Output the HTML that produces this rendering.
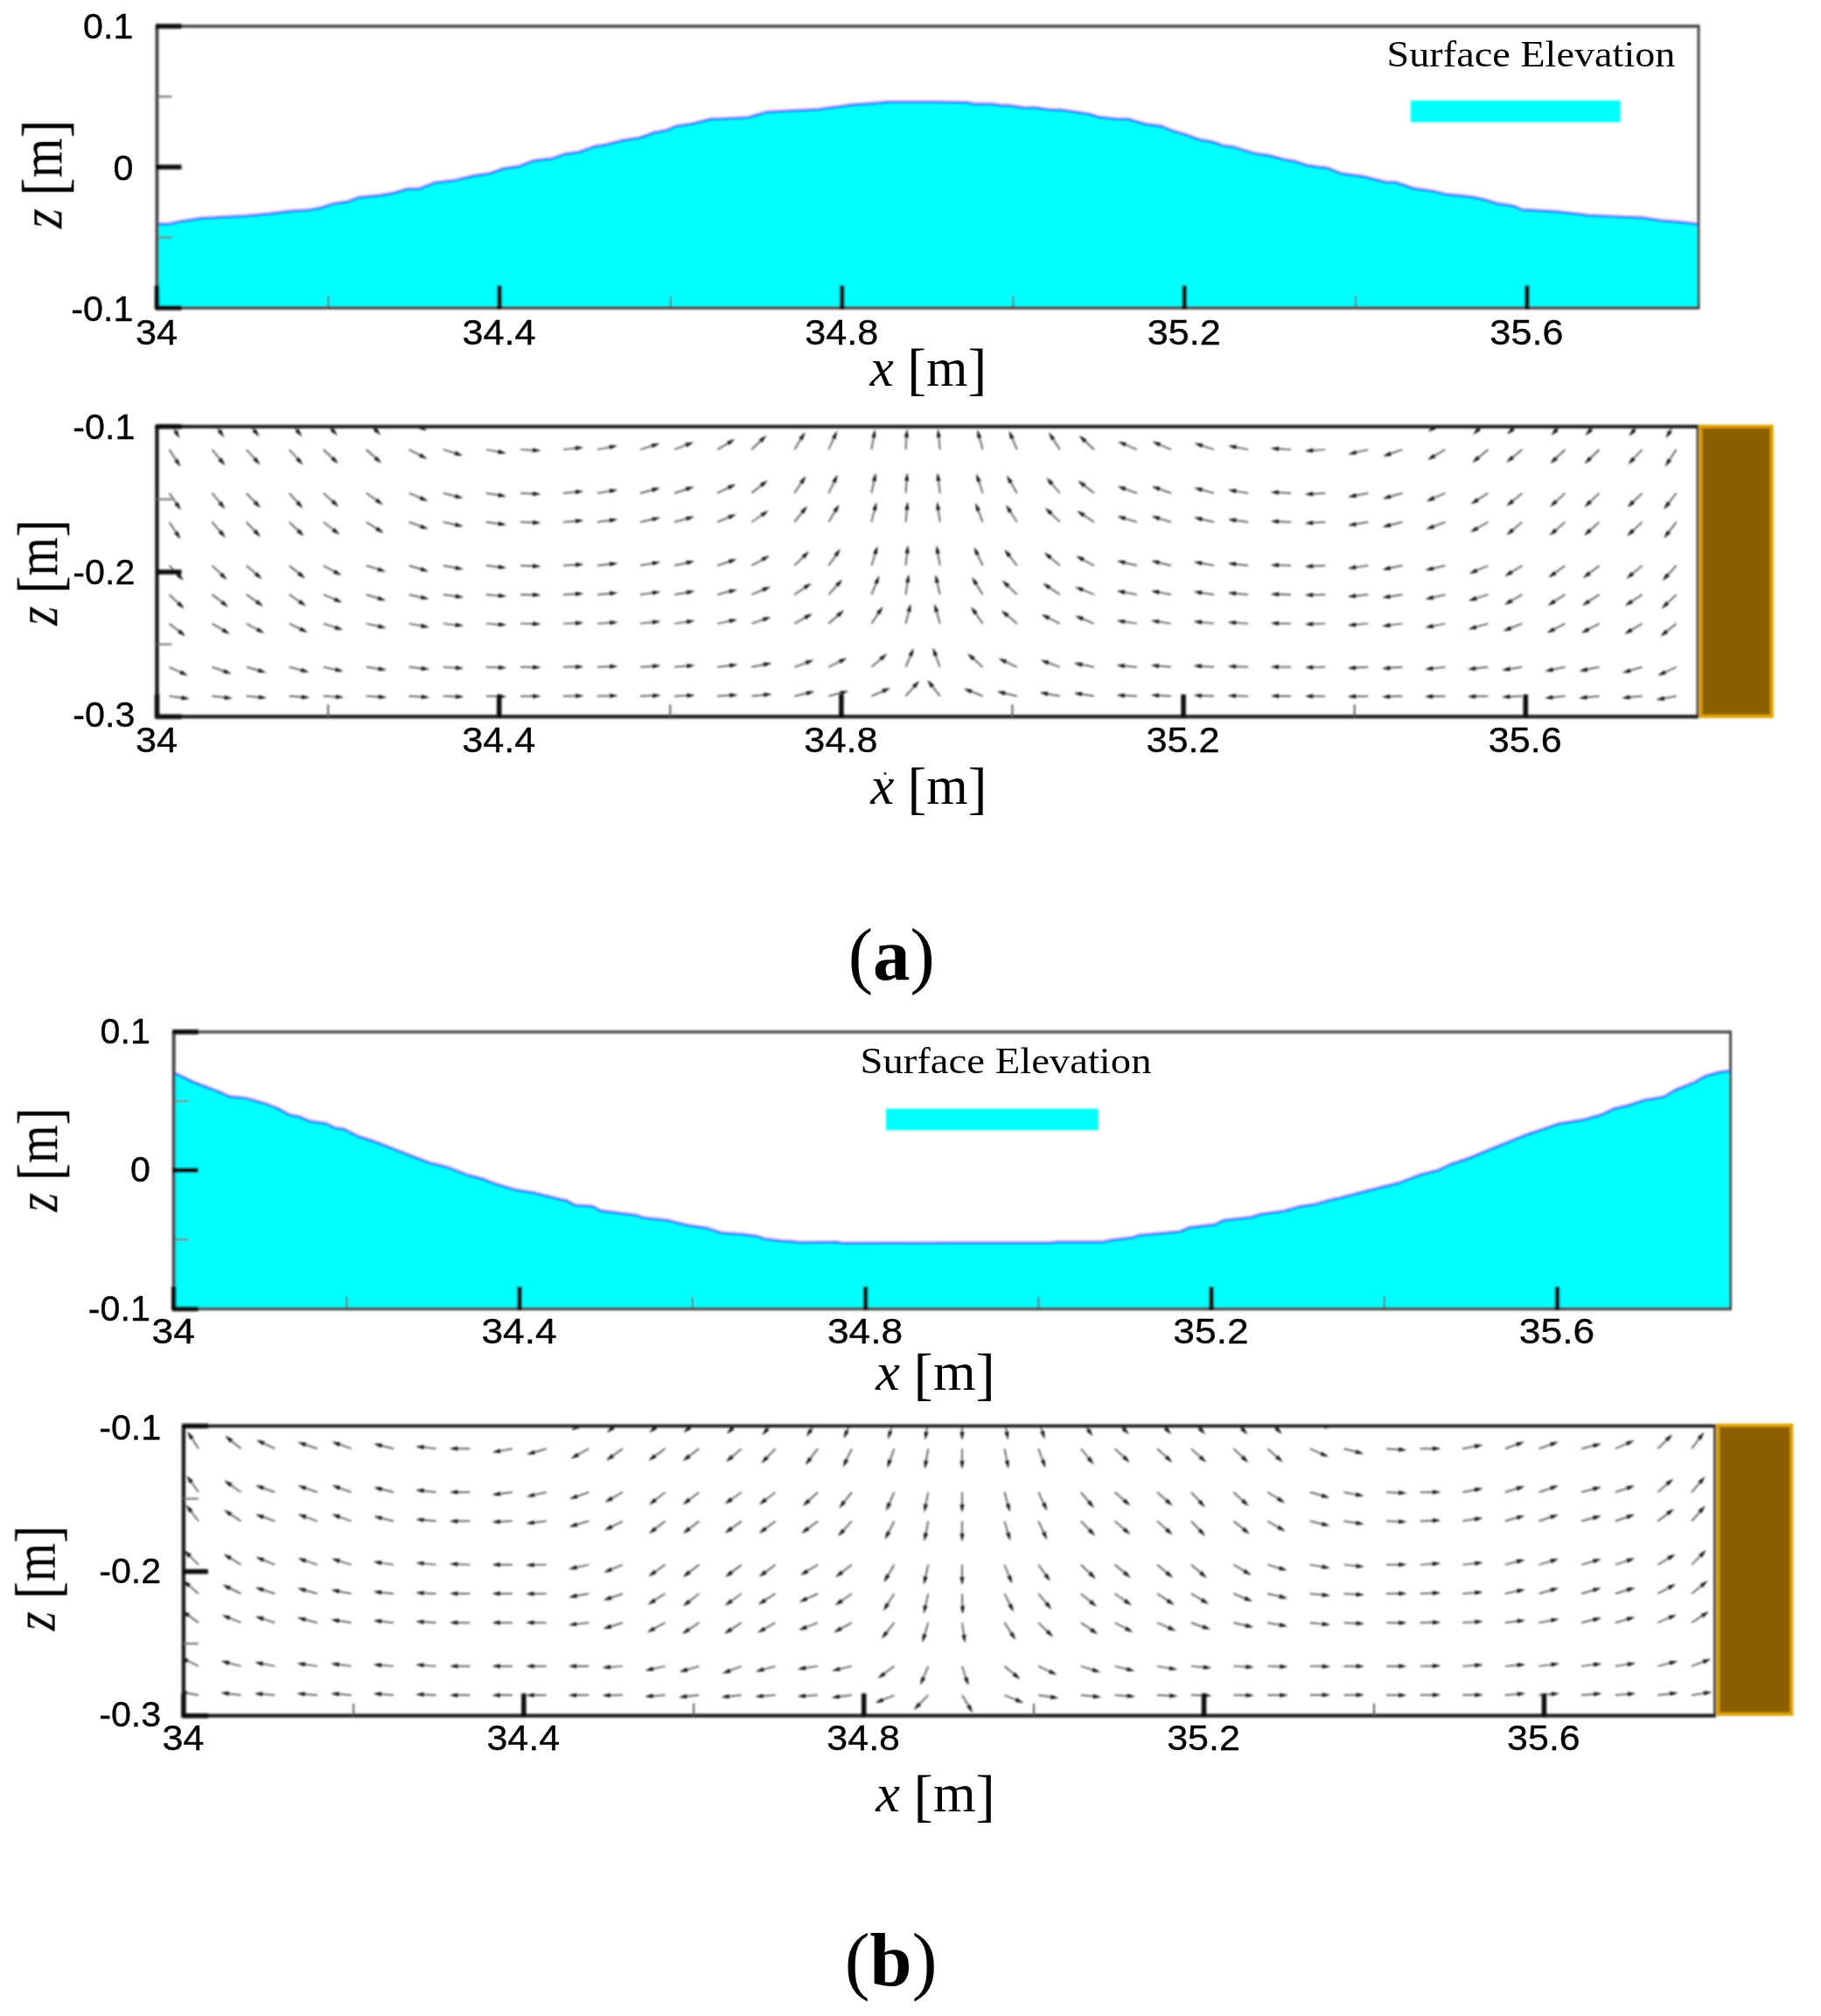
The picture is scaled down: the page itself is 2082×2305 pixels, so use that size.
<!DOCTYPE html>
<html lang="en"><head><meta charset="utf-8"><title>Figure</title>
<style>html,body{margin:0;padding:0;background:#fff}svg{display:block}</style></head>
<body>
<svg width="2082" height="2305" viewBox="0 0 2082 2305">
<defs>
<filter id="bl" x="-2%" y="-2%" width="104%" height="104%"><feGaussianBlur stdDeviation="0.8"/></filter>
<filter id="bt" x="-2%" y="-2%" width="104%" height="104%"><feGaussianBlur stdDeviation="0.5"/></filter>
<clipPath id="c2"><rect x="179.5" y="487.7" width="1761" height="331.7"/></clipPath>
<clipPath id="c4"><rect x="209.9" y="1630.4" width="1751" height="331.3"/></clipPath>
</defs>
<rect width="2082" height="2305" fill="#fff"/>
<g filter="url(#bl)">
<path d="M179.5,255.8 L192.3,255.8 L207.1,252.6 L229.4,249.3 L256.5,247.6 L281.3,246.4 L308.4,243.9 L333.2,240.9 L352.9,239.7 L367.7,237.0 L380.1,232.8 L397.4,230.3 L409.8,225.4 L434.5,222.9 L449.3,220.4 L466.6,215.5 L479.0,215.5 L496.2,208.8 L521.0,205.6 L540.7,200.7 L560.5,197.7 L575.3,192.5 L592.6,190.0 L609.9,183.4 L624.7,181.4 L629.9,181.4 L644.7,176.0 L662.0,173.5 L679.3,167.3 L694.1,164.6 L713.9,159.7 L731.2,157.2 L746.0,151.8 L760.9,148.8 L773.2,143.9 L793.0,140.7 L812.8,135.7 L830.0,135.2 L854.8,134.0 L877.0,127.6 L904.2,126.3 L936.3,124.6 L953.6,122.1 L975.8,119.2 L995.6,117.9 L1015.4,116.3 L1069.8,116.3 L1104.5,116.7 L1114.4,118.4 L1134.1,118.4 L1144.0,120.1 L1153.9,120.1 L1171.2,122.9 L1183.6,122.6 L1200.9,125.3 L1213.2,125.3 L1233.0,128.3 L1245.3,130.0 L1255.2,133.2 L1277.5,135.7 L1289.8,135.7 L1309.6,141.4 L1326.9,143.6 L1339.2,148.6 L1356.5,153.8 L1371.4,159.2 L1386.2,161.7 L1398.5,166.1 L1410.9,167.8 L1435.6,175.3 L1450.4,177.2 L1467.7,181.9 L1480.1,183.9 L1494.9,188.8 L1505.0,190.2 L1517.3,191.6 L1534.6,198.3 L1559.3,201.5 L1584.0,207.7 L1596.4,208.2 L1616.1,214.9 L1638.4,218.1 L1653.2,221.8 L1682.9,224.7 L1697.7,228.0 L1712.5,232.4 L1729.8,234.9 L1739.7,239.1 L1757.0,240.3 L1779.2,241.5 L1816.3,245.7 L1846.0,247.2 L1878.1,248.5 L1900.3,251.9 L1920.1,253.4 L1942.0,255.9 L1942,352 L179.5,352 Z" fill="#00ffff"/><path d="M179.5,255.8 L192.3,255.8 L207.1,252.6 L229.4,249.3 L256.5,247.6 L281.3,246.4 L308.4,243.9 L333.2,240.9 L352.9,239.7 L367.7,237.0 L380.1,232.8 L397.4,230.3 L409.8,225.4 L434.5,222.9 L449.3,220.4 L466.6,215.5 L479.0,215.5 L496.2,208.8 L521.0,205.6 L540.7,200.7 L560.5,197.7 L575.3,192.5 L592.6,190.0 L609.9,183.4 L624.7,181.4 L629.9,181.4 L644.7,176.0 L662.0,173.5 L679.3,167.3 L694.1,164.6 L713.9,159.7 L731.2,157.2 L746.0,151.8 L760.9,148.8 L773.2,143.9 L793.0,140.7 L812.8,135.7 L830.0,135.2 L854.8,134.0 L877.0,127.6 L904.2,126.3 L936.3,124.6 L953.6,122.1 L975.8,119.2 L995.6,117.9 L1015.4,116.3 L1069.8,116.3 L1104.5,116.7 L1114.4,118.4 L1134.1,118.4 L1144.0,120.1 L1153.9,120.1 L1171.2,122.9 L1183.6,122.6 L1200.9,125.3 L1213.2,125.3 L1233.0,128.3 L1245.3,130.0 L1255.2,133.2 L1277.5,135.7 L1289.8,135.7 L1309.6,141.4 L1326.9,143.6 L1339.2,148.6 L1356.5,153.8 L1371.4,159.2 L1386.2,161.7 L1398.5,166.1 L1410.9,167.8 L1435.6,175.3 L1450.4,177.2 L1467.7,181.9 L1480.1,183.9 L1494.9,188.8 L1505.0,190.2 L1517.3,191.6 L1534.6,198.3 L1559.3,201.5 L1584.0,207.7 L1596.4,208.2 L1616.1,214.9 L1638.4,218.1 L1653.2,221.8 L1682.9,224.7 L1697.7,228.0 L1712.5,232.4 L1729.8,234.9 L1739.7,239.1 L1757.0,240.3 L1779.2,241.5 L1816.3,245.7 L1846.0,247.2 L1878.1,248.5 L1900.3,251.9 L1920.1,253.4 L1942.0,255.9" fill="none" stroke-linejoin="round" stroke="#dcc0ff" stroke-width="1.7" transform="translate(0,-1.2)"/><path d="M179.5,255.8 L192.3,255.8 L207.1,252.6 L229.4,249.3 L256.5,247.6 L281.3,246.4 L308.4,243.9 L333.2,240.9 L352.9,239.7 L367.7,237.0 L380.1,232.8 L397.4,230.3 L409.8,225.4 L434.5,222.9 L449.3,220.4 L466.6,215.5 L479.0,215.5 L496.2,208.8 L521.0,205.6 L540.7,200.7 L560.5,197.7 L575.3,192.5 L592.6,190.0 L609.9,183.4 L624.7,181.4 L629.9,181.4 L644.7,176.0 L662.0,173.5 L679.3,167.3 L694.1,164.6 L713.9,159.7 L731.2,157.2 L746.0,151.8 L760.9,148.8 L773.2,143.9 L793.0,140.7 L812.8,135.7 L830.0,135.2 L854.8,134.0 L877.0,127.6 L904.2,126.3 L936.3,124.6 L953.6,122.1 L975.8,119.2 L995.6,117.9 L1015.4,116.3 L1069.8,116.3 L1104.5,116.7 L1114.4,118.4 L1134.1,118.4 L1144.0,120.1 L1153.9,120.1 L1171.2,122.9 L1183.6,122.6 L1200.9,125.3 L1213.2,125.3 L1233.0,128.3 L1245.3,130.0 L1255.2,133.2 L1277.5,135.7 L1289.8,135.7 L1309.6,141.4 L1326.9,143.6 L1339.2,148.6 L1356.5,153.8 L1371.4,159.2 L1386.2,161.7 L1398.5,166.1 L1410.9,167.8 L1435.6,175.3 L1450.4,177.2 L1467.7,181.9 L1480.1,183.9 L1494.9,188.8 L1505.0,190.2 L1517.3,191.6 L1534.6,198.3 L1559.3,201.5 L1584.0,207.7 L1596.4,208.2 L1616.1,214.9 L1638.4,218.1 L1653.2,221.8 L1682.9,224.7 L1697.7,228.0 L1712.5,232.4 L1729.8,234.9 L1739.7,239.1 L1757.0,240.3 L1779.2,241.5 L1816.3,245.7 L1846.0,247.2 L1878.1,248.5 L1900.3,251.9 L1920.1,253.4 L1942.0,255.9" fill="none" stroke-linejoin="round" stroke="#0a7cff" stroke-width="2.5" transform="translate(0,0.8)"/>
<line x1="177.55" y1="30" x2="1943.45" y2="30" stroke="#444" stroke-width="3.3"/>
<line x1="177.55" y1="352" x2="1943.45" y2="352" stroke="#444" stroke-width="3.5999999999999996"/>
<line x1="179.5" y1="30" x2="179.5" y2="352" stroke="#444" stroke-width="3.9"/>
<line x1="1942" y1="30" x2="1942" y2="352" stroke="#444" stroke-width="2.9"/>
<line x1="178.0" y1="30" x2="207.5" y2="30" stroke="#0a0a0a" stroke-width="5.5"/>
<line x1="178.0" y1="191" x2="207.5" y2="191" stroke="#0a0a0a" stroke-width="5.5"/>
<line x1="178.0" y1="352" x2="207.5" y2="352" stroke="#0a0a0a" stroke-width="5.5"/>
<line x1="179.5" y1="110.5" x2="196.5" y2="110.5" stroke="#6a6a6a" stroke-width="2"/>
<line x1="179.5" y1="271.5" x2="196.5" y2="271.5" stroke="#6a6a6a" stroke-width="2"/>
<line x1="179.5" y1="326.5" x2="179.5" y2="353.5" stroke="#0a0a0a" stroke-width="5.5"/>

<line x1="571.1" y1="326.5" x2="571.1" y2="353.5" stroke="#0a0a0a" stroke-width="5.5"/>

<line x1="962.7" y1="326.5" x2="962.7" y2="353.5" stroke="#0a0a0a" stroke-width="5.5"/>

<line x1="1354.3" y1="326.5" x2="1354.3" y2="353.5" stroke="#0a0a0a" stroke-width="5.5"/>

<line x1="1745.9" y1="326.5" x2="1745.9" y2="353.5" stroke="#0a0a0a" stroke-width="5.5"/>

<line x1="375.3" y1="338" x2="375.3" y2="352" stroke="#5a5a5a" stroke-width="2"/>
<line x1="766.9" y1="338" x2="766.9" y2="352" stroke="#5a5a5a" stroke-width="2"/>
<line x1="1158.5" y1="338" x2="1158.5" y2="352" stroke="#5a5a5a" stroke-width="2"/>
<line x1="1550.1" y1="338" x2="1550.1" y2="352" stroke="#5a5a5a" stroke-width="2"/>



<rect x="1612.8" y="115" width="239.7" height="24.7" fill="#00ffff"/>
<g clip-path="url(#c2)">
<line x1="193.6" y1="795.9" x2="213.9" y2="798.6" stroke="#555" stroke-width="1.75"/>
<polygon points="216.9,799.0 207.1,800.2 207.8,795.3" fill="#111"/>
<line x1="193.6" y1="762.7" x2="212.2" y2="771.3" stroke="#555" stroke-width="1.75"/>
<polygon points="214.9,772.6 205.3,770.8 207.4,766.3" fill="#111"/>
<line x1="193.6" y1="713.0" x2="209.8" y2="725.6" stroke="#555" stroke-width="1.75"/>
<polygon points="212.1,727.5 203.1,723.6 206.2,719.6" fill="#111"/>
<line x1="193.6" y1="679.8" x2="208.4" y2="693.9" stroke="#555" stroke-width="1.75"/>
<polygon points="210.6,696.0 202.0,691.3 205.5,687.6" fill="#111"/>
<line x1="193.6" y1="646.7" x2="207.7" y2="661.5" stroke="#555" stroke-width="1.75"/>
<polygon points="209.8,663.7 201.4,658.6 205.1,655.1" fill="#111"/>
<line x1="193.6" y1="596.9" x2="204.8" y2="614.1" stroke="#555" stroke-width="1.75"/>
<polygon points="206.4,616.6 199.2,610.0 203.3,607.3" fill="#111"/>
<line x1="193.6" y1="563.8" x2="205.2" y2="580.7" stroke="#555" stroke-width="1.75"/>
<polygon points="206.8,583.2 199.4,576.8 203.6,574.0" fill="#111"/>
<line x1="193.6" y1="514.0" x2="204.8" y2="531.2" stroke="#555" stroke-width="1.75"/>
<polygon points="206.4,533.7 199.2,527.1 203.3,524.4" fill="#111"/>
<line x1="193.6" y1="480.9" x2="203.9" y2="498.6" stroke="#555" stroke-width="1.75"/>
<polygon points="205.4,501.2 198.5,494.3 202.8,491.7" fill="#111"/>
<line x1="242.5" y1="795.9" x2="262.9" y2="798.1" stroke="#555" stroke-width="1.75"/>
<polygon points="265.9,798.4 256.2,799.9 256.7,794.9" fill="#111"/>
<line x1="242.5" y1="762.7" x2="261.9" y2="769.4" stroke="#555" stroke-width="1.75"/>
<polygon points="264.8,770.4 255.0,769.6 256.6,764.9" fill="#111"/>
<line x1="242.5" y1="713.0" x2="260.2" y2="723.3" stroke="#555" stroke-width="1.75"/>
<polygon points="262.8,724.9 253.4,722.2 255.9,717.9" fill="#111"/>
<line x1="242.5" y1="679.8" x2="258.8" y2="692.3" stroke="#555" stroke-width="1.75"/>
<polygon points="261.1,694.2 252.1,690.3 255.2,686.4" fill="#111"/>
<line x1="242.5" y1="646.7" x2="257.4" y2="660.8" stroke="#555" stroke-width="1.75"/>
<polygon points="259.6,662.9 251.0,658.2 254.4,654.5" fill="#111"/>
<line x1="242.5" y1="596.9" x2="255.8" y2="612.5" stroke="#555" stroke-width="1.75"/>
<polygon points="257.8,614.8 249.7,609.2 253.5,605.9" fill="#111"/>
<line x1="242.5" y1="563.8" x2="255.5" y2="579.7" stroke="#555" stroke-width="1.75"/>
<polygon points="257.3,582.1 249.4,576.3 253.3,573.1" fill="#111"/>
<line x1="242.5" y1="514.0" x2="255.5" y2="529.9" stroke="#555" stroke-width="1.75"/>
<polygon points="257.3,532.3 249.4,526.5 253.3,523.3" fill="#111"/>
<line x1="242.5" y1="480.9" x2="254.6" y2="497.5" stroke="#555" stroke-width="1.75"/>
<polygon points="256.3,499.9 248.7,493.7 252.8,490.8" fill="#111"/>
<line x1="281.7" y1="795.9" x2="302.1" y2="797.7" stroke="#555" stroke-width="1.75"/>
<polygon points="305.1,798.0 295.4,799.6 295.9,794.7" fill="#111"/>
<line x1="281.7" y1="762.7" x2="301.5" y2="768.1" stroke="#555" stroke-width="1.75"/>
<polygon points="304.4,768.9 294.6,768.8 295.9,764.0" fill="#111"/>
<line x1="281.7" y1="713.0" x2="299.8" y2="722.7" stroke="#555" stroke-width="1.75"/>
<polygon points="302.4,724.1 292.9,721.8 295.2,717.4" fill="#111"/>
<line x1="281.7" y1="679.8" x2="298.5" y2="691.5" stroke="#555" stroke-width="1.75"/>
<polygon points="301.0,693.2 291.8,689.8 294.6,685.7" fill="#111"/>
<line x1="281.7" y1="646.7" x2="297.3" y2="660.0" stroke="#555" stroke-width="1.75"/>
<polygon points="299.6,662.0 290.7,657.7 294.0,653.9" fill="#111"/>
<line x1="281.7" y1="596.9" x2="295.8" y2="611.8" stroke="#555" stroke-width="1.75"/>
<polygon points="297.9,613.9 289.5,608.8 293.2,605.3" fill="#111"/>
<line x1="281.7" y1="563.8" x2="295.8" y2="578.7" stroke="#555" stroke-width="1.75"/>
<polygon points="297.9,580.8 289.5,575.7 293.2,572.2" fill="#111"/>
<line x1="281.7" y1="514.0" x2="295.5" y2="529.2" stroke="#555" stroke-width="1.75"/>
<polygon points="297.5,531.4 289.2,526.1 293.0,522.7" fill="#111"/>
<line x1="281.7" y1="480.9" x2="294.6" y2="496.9" stroke="#555" stroke-width="1.75"/>
<polygon points="296.5,499.2 288.6,493.4 292.4,490.2" fill="#111"/>
<line x1="330.7" y1="795.9" x2="351.1" y2="797.4" stroke="#555" stroke-width="1.75"/>
<polygon points="354.1,797.6 344.4,799.4 344.8,794.4" fill="#111"/>
<line x1="330.7" y1="762.7" x2="350.5" y2="767.8" stroke="#555" stroke-width="1.75"/>
<polygon points="353.4,768.6 343.6,768.6 344.8,763.8" fill="#111"/>
<line x1="330.7" y1="713.0" x2="349.1" y2="721.9" stroke="#555" stroke-width="1.75"/>
<polygon points="351.9,723.2 342.2,721.3 344.4,716.8" fill="#111"/>
<line x1="330.7" y1="679.8" x2="347.6" y2="691.4" stroke="#555" stroke-width="1.75"/>
<polygon points="350.1,693.0 340.8,689.8 343.6,685.6" fill="#111"/>
<line x1="330.7" y1="646.7" x2="346.7" y2="659.5" stroke="#555" stroke-width="1.75"/>
<polygon points="349.0,661.4 340.0,657.4 343.1,653.5" fill="#111"/>
<line x1="330.7" y1="596.9" x2="345.5" y2="611.0" stroke="#555" stroke-width="1.75"/>
<polygon points="347.7,613.1 339.1,608.4 342.5,604.7" fill="#111"/>
<line x1="330.7" y1="563.8" x2="344.4" y2="579.0" stroke="#555" stroke-width="1.75"/>
<polygon points="346.4,581.3 338.2,575.9 341.9,572.5" fill="#111"/>
<line x1="330.7" y1="514.0" x2="344.4" y2="529.2" stroke="#555" stroke-width="1.75"/>
<polygon points="346.4,531.4 338.2,526.1 341.9,522.7" fill="#111"/>
<line x1="330.7" y1="480.9" x2="343.5" y2="496.9" stroke="#555" stroke-width="1.75"/>
<polygon points="345.4,499.2 337.5,493.4 341.4,490.2" fill="#111"/>
<line x1="369.8" y1="795.9" x2="390.3" y2="797.0" stroke="#555" stroke-width="1.75"/>
<polygon points="393.3,797.2 383.7,799.2 383.9,794.2" fill="#111"/>
<line x1="369.8" y1="762.7" x2="389.9" y2="767.0" stroke="#555" stroke-width="1.75"/>
<polygon points="392.8,767.6 383.0,768.1 384.0,763.2" fill="#111"/>
<line x1="369.8" y1="713.0" x2="389.3" y2="719.3" stroke="#555" stroke-width="1.75"/>
<polygon points="392.2,720.2 382.4,719.7 383.9,714.9" fill="#111"/>
<line x1="369.8" y1="679.8" x2="388.7" y2="687.8" stroke="#555" stroke-width="1.75"/>
<polygon points="391.5,688.9 381.7,687.6 383.7,682.9" fill="#111"/>
<line x1="369.8" y1="646.7" x2="387.9" y2="656.5" stroke="#555" stroke-width="1.75"/>
<polygon points="390.5,657.9 380.9,655.6 383.3,651.2" fill="#111"/>
<line x1="369.8" y1="596.9" x2="386.0" y2="609.4" stroke="#555" stroke-width="1.75"/>
<polygon points="388.4,611.3 379.4,607.4 382.4,603.5" fill="#111"/>
<line x1="369.8" y1="563.8" x2="385.1" y2="577.5" stroke="#555" stroke-width="1.75"/>
<polygon points="387.3,579.5 378.6,575.0 381.9,571.3" fill="#111"/>
<line x1="369.8" y1="514.0" x2="384.7" y2="528.1" stroke="#555" stroke-width="1.75"/>
<polygon points="386.9,530.2 378.3,525.5 381.7,521.8" fill="#111"/>
<line x1="369.8" y1="480.9" x2="383.9" y2="495.8" stroke="#555" stroke-width="1.75"/>
<polygon points="385.9,498.0 377.6,492.8 381.2,489.4" fill="#111"/>
<line x1="418.8" y1="795.9" x2="439.2" y2="797.1" stroke="#555" stroke-width="1.75"/>
<polygon points="442.2,797.3 432.6,799.2 432.9,794.2" fill="#111"/>
<line x1="418.8" y1="762.7" x2="439.1" y2="765.6" stroke="#555" stroke-width="1.75"/>
<polygon points="442.0,766.0 432.3,767.1 433.0,762.2" fill="#111"/>
<line x1="418.8" y1="713.0" x2="438.8" y2="717.3" stroke="#555" stroke-width="1.75"/>
<polygon points="441.7,717.9 431.9,718.4 433.0,713.5" fill="#111"/>
<line x1="418.8" y1="679.8" x2="438.4" y2="685.8" stroke="#555" stroke-width="1.75"/>
<polygon points="441.2,686.7 431.4,686.3 432.9,681.5" fill="#111"/>
<line x1="418.8" y1="646.7" x2="438.4" y2="652.7" stroke="#555" stroke-width="1.75"/>
<polygon points="441.2,653.6 431.4,653.2 432.9,648.4" fill="#111"/>
<line x1="418.8" y1="596.9" x2="436.2" y2="607.8" stroke="#555" stroke-width="1.75"/>
<polygon points="438.7,609.4 429.3,606.4 432.0,602.2" fill="#111"/>
<line x1="418.8" y1="563.8" x2="435.6" y2="575.5" stroke="#555" stroke-width="1.75"/>
<polygon points="438.1,577.2 428.8,573.8 431.7,569.7" fill="#111"/>
<line x1="418.8" y1="514.0" x2="434.0" y2="527.7" stroke="#555" stroke-width="1.75"/>
<polygon points="436.2,529.7 427.5,525.2 430.8,521.5" fill="#111"/>
<line x1="418.8" y1="480.9" x2="433.2" y2="495.5" stroke="#555" stroke-width="1.75"/>
<polygon points="435.3,497.6 426.9,492.6 430.4,489.1" fill="#111"/>
<line x1="467.7" y1="795.9" x2="488.2" y2="797.1" stroke="#555" stroke-width="1.75"/>
<polygon points="491.2,797.2 481.6,799.2 481.8,794.2" fill="#111"/>
<line x1="467.7" y1="762.7" x2="488.1" y2="764.9" stroke="#555" stroke-width="1.75"/>
<polygon points="491.1,765.2 481.4,766.7 481.9,761.7" fill="#111"/>
<line x1="467.7" y1="713.0" x2="487.9" y2="716.7" stroke="#555" stroke-width="1.75"/>
<polygon points="490.8,717.3 481.0,718.0 481.9,713.1" fill="#111"/>
<line x1="467.7" y1="679.8" x2="487.7" y2="684.3" stroke="#555" stroke-width="1.75"/>
<polygon points="490.6,685.0 480.8,685.3 481.9,680.5" fill="#111"/>
<line x1="467.7" y1="646.7" x2="487.4" y2="652.6" stroke="#555" stroke-width="1.75"/>
<polygon points="490.2,653.4 480.4,653.1 481.8,648.3" fill="#111"/>
<line x1="467.7" y1="596.9" x2="487.0" y2="604.0" stroke="#555" stroke-width="1.75"/>
<polygon points="489.8,605.0 480.0,604.1 481.7,599.4" fill="#111"/>
<line x1="467.7" y1="563.8" x2="486.6" y2="571.9" stroke="#555" stroke-width="1.75"/>
<polygon points="489.3,573.1 479.6,571.6 481.6,567.0" fill="#111"/>
<line x1="467.7" y1="514.0" x2="485.9" y2="523.4" stroke="#555" stroke-width="1.75"/>
<polygon points="488.6,524.8 479.0,522.6 481.3,518.2" fill="#111"/>
<line x1="467.7" y1="480.9" x2="485.5" y2="491.2" stroke="#555" stroke-width="1.75"/>
<polygon points="488.1,492.7 478.6,490.1 481.1,485.7" fill="#111"/>
<line x1="506.9" y1="795.9" x2="527.4" y2="796.6" stroke="#555" stroke-width="1.75"/>
<polygon points="530.4,796.7 520.8,798.9 521.0,793.9" fill="#111"/>
<line x1="506.9" y1="762.7" x2="527.3" y2="764.0" stroke="#555" stroke-width="1.75"/>
<polygon points="530.3,764.2 520.7,766.1 521.0,761.1" fill="#111"/>
<line x1="506.9" y1="713.0" x2="527.3" y2="715.3" stroke="#555" stroke-width="1.75"/>
<polygon points="530.2,715.6 520.5,717.0 521.1,712.1" fill="#111"/>
<line x1="506.9" y1="679.8" x2="527.2" y2="682.6" stroke="#555" stroke-width="1.75"/>
<polygon points="530.2,683.0 520.4,684.2 521.1,679.2" fill="#111"/>
<line x1="506.9" y1="646.7" x2="527.1" y2="650.3" stroke="#555" stroke-width="1.75"/>
<polygon points="530.0,650.9 520.2,651.6 521.1,646.7" fill="#111"/>
<line x1="506.9" y1="596.9" x2="526.9" y2="601.3" stroke="#555" stroke-width="1.75"/>
<polygon points="529.8,601.9 520.0,602.3 521.1,597.5" fill="#111"/>
<line x1="506.9" y1="563.8" x2="526.7" y2="568.9" stroke="#555" stroke-width="1.75"/>
<polygon points="529.6,569.6 519.8,569.7 521.1,564.9" fill="#111"/>
<line x1="506.9" y1="514.0" x2="526.5" y2="520.1" stroke="#555" stroke-width="1.75"/>
<polygon points="529.3,520.9 519.5,520.5 521.0,515.8" fill="#111"/>
<line x1="506.9" y1="480.9" x2="526.2" y2="487.6" stroke="#555" stroke-width="1.75"/>
<polygon points="529.1,488.6 519.3,487.8 520.9,483.1" fill="#111"/>
<line x1="555.8" y1="795.9" x2="576.3" y2="796.3" stroke="#555" stroke-width="1.75"/>
<polygon points="579.3,796.4 569.8,798.7 569.9,793.7" fill="#111"/>
<line x1="555.8" y1="762.7" x2="576.3" y2="763.5" stroke="#555" stroke-width="1.75"/>
<polygon points="579.3,763.6 569.7,765.7 569.9,760.7" fill="#111"/>
<line x1="555.8" y1="713.0" x2="576.3" y2="714.4" stroke="#555" stroke-width="1.75"/>
<polygon points="579.3,714.6 569.6,716.4 570.0,711.4" fill="#111"/>
<line x1="555.8" y1="679.8" x2="576.3" y2="681.5" stroke="#555" stroke-width="1.75"/>
<polygon points="579.3,681.7 569.6,683.4 570.0,678.4" fill="#111"/>
<line x1="555.8" y1="646.7" x2="576.2" y2="648.9" stroke="#555" stroke-width="1.75"/>
<polygon points="579.2,649.2 569.5,650.7 570.0,645.7" fill="#111"/>
<line x1="555.8" y1="596.9" x2="576.2" y2="599.6" stroke="#555" stroke-width="1.75"/>
<polygon points="579.1,600.0 569.4,601.2 570.0,596.2" fill="#111"/>
<line x1="555.8" y1="563.8" x2="576.1" y2="566.9" stroke="#555" stroke-width="1.75"/>
<polygon points="579.1,567.4 569.3,568.4 570.0,563.5" fill="#111"/>
<line x1="555.8" y1="514.0" x2="576.0" y2="517.7" stroke="#555" stroke-width="1.75"/>
<polygon points="578.9,518.3 569.1,519.0 570.1,514.1" fill="#111"/>
<line x1="555.8" y1="480.9" x2="575.9" y2="485.1" stroke="#555" stroke-width="1.75"/>
<polygon points="578.8,485.7 569.0,486.2 570.0,481.3" fill="#111"/>
<line x1="595.0" y1="795.9" x2="615.5" y2="796.0" stroke="#555" stroke-width="1.75"/>
<polygon points="618.5,796.0 609.0,798.5 609.0,793.5" fill="#111"/>
<line x1="595.0" y1="762.7" x2="615.5" y2="762.9" stroke="#555" stroke-width="1.75"/>
<polygon points="618.5,763.0 609.0,765.4 609.0,760.4" fill="#111"/>
<line x1="595.0" y1="713.0" x2="615.5" y2="713.4" stroke="#555" stroke-width="1.75"/>
<polygon points="618.5,713.5 608.9,715.8 609.0,710.8" fill="#111"/>
<line x1="595.0" y1="679.8" x2="615.5" y2="680.3" stroke="#555" stroke-width="1.75"/>
<polygon points="618.5,680.4 608.9,682.6 609.0,677.6" fill="#111"/>
<line x1="595.0" y1="646.7" x2="615.5" y2="647.4" stroke="#555" stroke-width="1.75"/>
<polygon points="618.5,647.5 608.9,649.7 609.1,644.7" fill="#111"/>
<line x1="595.0" y1="596.9" x2="615.5" y2="597.7" stroke="#555" stroke-width="1.75"/>
<polygon points="618.5,597.8 608.9,600.0 609.1,595.0" fill="#111"/>
<line x1="595.0" y1="563.8" x2="615.5" y2="564.8" stroke="#555" stroke-width="1.75"/>
<polygon points="618.5,564.9 608.9,566.9 609.1,562.0" fill="#111"/>
<line x1="595.0" y1="514.0" x2="615.5" y2="515.1" stroke="#555" stroke-width="1.75"/>
<polygon points="618.5,515.3 608.8,517.3 609.1,512.3" fill="#111"/>
<line x1="595.0" y1="480.9" x2="615.4" y2="482.2" stroke="#555" stroke-width="1.75"/>
<polygon points="618.4,482.4 608.8,484.3 609.1,479.3" fill="#111"/>
<line x1="643.9" y1="795.9" x2="664.4" y2="795.7" stroke="#555" stroke-width="1.75"/>
<polygon points="667.4,795.6 658.0,798.2 657.9,793.2" fill="#111"/>
<line x1="643.9" y1="762.7" x2="664.4" y2="762.2" stroke="#555" stroke-width="1.75"/>
<polygon points="667.4,762.2 658.0,764.9 657.9,759.9" fill="#111"/>
<line x1="643.9" y1="713.0" x2="664.4" y2="712.2" stroke="#555" stroke-width="1.75"/>
<polygon points="667.4,712.1 658.0,714.9 657.8,709.9" fill="#111"/>
<line x1="643.9" y1="679.8" x2="664.4" y2="678.8" stroke="#555" stroke-width="1.75"/>
<polygon points="667.4,678.7 658.0,681.6 657.8,676.6" fill="#111"/>
<line x1="643.9" y1="646.7" x2="664.4" y2="645.4" stroke="#555" stroke-width="1.75"/>
<polygon points="667.4,645.2 658.1,648.3 657.8,643.3" fill="#111"/>
<line x1="643.9" y1="596.9" x2="664.4" y2="595.3" stroke="#555" stroke-width="1.75"/>
<polygon points="667.4,595.1 658.1,598.3 657.7,593.3" fill="#111"/>
<line x1="643.9" y1="563.8" x2="664.4" y2="561.9" stroke="#555" stroke-width="1.75"/>
<polygon points="667.3,561.7 658.1,565.0 657.7,560.0" fill="#111"/>
<line x1="643.9" y1="514.0" x2="664.3" y2="511.8" stroke="#555" stroke-width="1.75"/>
<polygon points="667.3,511.4 658.1,514.9 657.6,510.0" fill="#111"/>
<line x1="643.9" y1="480.9" x2="664.3" y2="478.4" stroke="#555" stroke-width="1.75"/>
<polygon points="667.3,478.0 658.1,481.7 657.5,476.7" fill="#111"/>
<line x1="683.1" y1="795.9" x2="703.6" y2="795.5" stroke="#555" stroke-width="1.75"/>
<polygon points="706.6,795.4 697.2,798.1 697.0,793.1" fill="#111"/>
<line x1="683.1" y1="762.7" x2="703.6" y2="761.9" stroke="#555" stroke-width="1.75"/>
<polygon points="706.6,761.7 697.2,764.6 697.0,759.6" fill="#111"/>
<line x1="683.1" y1="713.0" x2="703.5" y2="711.6" stroke="#555" stroke-width="1.75"/>
<polygon points="706.5,711.4 697.2,714.5 696.9,709.5" fill="#111"/>
<line x1="683.1" y1="679.8" x2="703.5" y2="678.1" stroke="#555" stroke-width="1.75"/>
<polygon points="706.5,677.8 697.3,681.1 696.8,676.1" fill="#111"/>
<line x1="683.1" y1="646.7" x2="703.5" y2="644.4" stroke="#555" stroke-width="1.75"/>
<polygon points="706.5,644.1 697.3,647.6 696.7,642.6" fill="#111"/>
<line x1="683.1" y1="596.9" x2="703.4" y2="594.1" stroke="#555" stroke-width="1.75"/>
<polygon points="706.4,593.7 697.3,597.5 696.6,592.5" fill="#111"/>
<line x1="683.1" y1="563.8" x2="703.3" y2="560.5" stroke="#555" stroke-width="1.75"/>
<polygon points="706.3,560.1 697.3,564.0 696.5,559.1" fill="#111"/>
<line x1="683.1" y1="514.0" x2="703.2" y2="510.1" stroke="#555" stroke-width="1.75"/>
<polygon points="706.2,509.5 697.3,513.8 696.4,508.9" fill="#111"/>
<line x1="683.1" y1="480.9" x2="703.1" y2="476.5" stroke="#555" stroke-width="1.75"/>
<polygon points="706.1,475.9 697.3,480.4 696.2,475.5" fill="#111"/>
<line x1="732.0" y1="795.9" x2="752.5" y2="795.2" stroke="#555" stroke-width="1.75"/>
<polygon points="755.5,795.1 746.1,797.9 746.0,792.9" fill="#111"/>
<line x1="732.0" y1="762.7" x2="752.5" y2="761.3" stroke="#555" stroke-width="1.75"/>
<polygon points="755.5,761.1 746.2,764.3 745.9,759.3" fill="#111"/>
<line x1="732.0" y1="713.0" x2="752.4" y2="710.7" stroke="#555" stroke-width="1.75"/>
<polygon points="755.4,710.3 746.2,713.9 745.7,708.9" fill="#111"/>
<line x1="732.0" y1="679.8" x2="752.4" y2="677.0" stroke="#555" stroke-width="1.75"/>
<polygon points="755.3,676.6 746.3,680.3 745.6,675.4" fill="#111"/>
<line x1="732.0" y1="646.7" x2="752.2" y2="643.0" stroke="#555" stroke-width="1.75"/>
<polygon points="755.2,642.4 746.3,646.6 745.4,641.7" fill="#111"/>
<line x1="732.0" y1="596.9" x2="752.0" y2="592.4" stroke="#555" stroke-width="1.75"/>
<polygon points="755.0,591.7 746.3,596.3 745.2,591.4" fill="#111"/>
<line x1="732.0" y1="563.8" x2="751.9" y2="558.6" stroke="#555" stroke-width="1.75"/>
<polygon points="754.8,557.8 746.2,562.7 745.0,557.8" fill="#111"/>
<line x1="732.0" y1="514.0" x2="751.6" y2="507.8" stroke="#555" stroke-width="1.75"/>
<polygon points="754.4,506.9 746.2,512.1 744.6,507.4" fill="#111"/>
<line x1="732.0" y1="480.9" x2="751.4" y2="474.0" stroke="#555" stroke-width="1.75"/>
<polygon points="754.2,473.0 746.1,478.6 744.4,473.9" fill="#111"/>
<line x1="771.2" y1="795.9" x2="791.7" y2="795.0" stroke="#555" stroke-width="1.75"/>
<polygon points="794.7,794.9 785.3,797.8 785.1,792.8" fill="#111"/>
<line x1="771.2" y1="762.7" x2="791.6" y2="761.0" stroke="#555" stroke-width="1.75"/>
<polygon points="794.6,760.8 785.4,764.0 785.0,759.1" fill="#111"/>
<line x1="771.2" y1="713.0" x2="791.5" y2="710.1" stroke="#555" stroke-width="1.75"/>
<polygon points="794.5,709.7 785.4,713.5 784.7,708.6" fill="#111"/>
<line x1="771.2" y1="679.8" x2="791.4" y2="676.3" stroke="#555" stroke-width="1.75"/>
<polygon points="794.4,675.8 785.4,679.9 784.6,674.9" fill="#111"/>
<line x1="771.2" y1="646.7" x2="791.2" y2="642.1" stroke="#555" stroke-width="1.75"/>
<polygon points="794.1,641.5 785.4,646.0 784.3,641.1" fill="#111"/>
<line x1="771.2" y1="596.9" x2="791.0" y2="591.4" stroke="#555" stroke-width="1.75"/>
<polygon points="793.8,590.6 785.4,595.5 784.0,590.7" fill="#111"/>
<line x1="771.2" y1="563.8" x2="790.7" y2="557.4" stroke="#555" stroke-width="1.75"/>
<polygon points="793.5,556.5 785.3,561.8 783.7,557.1" fill="#111"/>
<line x1="771.2" y1="514.0" x2="790.3" y2="506.5" stroke="#555" stroke-width="1.75"/>
<polygon points="793.1,505.4 785.2,511.2 783.3,506.5" fill="#111"/>
<line x1="771.2" y1="480.9" x2="790.0" y2="472.6" stroke="#555" stroke-width="1.75"/>
<polygon points="792.7,471.4 785.0,477.5 783.0,473.0" fill="#111"/>
<line x1="820.2" y1="795.9" x2="840.6" y2="794.6" stroke="#555" stroke-width="1.75"/>
<polygon points="843.6,794.4 834.3,797.5 834.0,792.5" fill="#111"/>
<line x1="820.2" y1="762.7" x2="840.5" y2="760.2" stroke="#555" stroke-width="1.75"/>
<polygon points="843.5,759.8 834.4,763.5 833.8,758.5" fill="#111"/>
<line x1="820.2" y1="713.0" x2="840.2" y2="708.8" stroke="#555" stroke-width="1.75"/>
<polygon points="843.2,708.2 834.4,712.6 833.3,707.7" fill="#111"/>
<line x1="820.2" y1="679.8" x2="840.0" y2="674.7" stroke="#555" stroke-width="1.75"/>
<polygon points="842.9,673.9 834.3,678.7 833.1,673.9" fill="#111"/>
<line x1="820.2" y1="646.7" x2="839.6" y2="640.1" stroke="#555" stroke-width="1.75"/>
<polygon points="842.4,639.2 834.2,644.6 832.6,639.8" fill="#111"/>
<line x1="820.2" y1="596.9" x2="839.1" y2="589.0" stroke="#555" stroke-width="1.75"/>
<polygon points="841.9,587.9 834.0,593.8 832.1,589.2" fill="#111"/>
<line x1="820.2" y1="563.8" x2="838.6" y2="554.9" stroke="#555" stroke-width="1.75"/>
<polygon points="841.3,553.5 833.8,559.9 831.7,555.4" fill="#111"/>
<line x1="820.2" y1="514.0" x2="837.9" y2="503.7" stroke="#555" stroke-width="1.75"/>
<polygon points="840.4,502.1 833.5,509.1 831.0,504.8" fill="#111"/>
<line x1="820.2" y1="480.9" x2="837.3" y2="469.7" stroke="#555" stroke-width="1.75"/>
<polygon points="839.8,468.0 833.2,475.3 830.5,471.1" fill="#111"/>
<line x1="859.3" y1="795.9" x2="879.7" y2="793.8" stroke="#555" stroke-width="1.75"/>
<polygon points="882.7,793.4 873.5,796.9 873.0,792.0" fill="#111"/>
<line x1="859.3" y1="762.7" x2="879.4" y2="758.7" stroke="#555" stroke-width="1.75"/>
<polygon points="882.4,758.1 873.5,762.4 872.6,757.5" fill="#111"/>
<line x1="859.3" y1="713.0" x2="878.7" y2="706.3" stroke="#555" stroke-width="1.75"/>
<polygon points="881.5,705.4 873.4,710.8 871.7,706.1" fill="#111"/>
<line x1="859.3" y1="679.8" x2="878.2" y2="671.9" stroke="#555" stroke-width="1.75"/>
<polygon points="881.0,670.7 873.2,676.7 871.3,672.1" fill="#111"/>
<line x1="859.3" y1="646.7" x2="877.3" y2="636.8" stroke="#555" stroke-width="1.75"/>
<polygon points="879.9,635.3 872.8,642.1 870.4,637.7" fill="#111"/>
<line x1="859.3" y1="596.9" x2="876.3" y2="585.4" stroke="#555" stroke-width="1.75"/>
<polygon points="878.8,583.7 872.3,591.1 869.5,587.0" fill="#111"/>
<line x1="859.3" y1="563.8" x2="875.4" y2="551.1" stroke="#555" stroke-width="1.75"/>
<polygon points="877.7,549.2 871.8,557.1 868.7,553.1" fill="#111"/>
<line x1="859.3" y1="514.0" x2="874.1" y2="499.8" stroke="#555" stroke-width="1.75"/>
<polygon points="876.3,497.8 871.2,506.1 867.7,502.5" fill="#111"/>
<line x1="859.3" y1="480.9" x2="873.3" y2="465.9" stroke="#555" stroke-width="1.75"/>
<polygon points="875.4,463.7 870.7,472.4 867.1,469.0" fill="#111"/>
<line x1="908.3" y1="795.9" x2="928.2" y2="791.3" stroke="#555" stroke-width="1.75"/>
<polygon points="931.2,790.6 922.5,795.2 921.3,790.3" fill="#111"/>
<line x1="908.3" y1="762.7" x2="927.5" y2="755.6" stroke="#555" stroke-width="1.75"/>
<polygon points="930.3,754.6 922.3,760.2 920.5,755.5" fill="#111"/>
<line x1="908.3" y1="713.0" x2="926.2" y2="703.1" stroke="#555" stroke-width="1.75"/>
<polygon points="928.8,701.6 921.7,708.4 919.3,704.0" fill="#111"/>
<line x1="908.3" y1="679.8" x2="925.3" y2="668.4" stroke="#555" stroke-width="1.75"/>
<polygon points="927.8,666.7 921.3,674.1 918.5,669.9" fill="#111"/>
<line x1="908.3" y1="646.7" x2="923.0" y2="632.4" stroke="#555" stroke-width="1.75"/>
<polygon points="925.1,630.3 920.0,638.7 916.6,635.1" fill="#111"/>
<line x1="908.3" y1="596.9" x2="921.1" y2="580.9" stroke="#555" stroke-width="1.75"/>
<polygon points="923.0,578.6 919.0,587.5 915.1,584.4" fill="#111"/>
<line x1="908.3" y1="563.8" x2="919.7" y2="546.8" stroke="#555" stroke-width="1.75"/>
<polygon points="921.4,544.3 918.2,553.6 914.0,550.8" fill="#111"/>
<line x1="908.3" y1="514.0" x2="919.0" y2="496.5" stroke="#555" stroke-width="1.75"/>
<polygon points="920.5,494.0 917.7,503.4 913.5,500.8" fill="#111"/>
<line x1="908.3" y1="480.9" x2="918.1" y2="462.9" stroke="#555" stroke-width="1.75"/>
<polygon points="919.5,460.3 917.2,469.8 912.8,467.4" fill="#111"/>
<line x1="947.4" y1="795.9" x2="967.2" y2="790.6" stroke="#555" stroke-width="1.75"/>
<polygon points="970.1,789.9 961.6,794.7 960.3,789.9" fill="#111"/>
<line x1="947.4" y1="762.7" x2="965.8" y2="753.5" stroke="#555" stroke-width="1.75"/>
<polygon points="968.4,752.2 961.1,758.7 958.8,754.2" fill="#111"/>
<line x1="947.4" y1="713.0" x2="962.9" y2="699.5" stroke="#555" stroke-width="1.75"/>
<polygon points="965.1,697.5 959.6,705.7 956.3,701.9" fill="#111"/>
<line x1="947.4" y1="679.8" x2="961.2" y2="664.6" stroke="#555" stroke-width="1.75"/>
<polygon points="963.2,662.4 958.7,671.1 955.0,667.7" fill="#111"/>
<line x1="947.4" y1="646.7" x2="959.2" y2="629.9" stroke="#555" stroke-width="1.75"/>
<polygon points="960.9,627.4 957.5,636.6 953.4,633.8" fill="#111"/>
<line x1="947.4" y1="596.9" x2="957.8" y2="579.2" stroke="#555" stroke-width="1.75"/>
<polygon points="959.4,576.7 956.7,586.1 952.4,583.6" fill="#111"/>
<line x1="947.4" y1="563.8" x2="956.4" y2="545.4" stroke="#555" stroke-width="1.75"/>
<polygon points="957.8,542.7 955.8,552.3 951.3,550.1" fill="#111"/>
<line x1="947.4" y1="514.0" x2="955.9" y2="495.3" stroke="#555" stroke-width="1.75"/>
<polygon points="957.1,492.6 955.5,502.3 950.9,500.2" fill="#111"/>
<line x1="947.4" y1="480.9" x2="955.1" y2="461.9" stroke="#555" stroke-width="1.75"/>
<polygon points="956.3,459.1 955.0,468.9 950.4,467.0" fill="#111"/>
<line x1="996.4" y1="795.9" x2="1015.2" y2="787.8" stroke="#555" stroke-width="1.75"/>
<polygon points="1018.0,786.6 1010.2,792.7 1008.2,788.1" fill="#111"/>
<line x1="996.4" y1="762.7" x2="1011.9" y2="749.3" stroke="#555" stroke-width="1.75"/>
<polygon points="1014.2,747.3 1008.6,755.4 1005.3,751.7" fill="#111"/>
<line x1="996.4" y1="713.0" x2="1007.7" y2="695.9" stroke="#555" stroke-width="1.75"/>
<polygon points="1009.4,693.4 1006.2,702.7 1002.0,699.9" fill="#111"/>
<line x1="996.4" y1="679.8" x2="1004.1" y2="660.8" stroke="#555" stroke-width="1.75"/>
<polygon points="1005.3,658.0 1004.0,667.8 999.4,665.9" fill="#111"/>
<line x1="996.4" y1="646.7" x2="1002.5" y2="627.1" stroke="#555" stroke-width="1.75"/>
<polygon points="1003.3,624.3 1002.9,634.1 998.1,632.6" fill="#111"/>
<line x1="996.4" y1="596.9" x2="1001.4" y2="577.0" stroke="#555" stroke-width="1.75"/>
<polygon points="1002.2,574.1 1002.2,583.9 997.4,582.7" fill="#111"/>
<line x1="996.4" y1="563.8" x2="1000.7" y2="543.8" stroke="#555" stroke-width="1.75"/>
<polygon points="1001.4,540.8 1001.8,550.6 996.9,549.6" fill="#111"/>
<line x1="996.4" y1="514.0" x2="1000.0" y2="493.8" stroke="#555" stroke-width="1.75"/>
<polygon points="1000.5,490.9 1001.3,500.7 996.4,499.8" fill="#111"/>
<line x1="996.4" y1="480.9" x2="999.6" y2="460.7" stroke="#555" stroke-width="1.75"/>
<polygon points="1000.1,457.7 1001.1,467.5 996.1,466.7" fill="#111"/>
<line x1="1035.5" y1="795.9" x2="1049.1" y2="780.5" stroke="#555" stroke-width="1.75"/>
<polygon points="1051.1,778.2 1046.7,787.0 1042.9,783.7" fill="#111"/>
<line x1="1035.5" y1="762.7" x2="1043.5" y2="743.8" stroke="#555" stroke-width="1.75"/>
<polygon points="1044.6,741.0 1043.3,750.8 1038.7,748.8" fill="#111"/>
<line x1="1035.5" y1="713.0" x2="1040.6" y2="693.1" stroke="#555" stroke-width="1.75"/>
<polygon points="1041.3,690.2 1041.4,700.1 1036.6,698.8" fill="#111"/>
<line x1="1035.5" y1="679.8" x2="1038.5" y2="659.5" stroke="#555" stroke-width="1.75"/>
<polygon points="1039.0,656.5 1040.0,666.3 1035.1,665.6" fill="#111"/>
<line x1="1035.5" y1="646.7" x2="1037.8" y2="626.3" stroke="#555" stroke-width="1.75"/>
<polygon points="1038.1,623.3 1039.6,633.1 1034.6,632.5" fill="#111"/>
<line x1="1035.5" y1="596.9" x2="1037.4" y2="576.5" stroke="#555" stroke-width="1.75"/>
<polygon points="1037.7,573.5 1039.3,583.2 1034.3,582.7" fill="#111"/>
<line x1="1035.5" y1="563.8" x2="1037.1" y2="543.4" stroke="#555" stroke-width="1.75"/>
<polygon points="1037.4,540.4 1039.1,550.0 1034.1,549.6" fill="#111"/>
<line x1="1035.5" y1="514.0" x2="1036.9" y2="493.5" stroke="#555" stroke-width="1.75"/>
<polygon points="1037.1,490.5 1038.9,500.2 1033.9,499.9" fill="#111"/>
<line x1="1035.5" y1="480.9" x2="1036.7" y2="460.4" stroke="#555" stroke-width="1.75"/>
<polygon points="1036.9,457.4 1038.8,467.1 1033.9,466.8" fill="#111"/>
<line x1="1074.7" y1="795.9" x2="1062.1" y2="779.7" stroke="#555" stroke-width="1.75"/>
<polygon points="1060.2,777.4 1068.1,783.3 1064.1,786.4" fill="#111"/>
<line x1="1074.7" y1="762.7" x2="1067.6" y2="743.5" stroke="#555" stroke-width="1.75"/>
<polygon points="1066.6,740.6 1072.2,748.7 1067.5,750.4" fill="#111"/>
<line x1="1074.7" y1="713.0" x2="1069.2" y2="693.2" stroke="#555" stroke-width="1.75"/>
<polygon points="1068.4,690.4 1073.4,698.8 1068.5,700.2" fill="#111"/>
<line x1="1074.7" y1="679.8" x2="1070.2" y2="659.8" stroke="#555" stroke-width="1.75"/>
<polygon points="1069.5,656.9 1074.0,665.6 1069.2,666.7" fill="#111"/>
<line x1="1074.7" y1="646.7" x2="1071.2" y2="626.5" stroke="#555" stroke-width="1.75"/>
<polygon points="1070.7,623.5 1074.8,632.5 1069.9,633.3" fill="#111"/>
<line x1="1074.7" y1="596.9" x2="1071.8" y2="576.6" stroke="#555" stroke-width="1.75"/>
<polygon points="1071.4,573.6 1075.2,582.7 1070.3,583.4" fill="#111"/>
<line x1="1074.7" y1="563.8" x2="1072.3" y2="543.4" stroke="#555" stroke-width="1.75"/>
<polygon points="1071.9,540.5 1075.5,549.6 1070.5,550.2" fill="#111"/>
<line x1="1074.7" y1="514.0" x2="1072.7" y2="493.6" stroke="#555" stroke-width="1.75"/>
<polygon points="1072.4,490.6 1075.8,499.8 1070.8,500.3" fill="#111"/>
<line x1="1074.7" y1="480.9" x2="1072.9" y2="460.5" stroke="#555" stroke-width="1.75"/>
<polygon points="1072.6,457.5 1075.9,466.7 1071.0,467.2" fill="#111"/>
<line x1="1123.6" y1="795.9" x2="1104.6" y2="788.3" stroke="#555" stroke-width="1.75"/>
<polygon points="1101.8,787.2 1111.6,788.4 1109.7,793.0" fill="#111"/>
<line x1="1123.6" y1="762.7" x2="1108.4" y2="749.0" stroke="#555" stroke-width="1.75"/>
<polygon points="1106.1,747.0 1114.9,751.5 1111.5,755.2" fill="#111"/>
<line x1="1123.6" y1="713.0" x2="1111.9" y2="696.2" stroke="#555" stroke-width="1.75"/>
<polygon points="1110.2,693.7 1117.7,700.1 1113.6,703.0" fill="#111"/>
<line x1="1123.6" y1="679.8" x2="1112.8" y2="662.4" stroke="#555" stroke-width="1.75"/>
<polygon points="1111.2,659.9 1118.3,666.6 1114.1,669.3" fill="#111"/>
<line x1="1123.6" y1="646.7" x2="1114.9" y2="628.2" stroke="#555" stroke-width="1.75"/>
<polygon points="1113.6,625.5 1119.9,633.0 1115.4,635.1" fill="#111"/>
<line x1="1123.6" y1="596.9" x2="1116.2" y2="577.8" stroke="#555" stroke-width="1.75"/>
<polygon points="1115.2,575.0 1120.9,582.9 1116.3,584.8" fill="#111"/>
<line x1="1123.6" y1="563.8" x2="1117.2" y2="544.3" stroke="#555" stroke-width="1.75"/>
<polygon points="1116.2,541.5 1121.6,549.7 1116.9,551.3" fill="#111"/>
<line x1="1123.6" y1="514.0" x2="1118.2" y2="494.2" stroke="#555" stroke-width="1.75"/>
<polygon points="1117.4,491.3 1122.3,499.8 1117.5,501.2" fill="#111"/>
<line x1="1123.6" y1="480.9" x2="1118.8" y2="461.0" stroke="#555" stroke-width="1.75"/>
<polygon points="1118.0,458.1 1122.7,466.7 1117.9,467.9" fill="#111"/>
<line x1="1162.8" y1="795.9" x2="1142.8" y2="791.3" stroke="#555" stroke-width="1.75"/>
<polygon points="1139.9,790.6 1149.7,790.3 1148.6,795.2" fill="#111"/>
<line x1="1162.8" y1="762.7" x2="1144.3" y2="753.9" stroke="#555" stroke-width="1.75"/>
<polygon points="1141.6,752.7 1151.2,754.5 1149.1,759.0" fill="#111"/>
<line x1="1162.8" y1="713.0" x2="1147.1" y2="699.8" stroke="#555" stroke-width="1.75"/>
<polygon points="1144.8,697.9 1153.7,702.1 1150.5,705.9" fill="#111"/>
<line x1="1162.8" y1="679.8" x2="1148.0" y2="665.6" stroke="#555" stroke-width="1.75"/>
<polygon points="1145.8,663.6 1154.4,668.3 1151.0,671.9" fill="#111"/>
<line x1="1162.8" y1="646.7" x2="1150.2" y2="630.5" stroke="#555" stroke-width="1.75"/>
<polygon points="1148.3,628.2 1156.2,634.1 1152.2,637.2" fill="#111"/>
<line x1="1162.8" y1="596.9" x2="1151.7" y2="579.7" stroke="#555" stroke-width="1.75"/>
<polygon points="1150.0,577.2 1157.3,583.8 1153.1,586.5" fill="#111"/>
<line x1="1162.8" y1="563.8" x2="1152.4" y2="546.1" stroke="#555" stroke-width="1.75"/>
<polygon points="1150.9,543.6 1157.9,550.5 1153.6,553.0" fill="#111"/>
<line x1="1162.8" y1="514.0" x2="1154.7" y2="495.2" stroke="#555" stroke-width="1.75"/>
<polygon points="1153.6,492.4 1159.6,500.1 1155.0,502.1" fill="#111"/>
<line x1="1162.8" y1="480.9" x2="1155.5" y2="461.8" stroke="#555" stroke-width="1.75"/>
<polygon points="1154.4,459.0 1160.1,466.9 1155.5,468.7" fill="#111"/>
<line x1="1211.8" y1="795.9" x2="1191.6" y2="792.3" stroke="#555" stroke-width="1.75"/>
<polygon points="1188.6,791.7 1198.4,791.0 1197.5,795.9" fill="#111"/>
<line x1="1211.8" y1="762.7" x2="1192.5" y2="755.6" stroke="#555" stroke-width="1.75"/>
<polygon points="1189.7,754.6 1199.5,755.5 1197.8,760.2" fill="#111"/>
<line x1="1211.8" y1="713.0" x2="1193.4" y2="703.8" stroke="#555" stroke-width="1.75"/>
<polygon points="1190.7,702.5 1200.4,704.5 1198.1,709.0" fill="#111"/>
<line x1="1211.8" y1="679.8" x2="1194.7" y2="668.4" stroke="#555" stroke-width="1.75"/>
<polygon points="1192.2,666.7 1201.5,669.9 1198.7,674.1" fill="#111"/>
<line x1="1211.8" y1="646.7" x2="1196.1" y2="633.5" stroke="#555" stroke-width="1.75"/>
<polygon points="1193.8,631.6 1202.6,635.8 1199.4,639.6" fill="#111"/>
<line x1="1211.8" y1="596.9" x2="1197.1" y2="582.6" stroke="#555" stroke-width="1.75"/>
<polygon points="1194.9,580.5 1203.5,585.3 1200.0,588.9" fill="#111"/>
<line x1="1211.8" y1="563.8" x2="1198.3" y2="548.3" stroke="#555" stroke-width="1.75"/>
<polygon points="1196.4,546.0 1204.5,551.6 1200.7,554.9" fill="#111"/>
<line x1="1211.8" y1="514.0" x2="1200.7" y2="496.8" stroke="#555" stroke-width="1.75"/>
<polygon points="1199.0,494.2 1206.3,500.9 1202.1,503.6" fill="#111"/>
<line x1="1211.8" y1="480.9" x2="1201.5" y2="463.1" stroke="#555" stroke-width="1.75"/>
<polygon points="1200.0,460.5 1206.9,467.5 1202.6,470.0" fill="#111"/>
<line x1="1250.9" y1="795.9" x2="1230.7" y2="792.7" stroke="#555" stroke-width="1.75"/>
<polygon points="1227.7,792.2 1237.5,791.2 1236.7,796.2" fill="#111"/>
<line x1="1250.9" y1="762.7" x2="1230.8" y2="758.7" stroke="#555" stroke-width="1.75"/>
<polygon points="1227.9,758.1 1237.7,757.5 1236.7,762.4" fill="#111"/>
<line x1="1250.9" y1="713.0" x2="1232.0" y2="705.1" stroke="#555" stroke-width="1.75"/>
<polygon points="1229.3,703.9 1239.0,705.3 1237.0,709.9" fill="#111"/>
<line x1="1250.9" y1="679.8" x2="1232.0" y2="672.0" stroke="#555" stroke-width="1.75"/>
<polygon points="1229.2,670.9 1238.9,672.2 1237.0,676.8" fill="#111"/>
<line x1="1250.9" y1="646.7" x2="1232.9" y2="636.9" stroke="#555" stroke-width="1.75"/>
<polygon points="1230.3,635.5 1239.8,637.8 1237.4,642.2" fill="#111"/>
<line x1="1250.9" y1="596.9" x2="1233.8" y2="585.6" stroke="#555" stroke-width="1.75"/>
<polygon points="1231.3,583.9 1240.6,587.1 1237.9,591.2" fill="#111"/>
<line x1="1250.9" y1="563.8" x2="1234.7" y2="551.2" stroke="#555" stroke-width="1.75"/>
<polygon points="1232.4,549.4 1241.4,553.2 1238.3,557.2" fill="#111"/>
<line x1="1250.9" y1="514.0" x2="1236.0" y2="500.0" stroke="#555" stroke-width="1.75"/>
<polygon points="1233.8,497.9 1242.4,502.6 1239.0,506.3" fill="#111"/>
<line x1="1250.9" y1="480.9" x2="1236.8" y2="466.1" stroke="#555" stroke-width="1.75"/>
<polygon points="1234.7,463.9 1243.1,469.0 1239.4,472.5" fill="#111"/>
<line x1="1299.9" y1="795.9" x2="1279.4" y2="794.9" stroke="#555" stroke-width="1.75"/>
<polygon points="1276.4,794.8 1286.0,792.7 1285.8,797.7" fill="#111"/>
<line x1="1299.9" y1="762.7" x2="1279.5" y2="760.9" stroke="#555" stroke-width="1.75"/>
<polygon points="1276.5,760.6 1286.1,759.0 1285.7,763.9" fill="#111"/>
<line x1="1299.9" y1="713.0" x2="1279.6" y2="709.9" stroke="#555" stroke-width="1.75"/>
<polygon points="1276.6,709.4 1286.4,708.4 1285.7,713.3" fill="#111"/>
<line x1="1299.9" y1="679.8" x2="1279.7" y2="676.0" stroke="#555" stroke-width="1.75"/>
<polygon points="1276.8,675.5 1286.6,674.8 1285.6,679.7" fill="#111"/>
<line x1="1299.9" y1="646.7" x2="1280.0" y2="641.8" stroke="#555" stroke-width="1.75"/>
<polygon points="1277.1,641.1 1286.9,640.9 1285.7,645.8" fill="#111"/>
<line x1="1299.9" y1="596.9" x2="1280.2" y2="591.0" stroke="#555" stroke-width="1.75"/>
<polygon points="1277.4,590.1 1287.2,590.4 1285.7,595.2" fill="#111"/>
<line x1="1299.9" y1="563.8" x2="1280.5" y2="557.0" stroke="#555" stroke-width="1.75"/>
<polygon points="1277.7,556.0 1287.5,556.8 1285.8,561.5" fill="#111"/>
<line x1="1299.9" y1="514.0" x2="1281.0" y2="506.0" stroke="#555" stroke-width="1.75"/>
<polygon points="1278.3,504.8 1288.0,506.2 1286.0,510.8" fill="#111"/>
<line x1="1299.9" y1="480.9" x2="1281.4" y2="472.1" stroke="#555" stroke-width="1.75"/>
<polygon points="1278.7,470.8 1288.3,472.6 1286.2,477.1" fill="#111"/>
<line x1="1339.0" y1="795.9" x2="1318.6" y2="794.9" stroke="#555" stroke-width="1.75"/>
<polygon points="1315.6,794.8 1325.2,792.7 1324.9,797.7" fill="#111"/>
<line x1="1339.0" y1="762.7" x2="1318.6" y2="760.9" stroke="#555" stroke-width="1.75"/>
<polygon points="1315.6,760.6 1325.3,759.0 1324.9,763.9" fill="#111"/>
<line x1="1339.0" y1="713.0" x2="1318.8" y2="709.9" stroke="#555" stroke-width="1.75"/>
<polygon points="1315.8,709.4 1325.6,708.4 1324.8,713.3" fill="#111"/>
<line x1="1339.0" y1="679.8" x2="1318.9" y2="676.0" stroke="#555" stroke-width="1.75"/>
<polygon points="1315.9,675.5 1325.7,674.8 1324.8,679.7" fill="#111"/>
<line x1="1339.0" y1="646.7" x2="1319.1" y2="641.8" stroke="#555" stroke-width="1.75"/>
<polygon points="1316.2,641.1 1326.0,640.9 1324.8,645.8" fill="#111"/>
<line x1="1339.0" y1="596.9" x2="1319.4" y2="591.0" stroke="#555" stroke-width="1.75"/>
<polygon points="1316.5,590.1 1326.4,590.4 1324.9,595.2" fill="#111"/>
<line x1="1339.0" y1="563.8" x2="1319.7" y2="557.0" stroke="#555" stroke-width="1.75"/>
<polygon points="1316.9,556.0 1326.7,556.8 1325.0,561.5" fill="#111"/>
<line x1="1339.0" y1="514.0" x2="1320.2" y2="506.0" stroke="#555" stroke-width="1.75"/>
<polygon points="1317.4,504.8 1327.1,506.2 1325.2,510.8" fill="#111"/>
<line x1="1339.0" y1="480.9" x2="1320.5" y2="472.1" stroke="#555" stroke-width="1.75"/>
<polygon points="1317.8,470.8 1327.5,472.6 1325.3,477.1" fill="#111"/>
<line x1="1388.0" y1="795.9" x2="1367.5" y2="795.2" stroke="#555" stroke-width="1.75"/>
<polygon points="1364.5,795.1 1374.1,792.9 1373.9,797.9" fill="#111"/>
<line x1="1388.0" y1="762.7" x2="1367.5" y2="761.3" stroke="#555" stroke-width="1.75"/>
<polygon points="1364.5,761.1 1374.2,759.3 1373.8,764.2" fill="#111"/>
<line x1="1388.0" y1="713.0" x2="1367.6" y2="710.6" stroke="#555" stroke-width="1.75"/>
<polygon points="1364.6,710.3 1374.4,708.9 1373.8,713.9" fill="#111"/>
<line x1="1388.0" y1="679.8" x2="1367.7" y2="676.9" stroke="#555" stroke-width="1.75"/>
<polygon points="1364.7,676.5 1374.5,675.3 1373.8,680.3" fill="#111"/>
<line x1="1388.0" y1="646.7" x2="1367.8" y2="642.9" stroke="#555" stroke-width="1.75"/>
<polygon points="1364.9,642.3 1374.7,641.7 1373.8,646.6" fill="#111"/>
<line x1="1388.0" y1="596.9" x2="1368.0" y2="592.3" stroke="#555" stroke-width="1.75"/>
<polygon points="1365.1,591.6 1374.9,591.3 1373.8,596.2" fill="#111"/>
<line x1="1388.0" y1="563.8" x2="1368.2" y2="558.5" stroke="#555" stroke-width="1.75"/>
<polygon points="1365.3,557.7 1375.1,557.7 1373.8,562.6" fill="#111"/>
<line x1="1388.0" y1="514.0" x2="1368.5" y2="507.7" stroke="#555" stroke-width="1.75"/>
<polygon points="1365.6,506.7 1375.4,507.3 1373.9,512.1" fill="#111"/>
<line x1="1388.0" y1="480.9" x2="1368.7" y2="473.9" stroke="#555" stroke-width="1.75"/>
<polygon points="1365.9,472.9 1375.7,473.8 1374.0,478.5" fill="#111"/>
<line x1="1427.1" y1="795.9" x2="1406.6" y2="795.5" stroke="#555" stroke-width="1.75"/>
<polygon points="1403.6,795.4 1413.2,793.1 1413.1,798.1" fill="#111"/>
<line x1="1427.1" y1="762.7" x2="1406.7" y2="761.9" stroke="#555" stroke-width="1.75"/>
<polygon points="1403.7,761.7 1413.3,759.6 1413.0,764.6" fill="#111"/>
<line x1="1427.1" y1="713.0" x2="1406.7" y2="711.6" stroke="#555" stroke-width="1.75"/>
<polygon points="1403.7,711.4 1413.3,709.5 1413.0,714.5" fill="#111"/>
<line x1="1427.1" y1="679.8" x2="1406.7" y2="678.1" stroke="#555" stroke-width="1.75"/>
<polygon points="1403.7,677.8 1413.4,676.1 1413.0,681.1" fill="#111"/>
<line x1="1427.1" y1="646.7" x2="1406.8" y2="644.4" stroke="#555" stroke-width="1.75"/>
<polygon points="1403.8,644.1 1413.5,642.6 1412.9,647.6" fill="#111"/>
<line x1="1427.1" y1="596.9" x2="1406.8" y2="594.1" stroke="#555" stroke-width="1.75"/>
<polygon points="1403.9,593.7 1413.6,592.5 1412.9,597.5" fill="#111"/>
<line x1="1427.1" y1="563.8" x2="1406.9" y2="560.5" stroke="#555" stroke-width="1.75"/>
<polygon points="1403.9,560.1 1413.7,559.1 1412.9,564.0" fill="#111"/>
<line x1="1427.1" y1="514.0" x2="1407.0" y2="510.1" stroke="#555" stroke-width="1.75"/>
<polygon points="1404.1,509.5 1413.9,508.9 1412.9,513.8" fill="#111"/>
<line x1="1427.1" y1="480.9" x2="1407.1" y2="476.5" stroke="#555" stroke-width="1.75"/>
<polygon points="1404.2,475.9 1414.0,475.5 1412.9,480.4" fill="#111"/>
<line x1="1476.1" y1="795.9" x2="1455.6" y2="795.8" stroke="#555" stroke-width="1.75"/>
<polygon points="1452.6,795.8 1462.1,793.3 1462.1,798.3" fill="#111"/>
<line x1="1476.1" y1="762.7" x2="1455.6" y2="762.5" stroke="#555" stroke-width="1.75"/>
<polygon points="1452.6,762.4 1462.1,760.0 1462.1,765.0" fill="#111"/>
<line x1="1476.1" y1="713.0" x2="1455.6" y2="712.6" stroke="#555" stroke-width="1.75"/>
<polygon points="1452.6,712.5 1462.1,710.2 1462.0,715.2" fill="#111"/>
<line x1="1476.1" y1="679.8" x2="1455.6" y2="679.3" stroke="#555" stroke-width="1.75"/>
<polygon points="1452.6,679.2 1462.2,676.9 1462.0,681.9" fill="#111"/>
<line x1="1476.1" y1="646.7" x2="1455.6" y2="646.0" stroke="#555" stroke-width="1.75"/>
<polygon points="1452.6,645.9 1462.2,643.7 1462.0,648.7" fill="#111"/>
<line x1="1476.1" y1="596.9" x2="1455.6" y2="596.1" stroke="#555" stroke-width="1.75"/>
<polygon points="1452.6,595.9 1462.2,593.8 1462.0,598.8" fill="#111"/>
<line x1="1476.1" y1="563.8" x2="1455.6" y2="562.8" stroke="#555" stroke-width="1.75"/>
<polygon points="1452.6,562.7 1462.2,560.6 1462.0,565.6" fill="#111"/>
<line x1="1476.1" y1="514.0" x2="1455.6" y2="512.8" stroke="#555" stroke-width="1.75"/>
<polygon points="1452.6,512.6 1462.3,510.7 1462.0,515.7" fill="#111"/>
<line x1="1476.1" y1="480.9" x2="1455.6" y2="479.6" stroke="#555" stroke-width="1.75"/>
<polygon points="1452.6,479.4 1462.3,477.5 1462.0,482.5" fill="#111"/>
<line x1="1515.2" y1="795.9" x2="1494.8" y2="796.1" stroke="#555" stroke-width="1.75"/>
<polygon points="1491.8,796.1 1501.2,793.5 1501.3,798.5" fill="#111"/>
<line x1="1515.2" y1="762.7" x2="1494.8" y2="763.0" stroke="#555" stroke-width="1.75"/>
<polygon points="1491.8,763.1 1501.2,760.4 1501.3,765.4" fill="#111"/>
<line x1="1515.2" y1="713.0" x2="1494.8" y2="713.6" stroke="#555" stroke-width="1.75"/>
<polygon points="1491.8,713.7 1501.2,710.9 1501.3,715.9" fill="#111"/>
<line x1="1515.2" y1="679.8" x2="1494.8" y2="680.5" stroke="#555" stroke-width="1.75"/>
<polygon points="1491.8,680.6 1501.2,677.8 1501.3,682.8" fill="#111"/>
<line x1="1515.2" y1="646.7" x2="1494.8" y2="647.6" stroke="#555" stroke-width="1.75"/>
<polygon points="1491.8,647.7 1501.2,644.8 1501.4,649.8" fill="#111"/>
<line x1="1515.2" y1="596.9" x2="1494.8" y2="598.0" stroke="#555" stroke-width="1.75"/>
<polygon points="1491.8,598.2 1501.1,595.2 1501.4,600.2" fill="#111"/>
<line x1="1515.2" y1="563.8" x2="1494.8" y2="565.1" stroke="#555" stroke-width="1.75"/>
<polygon points="1491.8,565.3 1501.1,562.2 1501.4,567.2" fill="#111"/>
<line x1="1515.2" y1="514.0" x2="1494.8" y2="515.6" stroke="#555" stroke-width="1.75"/>
<polygon points="1491.8,515.8 1501.1,512.6 1501.5,517.6" fill="#111"/>
<line x1="1515.2" y1="480.9" x2="1494.8" y2="482.7" stroke="#555" stroke-width="1.75"/>
<polygon points="1491.8,482.9 1501.1,479.6 1501.5,484.6" fill="#111"/>
<line x1="1564.2" y1="795.9" x2="1543.7" y2="796.4" stroke="#555" stroke-width="1.75"/>
<polygon points="1540.7,796.5 1550.1,793.8 1550.3,798.8" fill="#111"/>
<line x1="1564.2" y1="762.7" x2="1543.7" y2="763.7" stroke="#555" stroke-width="1.75"/>
<polygon points="1540.7,763.9 1550.1,760.9 1550.3,765.9" fill="#111"/>
<line x1="1564.2" y1="713.0" x2="1543.8" y2="714.7" stroke="#555" stroke-width="1.75"/>
<polygon points="1540.8,715.0 1550.0,711.7 1550.5,716.7" fill="#111"/>
<line x1="1564.2" y1="679.8" x2="1543.8" y2="681.9" stroke="#555" stroke-width="1.75"/>
<polygon points="1540.8,682.2 1550.0,678.8 1550.5,683.7" fill="#111"/>
<line x1="1564.2" y1="646.7" x2="1543.9" y2="649.5" stroke="#555" stroke-width="1.75"/>
<polygon points="1540.9,649.9 1550.0,646.1 1550.7,651.1" fill="#111"/>
<line x1="1564.2" y1="596.9" x2="1544.0" y2="600.3" stroke="#555" stroke-width="1.75"/>
<polygon points="1541.0,600.8 1550.0,596.7 1550.8,601.7" fill="#111"/>
<line x1="1564.2" y1="563.8" x2="1544.1" y2="567.7" stroke="#555" stroke-width="1.75"/>
<polygon points="1541.1,568.3 1550.0,564.0 1550.9,568.9" fill="#111"/>
<line x1="1564.2" y1="514.0" x2="1544.2" y2="518.7" stroke="#555" stroke-width="1.75"/>
<polygon points="1541.3,519.4 1550.0,514.8 1551.1,519.6" fill="#111"/>
<line x1="1564.2" y1="480.9" x2="1544.4" y2="486.1" stroke="#555" stroke-width="1.75"/>
<polygon points="1541.5,486.9 1550.0,482.0 1551.3,486.9" fill="#111"/>
<line x1="1603.4" y1="795.9" x2="1582.9" y2="796.7" stroke="#555" stroke-width="1.75"/>
<polygon points="1579.9,796.8 1589.3,793.9 1589.5,798.9" fill="#111"/>
<line x1="1603.4" y1="762.7" x2="1582.9" y2="764.2" stroke="#555" stroke-width="1.75"/>
<polygon points="1579.9,764.4 1589.2,761.2 1589.6,766.2" fill="#111"/>
<line x1="1603.4" y1="713.0" x2="1583.0" y2="715.5" stroke="#555" stroke-width="1.75"/>
<polygon points="1580.0,715.9 1589.2,712.2 1589.8,717.2" fill="#111"/>
<line x1="1603.4" y1="679.8" x2="1583.1" y2="682.9" stroke="#555" stroke-width="1.75"/>
<polygon points="1580.1,683.3 1589.1,679.4 1589.9,684.4" fill="#111"/>
<line x1="1603.4" y1="646.7" x2="1583.3" y2="650.7" stroke="#555" stroke-width="1.75"/>
<polygon points="1580.3,651.3 1589.1,647.0 1590.1,651.9" fill="#111"/>
<line x1="1603.4" y1="596.9" x2="1583.4" y2="601.8" stroke="#555" stroke-width="1.75"/>
<polygon points="1580.5,602.5 1589.2,597.8 1590.4,602.7" fill="#111"/>
<line x1="1603.4" y1="563.8" x2="1583.6" y2="569.4" stroke="#555" stroke-width="1.75"/>
<polygon points="1580.8,570.3 1589.2,565.2 1590.6,570.1" fill="#111"/>
<line x1="1603.4" y1="514.0" x2="1584.0" y2="520.7" stroke="#555" stroke-width="1.75"/>
<polygon points="1581.1,521.7 1589.3,516.2 1590.9,520.9" fill="#111"/>
<line x1="1603.4" y1="480.9" x2="1584.2" y2="488.3" stroke="#555" stroke-width="1.75"/>
<polygon points="1581.4,489.4 1589.4,483.6 1591.2,488.3" fill="#111"/>
<line x1="1652.3" y1="795.9" x2="1631.8" y2="796.4" stroke="#555" stroke-width="1.75"/>
<polygon points="1628.8,796.5 1638.2,793.8 1638.4,798.8" fill="#111"/>
<line x1="1652.3" y1="762.7" x2="1631.9" y2="765.0" stroke="#555" stroke-width="1.75"/>
<polygon points="1629.0,765.3 1638.1,761.8 1638.7,766.7" fill="#111"/>
<line x1="1652.3" y1="713.0" x2="1632.2" y2="717.0" stroke="#555" stroke-width="1.75"/>
<polygon points="1629.3,717.6 1638.1,713.3 1639.1,718.2" fill="#111"/>
<line x1="1652.3" y1="679.8" x2="1632.4" y2="684.5" stroke="#555" stroke-width="1.75"/>
<polygon points="1629.4,685.2 1638.1,680.6 1639.3,685.4" fill="#111"/>
<line x1="1652.3" y1="646.7" x2="1632.4" y2="651.4" stroke="#555" stroke-width="1.75"/>
<polygon points="1629.4,652.1 1638.1,647.5 1639.3,652.3" fill="#111"/>
<line x1="1652.3" y1="596.9" x2="1633.2" y2="604.2" stroke="#555" stroke-width="1.75"/>
<polygon points="1630.4,605.3 1638.3,599.6 1640.1,604.2" fill="#111"/>
<line x1="1652.3" y1="563.8" x2="1633.5" y2="572.0" stroke="#555" stroke-width="1.75"/>
<polygon points="1630.8,573.2 1638.5,567.1 1640.5,571.7" fill="#111"/>
<line x1="1652.3" y1="514.0" x2="1634.6" y2="524.3" stroke="#555" stroke-width="1.75"/>
<polygon points="1632.0,525.8 1638.9,518.9 1641.5,523.2" fill="#111"/>
<line x1="1652.3" y1="480.9" x2="1635.1" y2="492.1" stroke="#555" stroke-width="1.75"/>
<polygon points="1632.6,493.7 1639.2,486.4 1641.9,490.6" fill="#111"/>
<line x1="1701.3" y1="795.9" x2="1680.8" y2="796.4" stroke="#555" stroke-width="1.75"/>
<polygon points="1677.8,796.5 1687.2,793.7 1687.3,798.7" fill="#111"/>
<line x1="1701.3" y1="762.7" x2="1680.9" y2="764.9" stroke="#555" stroke-width="1.75"/>
<polygon points="1677.9,765.2 1687.1,761.7 1687.6,766.7" fill="#111"/>
<line x1="1701.3" y1="713.0" x2="1681.5" y2="718.5" stroke="#555" stroke-width="1.75"/>
<polygon points="1678.6,719.4 1687.1,714.4 1688.5,719.2" fill="#111"/>
<line x1="1701.3" y1="679.8" x2="1681.7" y2="686.0" stroke="#555" stroke-width="1.75"/>
<polygon points="1678.8,686.9 1687.2,681.6 1688.7,686.4" fill="#111"/>
<line x1="1701.3" y1="646.7" x2="1682.4" y2="654.7" stroke="#555" stroke-width="1.75"/>
<polygon points="1679.6,655.9 1687.4,649.9 1689.4,654.5" fill="#111"/>
<line x1="1701.3" y1="596.9" x2="1683.5" y2="607.1" stroke="#555" stroke-width="1.75"/>
<polygon points="1680.9,608.6 1687.9,601.7 1690.4,606.0" fill="#111"/>
<line x1="1701.3" y1="563.8" x2="1684.1" y2="575.0" stroke="#555" stroke-width="1.75"/>
<polygon points="1681.6,576.6 1688.2,569.3 1690.9,573.5" fill="#111"/>
<line x1="1701.3" y1="514.0" x2="1685.5" y2="527.1" stroke="#555" stroke-width="1.75"/>
<polygon points="1683.2,529.0 1688.9,521.0 1692.1,524.9" fill="#111"/>
<line x1="1701.3" y1="480.9" x2="1686.3" y2="494.9" stroke="#555" stroke-width="1.75"/>
<polygon points="1684.1,496.9 1689.3,488.6 1692.7,492.3" fill="#111"/>
<line x1="1740.4" y1="795.9" x2="1719.9" y2="796.9" stroke="#555" stroke-width="1.75"/>
<polygon points="1717.0,797.1 1726.3,794.1 1726.6,799.1" fill="#111"/>
<line x1="1740.4" y1="762.7" x2="1720.2" y2="765.8" stroke="#555" stroke-width="1.75"/>
<polygon points="1717.2,766.3 1726.2,762.3 1727.0,767.3" fill="#111"/>
<line x1="1740.4" y1="713.0" x2="1721.3" y2="720.4" stroke="#555" stroke-width="1.75"/>
<polygon points="1718.5,721.5 1726.5,715.8 1728.3,720.4" fill="#111"/>
<line x1="1740.4" y1="679.8" x2="1722.6" y2="690.0" stroke="#555" stroke-width="1.75"/>
<polygon points="1720.0,691.4 1727.0,684.6 1729.5,688.9" fill="#111"/>
<line x1="1740.4" y1="646.7" x2="1722.9" y2="657.3" stroke="#555" stroke-width="1.75"/>
<polygon points="1720.3,658.9 1727.1,651.8 1729.7,656.1" fill="#111"/>
<line x1="1740.4" y1="596.9" x2="1724.6" y2="610.0" stroke="#555" stroke-width="1.75"/>
<polygon points="1722.3,611.9 1728.1,603.9 1731.2,607.8" fill="#111"/>
<line x1="1740.4" y1="563.8" x2="1724.6" y2="576.9" stroke="#555" stroke-width="1.75"/>
<polygon points="1722.3,578.8 1728.1,570.8 1731.2,574.7" fill="#111"/>
<line x1="1740.4" y1="514.0" x2="1724.5" y2="526.9" stroke="#555" stroke-width="1.75"/>
<polygon points="1722.2,528.8 1728.0,520.9 1731.1,524.8" fill="#111"/>
<line x1="1740.4" y1="480.9" x2="1725.2" y2="494.7" stroke="#555" stroke-width="1.75"/>
<polygon points="1723.0,496.7 1728.4,488.5 1731.7,492.2" fill="#111"/>
<line x1="1789.4" y1="795.9" x2="1769.0" y2="797.9" stroke="#555" stroke-width="1.75"/>
<polygon points="1766.0,798.2 1775.2,794.8 1775.7,799.7" fill="#111"/>
<line x1="1789.4" y1="762.7" x2="1769.3" y2="766.9" stroke="#555" stroke-width="1.75"/>
<polygon points="1766.4,767.5 1775.2,763.1 1776.2,768.0" fill="#111"/>
<line x1="1789.4" y1="713.0" x2="1771.1" y2="722.4" stroke="#555" stroke-width="1.75"/>
<polygon points="1768.5,723.7 1775.8,717.2 1778.1,721.6" fill="#111"/>
<line x1="1789.4" y1="679.8" x2="1772.0" y2="690.8" stroke="#555" stroke-width="1.75"/>
<polygon points="1769.5,692.4 1776.2,685.2 1778.9,689.4" fill="#111"/>
<line x1="1789.4" y1="646.7" x2="1772.7" y2="658.7" stroke="#555" stroke-width="1.75"/>
<polygon points="1770.3,660.4 1776.6,652.9 1779.5,656.9" fill="#111"/>
<line x1="1789.4" y1="596.9" x2="1773.9" y2="610.3" stroke="#555" stroke-width="1.75"/>
<polygon points="1771.6,612.3 1777.2,604.2 1780.4,608.0" fill="#111"/>
<line x1="1789.4" y1="563.8" x2="1774.3" y2="577.6" stroke="#555" stroke-width="1.75"/>
<polygon points="1772.0,579.7 1777.4,571.4 1780.7,575.1" fill="#111"/>
<line x1="1789.4" y1="514.0" x2="1774.6" y2="528.2" stroke="#555" stroke-width="1.75"/>
<polygon points="1772.4,530.3 1777.5,521.9 1781.0,525.5" fill="#111"/>
<line x1="1789.4" y1="480.9" x2="1775.4" y2="495.9" stroke="#555" stroke-width="1.75"/>
<polygon points="1773.4,498.1 1778.0,489.5 1781.7,492.9" fill="#111"/>
<line x1="1828.5" y1="795.9" x2="1808.1" y2="797.9" stroke="#555" stroke-width="1.75"/>
<polygon points="1805.1,798.2 1814.4,794.8 1814.8,799.7" fill="#111"/>
<line x1="1828.5" y1="762.7" x2="1808.4" y2="766.7" stroke="#555" stroke-width="1.75"/>
<polygon points="1805.5,767.3 1814.3,763.0 1815.3,767.9" fill="#111"/>
<line x1="1828.5" y1="713.0" x2="1810.4" y2="722.6" stroke="#555" stroke-width="1.75"/>
<polygon points="1807.8,724.0 1815.0,717.3 1817.3,721.8" fill="#111"/>
<line x1="1828.5" y1="679.8" x2="1811.4" y2="691.0" stroke="#555" stroke-width="1.75"/>
<polygon points="1808.8,692.6 1815.4,685.4 1818.2,689.5" fill="#111"/>
<line x1="1828.5" y1="646.7" x2="1812.2" y2="659.1" stroke="#555" stroke-width="1.75"/>
<polygon points="1809.8,660.9 1815.9,653.2 1818.9,657.2" fill="#111"/>
<line x1="1828.5" y1="596.9" x2="1813.2" y2="610.5" stroke="#555" stroke-width="1.75"/>
<polygon points="1811.0,612.5 1816.4,604.3 1819.7,608.1" fill="#111"/>
<line x1="1828.5" y1="563.8" x2="1813.6" y2="577.8" stroke="#555" stroke-width="1.75"/>
<polygon points="1811.4,579.9 1816.6,571.6 1820.0,575.2" fill="#111"/>
<line x1="1828.5" y1="514.0" x2="1813.8" y2="528.2" stroke="#555" stroke-width="1.75"/>
<polygon points="1811.6,530.3 1816.7,521.9 1820.2,525.5" fill="#111"/>
<line x1="1828.5" y1="480.9" x2="1814.6" y2="495.9" stroke="#555" stroke-width="1.75"/>
<polygon points="1812.5,498.1 1817.2,489.5 1820.8,492.9" fill="#111"/>
<line x1="1877.5" y1="795.9" x2="1857.1" y2="797.8" stroke="#555" stroke-width="1.75"/>
<polygon points="1854.1,798.1 1863.3,794.7 1863.8,799.7" fill="#111"/>
<line x1="1877.5" y1="762.7" x2="1857.8" y2="768.5" stroke="#555" stroke-width="1.75"/>
<polygon points="1854.9,769.3 1863.3,764.2 1864.7,769.0" fill="#111"/>
<line x1="1877.5" y1="713.0" x2="1859.9" y2="723.5" stroke="#555" stroke-width="1.75"/>
<polygon points="1857.3,725.1 1864.2,718.0 1866.8,722.3" fill="#111"/>
<line x1="1877.5" y1="679.8" x2="1860.4" y2="691.2" stroke="#555" stroke-width="1.75"/>
<polygon points="1857.9,692.8 1864.4,685.5 1867.2,689.6" fill="#111"/>
<line x1="1877.5" y1="646.7" x2="1861.7" y2="659.8" stroke="#555" stroke-width="1.75"/>
<polygon points="1859.4,661.7 1865.1,653.7 1868.3,657.6" fill="#111"/>
<line x1="1877.5" y1="596.9" x2="1862.5" y2="610.9" stroke="#555" stroke-width="1.75"/>
<polygon points="1860.3,612.9 1865.5,604.6 1868.9,608.3" fill="#111"/>
<line x1="1877.5" y1="563.8" x2="1862.8" y2="578.1" stroke="#555" stroke-width="1.75"/>
<polygon points="1860.7,580.2 1865.7,571.8 1869.2,575.4" fill="#111"/>
<line x1="1877.5" y1="514.0" x2="1863.4" y2="528.9" stroke="#555" stroke-width="1.75"/>
<polygon points="1861.4,531.1 1866.1,522.5 1869.7,525.9" fill="#111"/>
<line x1="1877.5" y1="480.9" x2="1864.3" y2="496.6" stroke="#555" stroke-width="1.75"/>
<polygon points="1862.4,498.9 1866.6,490.0 1870.4,493.2" fill="#111"/>
<line x1="1916.6" y1="795.9" x2="1896.5" y2="799.6" stroke="#555" stroke-width="1.75"/>
<polygon points="1893.5,800.1 1902.4,796.0 1903.3,800.9" fill="#111"/>
<line x1="1916.6" y1="762.7" x2="1898.0" y2="771.2" stroke="#555" stroke-width="1.75"/>
<polygon points="1895.2,772.4 1902.9,766.2 1904.9,770.8" fill="#111"/>
<line x1="1916.6" y1="713.0" x2="1900.6" y2="725.8" stroke="#555" stroke-width="1.75"/>
<polygon points="1898.3,727.7 1904.2,719.8 1907.3,723.7" fill="#111"/>
<line x1="1916.6" y1="679.8" x2="1901.8" y2="693.9" stroke="#555" stroke-width="1.75"/>
<polygon points="1899.6,696.0 1904.8,687.6 1908.2,691.3" fill="#111"/>
<line x1="1916.6" y1="646.7" x2="1902.7" y2="661.8" stroke="#555" stroke-width="1.75"/>
<polygon points="1900.7,664.0 1905.3,655.3 1909.0,658.7" fill="#111"/>
<line x1="1916.6" y1="596.9" x2="1904.2" y2="613.2" stroke="#555" stroke-width="1.75"/>
<polygon points="1902.3,615.5 1906.1,606.5 1910.1,609.5" fill="#111"/>
<line x1="1916.6" y1="563.8" x2="1904.1" y2="580.0" stroke="#555" stroke-width="1.75"/>
<polygon points="1902.2,582.4 1906.1,573.3 1910.0,576.4" fill="#111"/>
<line x1="1916.6" y1="514.0" x2="1905.3" y2="531.1" stroke="#555" stroke-width="1.75"/>
<polygon points="1903.7,533.6 1906.8,524.3 1911.0,527.1" fill="#111"/>
<line x1="1916.6" y1="480.9" x2="1906.2" y2="498.5" stroke="#555" stroke-width="1.75"/>
<polygon points="1904.7,501.1 1907.4,491.7 1911.7,494.2" fill="#111"/>
</g>
<line x1="177.3" y1="487.7" x2="1942.35" y2="487.7" stroke="#1e1e1e" stroke-width="3.9"/>
<line x1="177.3" y1="819.4" x2="1942.35" y2="819.4" stroke="#1e1e1e" stroke-width="4.2"/>
<line x1="179.5" y1="487.7" x2="179.5" y2="819.4" stroke="#1e1e1e" stroke-width="4.4"/>
<line x1="1941" y1="487.7" x2="1941" y2="819.4" stroke="#2c3038" stroke-width="2.7"/>
<line x1="178.0" y1="487.7" x2="207.5" y2="487.7" stroke="#0a0a0a" stroke-width="5.5"/>
<line x1="178.0" y1="654" x2="207.5" y2="654" stroke="#0a0a0a" stroke-width="5.5"/>
<line x1="178.0" y1="819.4" x2="207.5" y2="819.4" stroke="#0a0a0a" stroke-width="5.5"/>
<line x1="179.5" y1="570.8" x2="196.5" y2="570.8" stroke="#6a6a6a" stroke-width="2"/>
<line x1="179.5" y1="736.7" x2="196.5" y2="736.7" stroke="#6a6a6a" stroke-width="2"/>
<line x1="179.5" y1="793.9" x2="179.5" y2="820.9" stroke="#0a0a0a" stroke-width="5.5"/>

<line x1="570.7" y1="793.9" x2="570.7" y2="820.9" stroke="#0a0a0a" stroke-width="5.5"/>

<line x1="961.9" y1="793.9" x2="961.9" y2="820.9" stroke="#0a0a0a" stroke-width="5.5"/>

<line x1="1353.1" y1="793.9" x2="1353.1" y2="820.9" stroke="#0a0a0a" stroke-width="5.5"/>

<line x1="1744.3" y1="793.9" x2="1744.3" y2="820.9" stroke="#0a0a0a" stroke-width="5.5"/>

<line x1="375.1" y1="805.4" x2="375.1" y2="819.4" stroke="#5a5a5a" stroke-width="2"/>
<line x1="766.3" y1="805.4" x2="766.3" y2="819.4" stroke="#5a5a5a" stroke-width="2"/>
<line x1="1157.5" y1="805.4" x2="1157.5" y2="819.4" stroke="#5a5a5a" stroke-width="2"/>
<line x1="1548.7" y1="805.4" x2="1548.7" y2="819.4" stroke="#5a5a5a" stroke-width="2"/>



<rect x="1944.3" y="487.6" width="81.4" height="331.4" fill="#8b5f00" stroke="#e0a200" stroke-width="4"/>
<path d="M198.7,1226.1 L222.2,1237.2 L251.8,1248.4 L261.7,1253.3 L281.5,1255.3 L303.7,1261.5 L318.6,1267.4 L330.9,1274.3 L343.3,1276.8 L353.2,1281.2 L372.9,1284.2 L382.8,1289.1 L392.7,1290.4 L410.0,1299.0 L427.3,1304.5 L454.5,1315.1 L476.7,1323.7 L491.5,1329.2 L511.3,1334.1 L536.0,1343.5 L550.8,1347.2 L565.7,1352.9 L590.4,1360.3 L610.1,1363.3 L629.9,1368.2 L642.0,1371.2 L647.4,1372.1 L657.3,1377.6 L677.1,1378.8 L687.0,1384.0 L726.5,1388.9 L736.4,1391.9 L763.6,1394.9 L785.8,1400.5 L808.0,1403.8 L825.3,1409.2 L850.0,1410.9 L864.9,1412.9 L874.8,1416.1 L892.1,1418.3 L906.9,1419.1 L914.3,1420.3 L956.3,1419.8 L963.7,1421.0 L1089.8,1420.8 L1201.1,1420.8 L1208.6,1419.6 L1260.5,1419.6 L1272.8,1417.1 L1295.0,1414.6 L1302.5,1411.9 L1322.2,1410.2 L1349.4,1407.7 L1359.3,1403.3 L1389.0,1399.6 L1398.8,1394.9 L1431.0,1391.2 L1440.8,1388.0 L1468.0,1384.2 L1485.3,1379.3 L1502.6,1376.8 L1522.4,1371.2 L1532.0,1369.2 L1567.5,1359.9 L1600.0,1351.9 L1624.9,1342.4 L1644.9,1337.4 L1657.4,1331.2 L1679.9,1323.7 L1709.9,1311.2 L1742.4,1298.0 L1762.4,1291.2 L1782.4,1284.5 L1809.8,1280.0 L1829.8,1274.5 L1844.8,1267.5 L1862.3,1263.2 L1879.8,1257.5 L1902.3,1253.7 L1914.8,1246.2 L1937.3,1237.0 L1949.8,1230.0 L1964.8,1225.7 L1978.5,1223.7 L1978.5,1496.5 L198.7,1496.5 Z" fill="#00ffff"/><path d="M198.7,1226.1 L222.2,1237.2 L251.8,1248.4 L261.7,1253.3 L281.5,1255.3 L303.7,1261.5 L318.6,1267.4 L330.9,1274.3 L343.3,1276.8 L353.2,1281.2 L372.9,1284.2 L382.8,1289.1 L392.7,1290.4 L410.0,1299.0 L427.3,1304.5 L454.5,1315.1 L476.7,1323.7 L491.5,1329.2 L511.3,1334.1 L536.0,1343.5 L550.8,1347.2 L565.7,1352.9 L590.4,1360.3 L610.1,1363.3 L629.9,1368.2 L642.0,1371.2 L647.4,1372.1 L657.3,1377.6 L677.1,1378.8 L687.0,1384.0 L726.5,1388.9 L736.4,1391.9 L763.6,1394.9 L785.8,1400.5 L808.0,1403.8 L825.3,1409.2 L850.0,1410.9 L864.9,1412.9 L874.8,1416.1 L892.1,1418.3 L906.9,1419.1 L914.3,1420.3 L956.3,1419.8 L963.7,1421.0 L1089.8,1420.8 L1201.1,1420.8 L1208.6,1419.6 L1260.5,1419.6 L1272.8,1417.1 L1295.0,1414.6 L1302.5,1411.9 L1322.2,1410.2 L1349.4,1407.7 L1359.3,1403.3 L1389.0,1399.6 L1398.8,1394.9 L1431.0,1391.2 L1440.8,1388.0 L1468.0,1384.2 L1485.3,1379.3 L1502.6,1376.8 L1522.4,1371.2 L1532.0,1369.2 L1567.5,1359.9 L1600.0,1351.9 L1624.9,1342.4 L1644.9,1337.4 L1657.4,1331.2 L1679.9,1323.7 L1709.9,1311.2 L1742.4,1298.0 L1762.4,1291.2 L1782.4,1284.5 L1809.8,1280.0 L1829.8,1274.5 L1844.8,1267.5 L1862.3,1263.2 L1879.8,1257.5 L1902.3,1253.7 L1914.8,1246.2 L1937.3,1237.0 L1949.8,1230.0 L1964.8,1225.7 L1978.5,1223.7" fill="none" stroke-linejoin="round" stroke="#dcc0ff" stroke-width="1.7" transform="translate(0,-1.2)"/><path d="M198.7,1226.1 L222.2,1237.2 L251.8,1248.4 L261.7,1253.3 L281.5,1255.3 L303.7,1261.5 L318.6,1267.4 L330.9,1274.3 L343.3,1276.8 L353.2,1281.2 L372.9,1284.2 L382.8,1289.1 L392.7,1290.4 L410.0,1299.0 L427.3,1304.5 L454.5,1315.1 L476.7,1323.7 L491.5,1329.2 L511.3,1334.1 L536.0,1343.5 L550.8,1347.2 L565.7,1352.9 L590.4,1360.3 L610.1,1363.3 L629.9,1368.2 L642.0,1371.2 L647.4,1372.1 L657.3,1377.6 L677.1,1378.8 L687.0,1384.0 L726.5,1388.9 L736.4,1391.9 L763.6,1394.9 L785.8,1400.5 L808.0,1403.8 L825.3,1409.2 L850.0,1410.9 L864.9,1412.9 L874.8,1416.1 L892.1,1418.3 L906.9,1419.1 L914.3,1420.3 L956.3,1419.8 L963.7,1421.0 L1089.8,1420.8 L1201.1,1420.8 L1208.6,1419.6 L1260.5,1419.6 L1272.8,1417.1 L1295.0,1414.6 L1302.5,1411.9 L1322.2,1410.2 L1349.4,1407.7 L1359.3,1403.3 L1389.0,1399.6 L1398.8,1394.9 L1431.0,1391.2 L1440.8,1388.0 L1468.0,1384.2 L1485.3,1379.3 L1502.6,1376.8 L1522.4,1371.2 L1532.0,1369.2 L1567.5,1359.9 L1600.0,1351.9 L1624.9,1342.4 L1644.9,1337.4 L1657.4,1331.2 L1679.9,1323.7 L1709.9,1311.2 L1742.4,1298.0 L1762.4,1291.2 L1782.4,1284.5 L1809.8,1280.0 L1829.8,1274.5 L1844.8,1267.5 L1862.3,1263.2 L1879.8,1257.5 L1902.3,1253.7 L1914.8,1246.2 L1937.3,1237.0 L1949.8,1230.0 L1964.8,1225.7 L1978.5,1223.7" fill="none" stroke-linejoin="round" stroke="#0a7cff" stroke-width="2.5" transform="translate(0,0.8)"/>
<line x1="196.75" y1="1179.8" x2="1979.95" y2="1179.8" stroke="#444" stroke-width="3.3"/>
<line x1="196.75" y1="1496.5" x2="1979.95" y2="1496.5" stroke="#444" stroke-width="3.5999999999999996"/>
<line x1="198.7" y1="1179.8" x2="198.7" y2="1496.5" stroke="#444" stroke-width="3.9"/>
<line x1="1978.5" y1="1179.8" x2="1978.5" y2="1496.5" stroke="#444" stroke-width="2.9"/>
<line x1="197.2" y1="1179.8" x2="226.7" y2="1179.8" stroke="#0a0a0a" stroke-width="5.5"/>
<line x1="197.2" y1="1338" x2="226.7" y2="1338" stroke="#0a0a0a" stroke-width="5.5"/>
<line x1="197.2" y1="1496.5" x2="226.7" y2="1496.5" stroke="#0a0a0a" stroke-width="5.5"/>
<line x1="198.7" y1="1258.9" x2="215.7" y2="1258.9" stroke="#6a6a6a" stroke-width="2"/>
<line x1="198.7" y1="1417.3" x2="215.7" y2="1417.3" stroke="#6a6a6a" stroke-width="2"/>
<line x1="198.7" y1="1471.0" x2="198.7" y2="1498.0" stroke="#0a0a0a" stroke-width="5.5"/>

<line x1="594.1" y1="1471.0" x2="594.1" y2="1498.0" stroke="#0a0a0a" stroke-width="5.5"/>

<line x1="989.6" y1="1471.0" x2="989.6" y2="1498.0" stroke="#0a0a0a" stroke-width="5.5"/>

<line x1="1385.0" y1="1471.0" x2="1385.0" y2="1498.0" stroke="#0a0a0a" stroke-width="5.5"/>

<line x1="1780.5" y1="1471.0" x2="1780.5" y2="1498.0" stroke="#0a0a0a" stroke-width="5.5"/>

<line x1="396.4" y1="1482.5" x2="396.4" y2="1496.5" stroke="#5a5a5a" stroke-width="2"/>
<line x1="791.9" y1="1482.5" x2="791.9" y2="1496.5" stroke="#5a5a5a" stroke-width="2"/>
<line x1="1187.3" y1="1482.5" x2="1187.3" y2="1496.5" stroke="#5a5a5a" stroke-width="2"/>
<line x1="1582.7" y1="1482.5" x2="1582.7" y2="1496.5" stroke="#5a5a5a" stroke-width="2"/>



<rect x="1012.9" y="1267.6" width="242.9" height="24.6" fill="#00ffff"/>
<g clip-path="url(#c4)">
<line x1="227.0" y1="1938.2" x2="206.8" y2="1934.6" stroke="#555" stroke-width="1.75"/>
<polygon points="203.9,1934.1 213.7,1933.3 212.8,1938.2" fill="#111"/>
<line x1="227.0" y1="1905.0" x2="208.5" y2="1896.1" stroke="#555" stroke-width="1.75"/>
<polygon points="205.8,1894.8 215.5,1896.7 213.3,1901.2" fill="#111"/>
<line x1="227.0" y1="1855.3" x2="210.4" y2="1843.3" stroke="#555" stroke-width="1.75"/>
<polygon points="208.0,1841.5 217.1,1845.0 214.2,1849.1" fill="#111"/>
<line x1="227.0" y1="1822.1" x2="211.4" y2="1808.8" stroke="#555" stroke-width="1.75"/>
<polygon points="209.1,1806.9 217.9,1811.1 214.7,1815.0" fill="#111"/>
<line x1="227.0" y1="1789.0" x2="212.5" y2="1774.5" stroke="#555" stroke-width="1.75"/>
<polygon points="210.4,1772.4 218.9,1777.3 215.3,1780.9" fill="#111"/>
<line x1="227.0" y1="1739.2" x2="214.5" y2="1723.0" stroke="#555" stroke-width="1.75"/>
<polygon points="212.6,1720.6 220.4,1726.6 216.5,1729.7" fill="#111"/>
<line x1="227.0" y1="1706.1" x2="215.1" y2="1689.4" stroke="#555" stroke-width="1.75"/>
<polygon points="213.3,1687.0 220.9,1693.3 216.8,1696.2" fill="#111"/>
<line x1="227.0" y1="1656.3" x2="215.8" y2="1639.1" stroke="#555" stroke-width="1.75"/>
<polygon points="214.2,1636.6 221.4,1643.2 217.3,1645.9" fill="#111"/>
<line x1="227.0" y1="1623.2" x2="216.7" y2="1605.5" stroke="#555" stroke-width="1.75"/>
<polygon points="215.2,1602.9 222.1,1609.8 217.8,1612.4" fill="#111"/>
<line x1="275.5" y1="1938.2" x2="255.2" y2="1935.7" stroke="#555" stroke-width="1.75"/>
<polygon points="252.2,1935.3 261.9,1934.0 261.3,1939.0" fill="#111"/>
<line x1="275.5" y1="1905.0" x2="255.7" y2="1899.9" stroke="#555" stroke-width="1.75"/>
<polygon points="252.7,1899.1 262.6,1899.1 261.3,1903.9" fill="#111"/>
<line x1="275.5" y1="1855.3" x2="256.5" y2="1847.5" stroke="#555" stroke-width="1.75"/>
<polygon points="253.8,1846.4 263.5,1847.7 261.6,1852.3" fill="#111"/>
<line x1="275.5" y1="1822.1" x2="257.1" y2="1813.1" stroke="#555" stroke-width="1.75"/>
<polygon points="254.4,1811.8 264.0,1813.7 261.8,1818.2" fill="#111"/>
<line x1="275.5" y1="1789.0" x2="258.0" y2="1778.3" stroke="#555" stroke-width="1.75"/>
<polygon points="255.5,1776.7 264.9,1779.6 262.3,1783.8" fill="#111"/>
<line x1="275.5" y1="1739.2" x2="258.4" y2="1727.9" stroke="#555" stroke-width="1.75"/>
<polygon points="255.9,1726.2 265.2,1729.4 262.5,1733.5" fill="#111"/>
<line x1="275.5" y1="1706.1" x2="258.7" y2="1694.3" stroke="#555" stroke-width="1.75"/>
<polygon points="256.3,1692.6 265.5,1696.0 262.6,1700.1" fill="#111"/>
<line x1="275.5" y1="1656.3" x2="259.5" y2="1643.5" stroke="#555" stroke-width="1.75"/>
<polygon points="257.2,1641.6 266.2,1645.6 263.0,1649.5" fill="#111"/>
<line x1="275.5" y1="1623.2" x2="260.3" y2="1609.5" stroke="#555" stroke-width="1.75"/>
<polygon points="258.0,1607.5 266.8,1612.0 263.4,1615.7" fill="#111"/>
<line x1="314.3" y1="1938.2" x2="293.9" y2="1936.5" stroke="#555" stroke-width="1.75"/>
<polygon points="290.9,1936.2 300.6,1934.5 300.1,1939.5" fill="#111"/>
<line x1="314.3" y1="1905.0" x2="294.2" y2="1901.2" stroke="#555" stroke-width="1.75"/>
<polygon points="291.2,1900.6 301.0,1899.9 300.1,1904.9" fill="#111"/>
<line x1="314.3" y1="1855.3" x2="294.8" y2="1849.0" stroke="#555" stroke-width="1.75"/>
<polygon points="292.0,1848.0 301.8,1848.6 300.2,1853.4" fill="#111"/>
<line x1="314.3" y1="1822.1" x2="294.7" y2="1815.9" stroke="#555" stroke-width="1.75"/>
<polygon points="291.9,1815.0 301.7,1815.5 300.2,1820.3" fill="#111"/>
<line x1="314.3" y1="1789.0" x2="295.3" y2="1781.4" stroke="#555" stroke-width="1.75"/>
<polygon points="292.5,1780.3 302.2,1781.5 300.4,1786.1" fill="#111"/>
<line x1="314.3" y1="1739.2" x2="295.0" y2="1732.4" stroke="#555" stroke-width="1.75"/>
<polygon points="292.1,1731.4 301.9,1732.2 300.3,1736.9" fill="#111"/>
<line x1="314.3" y1="1706.1" x2="295.0" y2="1699.3" stroke="#555" stroke-width="1.75"/>
<polygon points="292.1,1698.3 301.9,1699.1 300.3,1703.8" fill="#111"/>
<line x1="314.3" y1="1656.3" x2="295.7" y2="1647.6" stroke="#555" stroke-width="1.75"/>
<polygon points="293.0,1646.3 302.7,1648.1 300.6,1652.6" fill="#111"/>
<line x1="314.3" y1="1623.2" x2="296.1" y2="1613.7" stroke="#555" stroke-width="1.75"/>
<polygon points="293.5,1612.3 303.1,1614.5 300.7,1618.9" fill="#111"/>
<line x1="362.8" y1="1938.2" x2="342.4" y2="1936.6" stroke="#555" stroke-width="1.75"/>
<polygon points="339.4,1936.3 349.0,1934.6 348.6,1939.6" fill="#111"/>
<line x1="362.8" y1="1905.0" x2="342.5" y2="1902.2" stroke="#555" stroke-width="1.75"/>
<polygon points="339.5,1901.8 349.3,1900.6 348.6,1905.6" fill="#111"/>
<line x1="362.8" y1="1855.3" x2="342.9" y2="1850.2" stroke="#555" stroke-width="1.75"/>
<polygon points="340.0,1849.5 349.9,1849.4 348.6,1854.2" fill="#111"/>
<line x1="362.8" y1="1822.1" x2="343.1" y2="1816.6" stroke="#555" stroke-width="1.75"/>
<polygon points="340.2,1815.7 350.0,1815.9 348.6,1820.7" fill="#111"/>
<line x1="362.8" y1="1789.0" x2="343.3" y2="1782.5" stroke="#555" stroke-width="1.75"/>
<polygon points="340.5,1781.6 350.3,1782.2 348.7,1787.0" fill="#111"/>
<line x1="362.8" y1="1739.2" x2="343.5" y2="1732.3" stroke="#555" stroke-width="1.75"/>
<polygon points="340.7,1731.3 350.4,1732.1 348.8,1736.9" fill="#111"/>
<line x1="362.8" y1="1706.1" x2="343.4" y2="1699.5" stroke="#555" stroke-width="1.75"/>
<polygon points="340.5,1698.6 350.3,1699.2 348.7,1704.0" fill="#111"/>
<line x1="362.8" y1="1656.3" x2="343.4" y2="1649.7" stroke="#555" stroke-width="1.75"/>
<polygon points="340.5,1648.8 350.3,1649.4 348.7,1654.2" fill="#111"/>
<line x1="362.8" y1="1623.2" x2="343.6" y2="1615.9" stroke="#555" stroke-width="1.75"/>
<polygon points="340.8,1614.9 350.6,1615.9 348.8,1620.6" fill="#111"/>
<line x1="401.6" y1="1938.2" x2="381.2" y2="1936.5" stroke="#555" stroke-width="1.75"/>
<polygon points="378.2,1936.3 387.9,1934.6 387.4,1939.5" fill="#111"/>
<line x1="401.6" y1="1905.0" x2="381.3" y2="1902.4" stroke="#555" stroke-width="1.75"/>
<polygon points="378.3,1902.0 388.0,1900.7 387.4,1905.7" fill="#111"/>
<line x1="401.6" y1="1855.3" x2="381.3" y2="1852.2" stroke="#555" stroke-width="1.75"/>
<polygon points="378.4,1851.7 388.1,1850.7 387.4,1855.7" fill="#111"/>
<line x1="401.6" y1="1822.1" x2="381.4" y2="1818.3" stroke="#555" stroke-width="1.75"/>
<polygon points="378.5,1817.8 388.3,1817.1 387.4,1822.0" fill="#111"/>
<line x1="401.6" y1="1789.0" x2="382.0" y2="1783.0" stroke="#555" stroke-width="1.75"/>
<polygon points="379.1,1782.1 389.0,1782.5 387.5,1787.3" fill="#111"/>
<line x1="401.6" y1="1739.2" x2="382.3" y2="1732.3" stroke="#555" stroke-width="1.75"/>
<polygon points="379.5,1731.3 389.2,1732.1 387.6,1736.9" fill="#111"/>
<line x1="401.6" y1="1706.1" x2="382.3" y2="1699.2" stroke="#555" stroke-width="1.75"/>
<polygon points="379.5,1698.2 389.2,1699.0 387.6,1703.8" fill="#111"/>
<line x1="401.6" y1="1656.3" x2="382.3" y2="1649.4" stroke="#555" stroke-width="1.75"/>
<polygon points="379.5,1648.4 389.2,1649.2 387.6,1654.0" fill="#111"/>
<line x1="401.6" y1="1623.2" x2="382.6" y2="1615.6" stroke="#555" stroke-width="1.75"/>
<polygon points="379.8,1614.5 389.5,1615.7 387.7,1620.3" fill="#111"/>
<line x1="450.1" y1="1938.2" x2="429.7" y2="1936.6" stroke="#555" stroke-width="1.75"/>
<polygon points="426.7,1936.3 436.3,1934.6 435.9,1939.6" fill="#111"/>
<line x1="450.1" y1="1905.0" x2="429.7" y2="1903.4" stroke="#555" stroke-width="1.75"/>
<polygon points="426.7,1903.1 436.3,1901.4 435.9,1906.4" fill="#111"/>
<line x1="450.1" y1="1855.3" x2="429.7" y2="1853.1" stroke="#555" stroke-width="1.75"/>
<polygon points="426.7,1852.8 436.4,1851.3 435.9,1856.3" fill="#111"/>
<line x1="450.1" y1="1822.1" x2="429.7" y2="1820.1" stroke="#555" stroke-width="1.75"/>
<polygon points="426.7,1819.8 436.4,1818.2 435.9,1823.2" fill="#111"/>
<line x1="450.1" y1="1789.0" x2="429.8" y2="1786.0" stroke="#555" stroke-width="1.75"/>
<polygon points="426.9,1785.6 436.6,1784.5 435.9,1789.4" fill="#111"/>
<line x1="450.1" y1="1739.2" x2="430.2" y2="1734.3" stroke="#555" stroke-width="1.75"/>
<polygon points="427.3,1733.6 437.1,1733.4 435.9,1738.3" fill="#111"/>
<line x1="450.1" y1="1706.1" x2="430.2" y2="1701.2" stroke="#555" stroke-width="1.75"/>
<polygon points="427.3,1700.5 437.1,1700.3 435.9,1705.2" fill="#111"/>
<line x1="450.1" y1="1656.3" x2="430.2" y2="1651.4" stroke="#555" stroke-width="1.75"/>
<polygon points="427.3,1650.7 437.1,1650.5 435.9,1655.4" fill="#111"/>
<line x1="450.1" y1="1623.2" x2="430.3" y2="1617.8" stroke="#555" stroke-width="1.75"/>
<polygon points="427.4,1617.0 437.3,1617.1 435.9,1621.9" fill="#111"/>
<line x1="498.6" y1="1938.2" x2="478.1" y2="1937.3" stroke="#555" stroke-width="1.75"/>
<polygon points="475.1,1937.2 484.7,1935.1 484.5,1940.1" fill="#111"/>
<line x1="498.6" y1="1905.0" x2="478.2" y2="1903.5" stroke="#555" stroke-width="1.75"/>
<polygon points="475.2,1903.2 484.8,1901.5 484.5,1906.4" fill="#111"/>
<line x1="498.6" y1="1855.3" x2="478.1" y2="1853.9" stroke="#555" stroke-width="1.75"/>
<polygon points="475.2,1853.7 484.8,1851.9 484.5,1856.9" fill="#111"/>
<line x1="498.6" y1="1822.1" x2="478.1" y2="1821.2" stroke="#555" stroke-width="1.75"/>
<polygon points="475.1,1821.1 484.7,1819.0 484.5,1824.0" fill="#111"/>
<line x1="498.6" y1="1789.0" x2="478.2" y2="1787.0" stroke="#555" stroke-width="1.75"/>
<polygon points="475.2,1786.7 484.9,1785.2 484.4,1790.1" fill="#111"/>
<line x1="498.6" y1="1739.2" x2="478.2" y2="1737.2" stroke="#555" stroke-width="1.75"/>
<polygon points="475.2,1736.9 484.9,1735.4 484.4,1740.3" fill="#111"/>
<line x1="498.6" y1="1706.1" x2="478.2" y2="1703.8" stroke="#555" stroke-width="1.75"/>
<polygon points="475.2,1703.5 485.0,1702.1 484.4,1707.0" fill="#111"/>
<line x1="498.6" y1="1656.3" x2="478.2" y2="1654.0" stroke="#555" stroke-width="1.75"/>
<polygon points="475.2,1653.7 485.0,1652.3 484.4,1657.2" fill="#111"/>
<line x1="498.6" y1="1623.2" x2="478.3" y2="1620.6" stroke="#555" stroke-width="1.75"/>
<polygon points="475.3,1620.3 485.0,1619.0 484.4,1623.9" fill="#111"/>
<line x1="537.4" y1="1938.2" x2="516.9" y2="1938.2" stroke="#555" stroke-width="1.75"/>
<polygon points="513.9,1938.2 523.4,1935.7 523.4,1940.7" fill="#111"/>
<line x1="537.4" y1="1905.0" x2="516.9" y2="1905.0" stroke="#555" stroke-width="1.75"/>
<polygon points="513.9,1905.0 523.4,1902.5 523.4,1907.5" fill="#111"/>
<line x1="537.4" y1="1855.3" x2="516.9" y2="1855.3" stroke="#555" stroke-width="1.75"/>
<polygon points="513.9,1855.3 523.4,1852.8 523.4,1857.8" fill="#111"/>
<line x1="537.4" y1="1822.1" x2="516.9" y2="1822.1" stroke="#555" stroke-width="1.75"/>
<polygon points="513.9,1822.1 523.4,1819.6 523.4,1824.6" fill="#111"/>
<line x1="537.4" y1="1789.0" x2="516.9" y2="1788.1" stroke="#555" stroke-width="1.75"/>
<polygon points="513.9,1788.0 523.5,1785.9 523.3,1790.9" fill="#111"/>
<line x1="537.4" y1="1739.2" x2="516.9" y2="1739.2" stroke="#555" stroke-width="1.75"/>
<polygon points="513.9,1739.2 523.4,1736.7 523.4,1741.7" fill="#111"/>
<line x1="537.4" y1="1706.1" x2="516.9" y2="1706.1" stroke="#555" stroke-width="1.75"/>
<polygon points="513.9,1706.1 523.4,1703.6 523.4,1708.6" fill="#111"/>
<line x1="537.4" y1="1656.3" x2="516.9" y2="1656.3" stroke="#555" stroke-width="1.75"/>
<polygon points="513.9,1656.3 523.4,1653.8 523.4,1658.8" fill="#111"/>
<line x1="537.4" y1="1623.2" x2="516.9" y2="1623.2" stroke="#555" stroke-width="1.75"/>
<polygon points="513.9,1623.2 523.4,1620.7 523.4,1625.7" fill="#111"/>
<line x1="585.9" y1="1938.2" x2="565.4" y2="1938.2" stroke="#555" stroke-width="1.75"/>
<polygon points="562.4,1938.2 571.9,1935.7 571.9,1940.7" fill="#111"/>
<line x1="585.9" y1="1905.0" x2="565.4" y2="1905.0" stroke="#555" stroke-width="1.75"/>
<polygon points="562.4,1905.0 571.9,1902.5 571.9,1907.5" fill="#111"/>
<line x1="585.9" y1="1855.3" x2="565.4" y2="1855.3" stroke="#555" stroke-width="1.75"/>
<polygon points="562.4,1855.3 571.9,1852.8 571.9,1857.8" fill="#111"/>
<line x1="585.9" y1="1822.1" x2="565.4" y2="1822.1" stroke="#555" stroke-width="1.75"/>
<polygon points="562.4,1822.1 571.9,1819.6 571.9,1824.6" fill="#111"/>
<line x1="585.9" y1="1789.0" x2="565.4" y2="1789.0" stroke="#555" stroke-width="1.75"/>
<polygon points="562.4,1789.0 571.9,1786.5 571.9,1791.5" fill="#111"/>
<line x1="585.9" y1="1739.2" x2="565.4" y2="1740.1" stroke="#555" stroke-width="1.75"/>
<polygon points="562.4,1740.2 571.8,1737.3 572.0,1742.3" fill="#111"/>
<line x1="585.9" y1="1706.1" x2="565.6" y2="1708.7" stroke="#555" stroke-width="1.75"/>
<polygon points="562.6,1709.1 571.7,1705.4 572.3,1710.4" fill="#111"/>
<line x1="585.9" y1="1656.3" x2="565.7" y2="1660.0" stroke="#555" stroke-width="1.75"/>
<polygon points="562.8,1660.5 571.7,1656.4 572.6,1661.3" fill="#111"/>
<line x1="585.9" y1="1623.2" x2="565.8" y2="1627.3" stroke="#555" stroke-width="1.75"/>
<polygon points="562.9,1627.9 571.7,1623.6 572.7,1628.5" fill="#111"/>
<line x1="624.7" y1="1938.2" x2="604.2" y2="1938.2" stroke="#555" stroke-width="1.75"/>
<polygon points="601.2,1938.2 610.7,1935.7 610.7,1940.7" fill="#111"/>
<line x1="624.7" y1="1905.0" x2="604.2" y2="1905.0" stroke="#555" stroke-width="1.75"/>
<polygon points="601.2,1905.0 610.7,1902.5 610.7,1907.5" fill="#111"/>
<line x1="624.7" y1="1855.3" x2="604.2" y2="1855.3" stroke="#555" stroke-width="1.75"/>
<polygon points="601.2,1855.3 610.7,1852.8 610.7,1857.8" fill="#111"/>
<line x1="624.7" y1="1822.1" x2="604.2" y2="1822.3" stroke="#555" stroke-width="1.75"/>
<polygon points="601.2,1822.3 610.7,1819.7 610.7,1824.7" fill="#111"/>
<line x1="624.7" y1="1789.0" x2="604.2" y2="1789.4" stroke="#555" stroke-width="1.75"/>
<polygon points="601.2,1789.5 610.7,1786.8 610.8,1791.8" fill="#111"/>
<line x1="624.7" y1="1739.2" x2="604.3" y2="1741.6" stroke="#555" stroke-width="1.75"/>
<polygon points="601.4,1741.9 610.5,1738.3 611.1,1743.3" fill="#111"/>
<line x1="624.7" y1="1706.1" x2="604.7" y2="1710.5" stroke="#555" stroke-width="1.75"/>
<polygon points="601.8,1711.2 610.5,1706.7 611.6,1711.6" fill="#111"/>
<line x1="624.7" y1="1656.3" x2="605.1" y2="1662.2" stroke="#555" stroke-width="1.75"/>
<polygon points="602.2,1663.1 610.6,1657.9 612.0,1662.7" fill="#111"/>
<line x1="624.7" y1="1623.2" x2="605.3" y2="1629.7" stroke="#555" stroke-width="1.75"/>
<polygon points="602.4,1630.7 610.6,1625.3 612.2,1630.0" fill="#111"/>
<line x1="673.2" y1="1938.2" x2="652.7" y2="1938.2" stroke="#555" stroke-width="1.75"/>
<polygon points="649.7,1938.2 659.2,1935.7 659.2,1940.7" fill="#111"/>
<line x1="673.2" y1="1905.0" x2="652.7" y2="1905.0" stroke="#555" stroke-width="1.75"/>
<polygon points="649.7,1905.0 659.2,1902.5 659.2,1907.5" fill="#111"/>
<line x1="673.2" y1="1855.3" x2="652.8" y2="1857.5" stroke="#555" stroke-width="1.75"/>
<polygon points="649.8,1857.9 659.0,1854.4 659.6,1859.3" fill="#111"/>
<line x1="673.2" y1="1822.1" x2="653.0" y2="1825.7" stroke="#555" stroke-width="1.75"/>
<polygon points="650.1,1826.2 659.0,1822.1 659.9,1827.0" fill="#111"/>
<line x1="673.2" y1="1789.0" x2="653.2" y2="1793.4" stroke="#555" stroke-width="1.75"/>
<polygon points="650.3,1794.1 659.0,1789.6 660.1,1794.5" fill="#111"/>
<line x1="673.2" y1="1739.2" x2="653.5" y2="1744.9" stroke="#555" stroke-width="1.75"/>
<polygon points="650.6,1745.7 659.1,1740.7 660.4,1745.5" fill="#111"/>
<line x1="673.2" y1="1706.1" x2="653.9" y2="1712.9" stroke="#555" stroke-width="1.75"/>
<polygon points="651.0,1713.9 659.2,1708.4 660.8,1713.1" fill="#111"/>
<line x1="673.2" y1="1656.3" x2="655.3" y2="1666.2" stroke="#555" stroke-width="1.75"/>
<polygon points="652.6,1667.7 659.7,1660.9 662.2,1665.3" fill="#111"/>
<line x1="673.2" y1="1623.2" x2="655.8" y2="1634.0" stroke="#555" stroke-width="1.75"/>
<polygon points="653.2,1635.6 660.0,1628.4 662.6,1632.7" fill="#111"/>
<line x1="712.0" y1="1938.2" x2="691.5" y2="1938.4" stroke="#555" stroke-width="1.75"/>
<polygon points="688.5,1938.4 698.0,1935.8 698.0,1940.8" fill="#111"/>
<line x1="712.0" y1="1905.0" x2="691.6" y2="1906.5" stroke="#555" stroke-width="1.75"/>
<polygon points="688.6,1906.7 697.9,1903.5 698.2,1908.5" fill="#111"/>
<line x1="712.0" y1="1855.3" x2="692.4" y2="1861.4" stroke="#555" stroke-width="1.75"/>
<polygon points="689.6,1862.3 697.9,1857.1 699.4,1861.9" fill="#111"/>
<line x1="712.0" y1="1822.1" x2="692.6" y2="1828.8" stroke="#555" stroke-width="1.75"/>
<polygon points="689.8,1829.8 697.9,1824.3 699.6,1829.0" fill="#111"/>
<line x1="712.0" y1="1789.0" x2="693.0" y2="1796.8" stroke="#555" stroke-width="1.75"/>
<polygon points="690.3,1798.0 698.1,1792.0 700.0,1796.6" fill="#111"/>
<line x1="712.0" y1="1739.2" x2="693.7" y2="1748.4" stroke="#555" stroke-width="1.75"/>
<polygon points="691.0,1749.7 698.4,1743.2 700.6,1747.7" fill="#111"/>
<line x1="712.0" y1="1706.1" x2="694.1" y2="1716.2" stroke="#555" stroke-width="1.75"/>
<polygon points="691.5,1717.6 698.6,1710.8 701.0,1715.2" fill="#111"/>
<line x1="712.0" y1="1656.3" x2="695.4" y2="1668.3" stroke="#555" stroke-width="1.75"/>
<polygon points="692.9,1670.0 699.2,1662.5 702.1,1666.5" fill="#111"/>
<line x1="712.0" y1="1623.2" x2="696.1" y2="1636.1" stroke="#555" stroke-width="1.75"/>
<polygon points="693.7,1638.0 699.5,1630.1 702.7,1633.9" fill="#111"/>
<line x1="760.5" y1="1938.2" x2="740.0" y2="1939.6" stroke="#555" stroke-width="1.75"/>
<polygon points="737.1,1939.8 746.4,1936.6 746.7,1941.6" fill="#111"/>
<line x1="760.5" y1="1905.0" x2="740.5" y2="1909.4" stroke="#555" stroke-width="1.75"/>
<polygon points="737.6,1910.1 746.3,1905.6 747.4,1910.5" fill="#111"/>
<line x1="760.5" y1="1855.3" x2="742.5" y2="1865.0" stroke="#555" stroke-width="1.75"/>
<polygon points="739.8,1866.4 747.0,1859.7 749.4,1864.1" fill="#111"/>
<line x1="760.5" y1="1822.1" x2="743.2" y2="1833.1" stroke="#555" stroke-width="1.75"/>
<polygon points="740.7,1834.7 747.3,1827.5 750.0,1831.7" fill="#111"/>
<line x1="760.5" y1="1789.0" x2="743.7" y2="1800.8" stroke="#555" stroke-width="1.75"/>
<polygon points="741.3,1802.5 747.6,1795.0 750.5,1799.1" fill="#111"/>
<line x1="760.5" y1="1739.2" x2="744.3" y2="1751.7" stroke="#555" stroke-width="1.75"/>
<polygon points="741.9,1753.5 747.9,1745.8 750.9,1749.7" fill="#111"/>
<line x1="760.5" y1="1706.1" x2="744.4" y2="1718.8" stroke="#555" stroke-width="1.75"/>
<polygon points="742.0,1720.6 748.0,1712.8 751.0,1716.7" fill="#111"/>
<line x1="760.5" y1="1656.3" x2="743.9" y2="1668.3" stroke="#555" stroke-width="1.75"/>
<polygon points="741.4,1670.0 747.7,1662.5 750.6,1666.5" fill="#111"/>
<line x1="760.5" y1="1623.2" x2="744.6" y2="1636.1" stroke="#555" stroke-width="1.75"/>
<polygon points="742.2,1638.0 748.0,1630.1 751.2,1633.9" fill="#111"/>
<line x1="799.3" y1="1938.2" x2="778.9" y2="1940.2" stroke="#555" stroke-width="1.75"/>
<polygon points="775.9,1940.5 785.1,1937.1 785.6,1942.1" fill="#111"/>
<line x1="799.3" y1="1905.0" x2="779.6" y2="1910.8" stroke="#555" stroke-width="1.75"/>
<polygon points="776.8,1911.6 785.2,1906.6 786.6,1911.4" fill="#111"/>
<line x1="799.3" y1="1855.3" x2="782.2" y2="1866.7" stroke="#555" stroke-width="1.75"/>
<polygon points="779.7,1868.3 786.3,1861.0 789.0,1865.1" fill="#111"/>
<line x1="799.3" y1="1822.1" x2="783.1" y2="1834.7" stroke="#555" stroke-width="1.75"/>
<polygon points="780.8,1836.5 786.7,1828.7 789.8,1832.7" fill="#111"/>
<line x1="799.3" y1="1789.0" x2="783.0" y2="1801.5" stroke="#555" stroke-width="1.75"/>
<polygon points="780.6,1803.3 786.7,1795.5 789.7,1799.5" fill="#111"/>
<line x1="799.3" y1="1739.2" x2="783.1" y2="1751.8" stroke="#555" stroke-width="1.75"/>
<polygon points="780.8,1753.6 786.7,1745.8 789.8,1749.8" fill="#111"/>
<line x1="799.3" y1="1706.1" x2="783.0" y2="1718.6" stroke="#555" stroke-width="1.75"/>
<polygon points="780.6,1720.4 786.7,1712.6 789.7,1716.6" fill="#111"/>
<line x1="799.3" y1="1656.3" x2="782.9" y2="1668.6" stroke="#555" stroke-width="1.75"/>
<polygon points="780.5,1670.4 786.6,1662.7 789.6,1666.7" fill="#111"/>
<line x1="799.3" y1="1623.2" x2="783.6" y2="1636.4" stroke="#555" stroke-width="1.75"/>
<polygon points="781.3,1638.3 787.0,1630.3 790.2,1634.1" fill="#111"/>
<line x1="847.8" y1="1938.2" x2="827.4" y2="1940.2" stroke="#555" stroke-width="1.75"/>
<polygon points="824.4,1940.5 833.6,1937.1 834.1,1942.1" fill="#111"/>
<line x1="847.8" y1="1905.0" x2="828.7" y2="1912.4" stroke="#555" stroke-width="1.75"/>
<polygon points="825.9,1913.5 833.8,1907.7 835.7,1912.4" fill="#111"/>
<line x1="847.8" y1="1855.3" x2="830.5" y2="1866.4" stroke="#555" stroke-width="1.75"/>
<polygon points="828.0,1868.0 834.7,1860.8 837.4,1865.0" fill="#111"/>
<line x1="847.8" y1="1822.1" x2="831.2" y2="1834.1" stroke="#555" stroke-width="1.75"/>
<polygon points="828.7,1835.8 835.0,1828.2 837.9,1832.3" fill="#111"/>
<line x1="847.8" y1="1789.0" x2="831.5" y2="1801.5" stroke="#555" stroke-width="1.75"/>
<polygon points="829.1,1803.3 835.2,1795.5 838.2,1799.5" fill="#111"/>
<line x1="847.8" y1="1739.2" x2="831.2" y2="1751.2" stroke="#555" stroke-width="1.75"/>
<polygon points="828.7,1752.9 835.0,1745.3 837.9,1749.4" fill="#111"/>
<line x1="847.8" y1="1706.1" x2="831.0" y2="1717.9" stroke="#555" stroke-width="1.75"/>
<polygon points="828.6,1719.6 834.9,1712.1 837.8,1716.2" fill="#111"/>
<line x1="847.8" y1="1656.3" x2="832.2" y2="1669.6" stroke="#555" stroke-width="1.75"/>
<polygon points="830.0,1671.6 835.5,1663.5 838.8,1667.3" fill="#111"/>
<line x1="847.8" y1="1623.2" x2="833.0" y2="1637.4" stroke="#555" stroke-width="1.75"/>
<polygon points="830.8,1639.5 836.0,1631.1 839.4,1634.7" fill="#111"/>
<line x1="886.6" y1="1938.2" x2="866.1" y2="1939.6" stroke="#555" stroke-width="1.75"/>
<polygon points="863.2,1939.8 872.5,1936.7 872.8,1941.6" fill="#111"/>
<line x1="886.6" y1="1905.0" x2="866.8" y2="1910.4" stroke="#555" stroke-width="1.75"/>
<polygon points="863.9,1911.2 872.4,1906.3 873.8,1911.1" fill="#111"/>
<line x1="886.6" y1="1855.3" x2="868.7" y2="1865.3" stroke="#555" stroke-width="1.75"/>
<polygon points="866.1,1866.8 873.2,1859.9 875.6,1864.3" fill="#111"/>
<line x1="886.6" y1="1822.1" x2="869.3" y2="1833.1" stroke="#555" stroke-width="1.75"/>
<polygon points="866.8,1834.8 873.5,1827.5 876.2,1831.7" fill="#111"/>
<line x1="886.6" y1="1789.0" x2="870.1" y2="1801.2" stroke="#555" stroke-width="1.75"/>
<polygon points="867.7,1802.9 873.8,1795.3 876.8,1799.3" fill="#111"/>
<line x1="886.6" y1="1739.2" x2="870.2" y2="1751.5" stroke="#555" stroke-width="1.75"/>
<polygon points="867.8,1753.3 873.9,1745.6 876.9,1749.6" fill="#111"/>
<line x1="886.6" y1="1706.1" x2="870.3" y2="1718.6" stroke="#555" stroke-width="1.75"/>
<polygon points="867.9,1720.4 874.0,1712.6 877.0,1716.6" fill="#111"/>
<line x1="886.6" y1="1656.3" x2="872.4" y2="1671.1" stroke="#555" stroke-width="1.75"/>
<polygon points="870.4,1673.3 875.1,1664.7 878.7,1668.1" fill="#111"/>
<line x1="886.6" y1="1623.2" x2="873.3" y2="1638.8" stroke="#555" stroke-width="1.75"/>
<polygon points="871.3,1641.1 875.6,1632.2 879.4,1635.5" fill="#111"/>
<line x1="935.1" y1="1938.2" x2="914.6" y2="1939.5" stroke="#555" stroke-width="1.75"/>
<polygon points="911.6,1939.6 921.0,1936.6 921.3,1941.6" fill="#111"/>
<line x1="935.1" y1="1905.0" x2="914.8" y2="1907.9" stroke="#555" stroke-width="1.75"/>
<polygon points="911.8,1908.4 920.9,1904.5 921.6,1909.5" fill="#111"/>
<line x1="935.1" y1="1855.3" x2="916.0" y2="1862.7" stroke="#555" stroke-width="1.75"/>
<polygon points="913.2,1863.8 921.1,1858.0 923.0,1862.7" fill="#111"/>
<line x1="935.1" y1="1822.1" x2="916.4" y2="1830.5" stroke="#555" stroke-width="1.75"/>
<polygon points="913.7,1831.7 921.3,1825.6 923.4,1830.1" fill="#111"/>
<line x1="935.1" y1="1789.0" x2="917.5" y2="1799.6" stroke="#555" stroke-width="1.75"/>
<polygon points="915.0,1801.1 921.8,1794.1 924.4,1798.4" fill="#111"/>
<line x1="935.1" y1="1739.2" x2="918.7" y2="1751.5" stroke="#555" stroke-width="1.75"/>
<polygon points="916.3,1753.3 922.4,1745.6 925.4,1749.6" fill="#111"/>
<line x1="935.1" y1="1706.1" x2="920.0" y2="1720.0" stroke="#555" stroke-width="1.75"/>
<polygon points="917.8,1722.0 923.1,1713.8 926.5,1717.4" fill="#111"/>
<line x1="935.1" y1="1656.3" x2="922.6" y2="1672.6" stroke="#555" stroke-width="1.75"/>
<polygon points="920.8,1675.0 924.6,1665.9 928.6,1668.9" fill="#111"/>
<line x1="935.1" y1="1623.2" x2="923.5" y2="1640.1" stroke="#555" stroke-width="1.75"/>
<polygon points="921.9,1642.6 925.1,1633.4 929.3,1636.2" fill="#111"/>
<line x1="973.9" y1="1938.2" x2="953.5" y2="1940.5" stroke="#555" stroke-width="1.75"/>
<polygon points="950.6,1940.9 959.7,1937.3 960.3,1942.3" fill="#111"/>
<line x1="973.9" y1="1905.0" x2="953.9" y2="1909.5" stroke="#555" stroke-width="1.75"/>
<polygon points="951.0,1910.2 959.7,1905.7 960.8,1910.5" fill="#111"/>
<line x1="973.9" y1="1855.3" x2="955.9" y2="1865.0" stroke="#555" stroke-width="1.75"/>
<polygon points="953.2,1866.4 960.4,1859.7 962.8,1864.1" fill="#111"/>
<line x1="973.9" y1="1822.1" x2="957.1" y2="1833.9" stroke="#555" stroke-width="1.75"/>
<polygon points="954.7,1835.6 961.0,1828.1 963.9,1832.2" fill="#111"/>
<line x1="973.9" y1="1789.0" x2="957.6" y2="1801.5" stroke="#555" stroke-width="1.75"/>
<polygon points="955.2,1803.3 961.3,1795.5 964.3,1799.5" fill="#111"/>
<line x1="973.9" y1="1739.2" x2="960.1" y2="1754.4" stroke="#555" stroke-width="1.75"/>
<polygon points="958.1,1756.6 962.6,1747.9 966.3,1751.2" fill="#111"/>
<line x1="973.9" y1="1706.1" x2="961.2" y2="1722.2" stroke="#555" stroke-width="1.75"/>
<polygon points="959.4,1724.6 963.3,1715.6 967.2,1718.6" fill="#111"/>
<line x1="973.9" y1="1656.3" x2="965.1" y2="1674.8" stroke="#555" stroke-width="1.75"/>
<polygon points="963.8,1677.5 965.6,1667.9 970.2,1670.0" fill="#111"/>
<line x1="973.9" y1="1623.2" x2="965.9" y2="1642.1" stroke="#555" stroke-width="1.75"/>
<polygon points="964.7,1644.8 966.1,1635.1 970.7,1637.1" fill="#111"/>
<line x1="1022.4" y1="1938.2" x2="1003.4" y2="1945.9" stroke="#555" stroke-width="1.75"/>
<polygon points="1000.6,1947.1 1008.5,1941.2 1010.4,1945.8" fill="#111"/>
<line x1="1022.4" y1="1905.0" x2="1006.0" y2="1917.3" stroke="#555" stroke-width="1.75"/>
<polygon points="1003.6,1919.1 1009.7,1911.4 1012.7,1915.4" fill="#111"/>
<line x1="1022.4" y1="1855.3" x2="1009.7" y2="1871.4" stroke="#555" stroke-width="1.75"/>
<polygon points="1007.9,1873.8 1011.8,1864.8 1015.7,1867.8" fill="#111"/>
<line x1="1022.4" y1="1822.1" x2="1011.5" y2="1839.5" stroke="#555" stroke-width="1.75"/>
<polygon points="1009.9,1842.0 1012.9,1832.6 1017.1,1835.3" fill="#111"/>
<line x1="1022.4" y1="1789.0" x2="1012.0" y2="1806.7" stroke="#555" stroke-width="1.75"/>
<polygon points="1010.5,1809.3 1013.2,1799.8 1017.5,1802.3" fill="#111"/>
<line x1="1022.4" y1="1739.2" x2="1013.2" y2="1757.5" stroke="#555" stroke-width="1.75"/>
<polygon points="1011.8,1760.2 1013.9,1750.6 1018.3,1752.8" fill="#111"/>
<line x1="1022.4" y1="1706.1" x2="1014.2" y2="1724.9" stroke="#555" stroke-width="1.75"/>
<polygon points="1013.0,1727.6 1014.5,1717.9 1019.1,1719.9" fill="#111"/>
<line x1="1022.4" y1="1656.3" x2="1015.4" y2="1675.6" stroke="#555" stroke-width="1.75"/>
<polygon points="1014.3,1678.4 1015.2,1668.6 1019.9,1670.3" fill="#111"/>
<line x1="1022.4" y1="1623.2" x2="1016.0" y2="1642.7" stroke="#555" stroke-width="1.75"/>
<polygon points="1015.1,1645.5 1015.7,1635.7 1020.4,1637.3" fill="#111"/>
<line x1="1061.2" y1="1938.2" x2="1046.9" y2="1952.9" stroke="#555" stroke-width="1.75"/>
<polygon points="1044.8,1955.0 1049.6,1946.5 1053.2,1950.0" fill="#111"/>
<line x1="1061.2" y1="1905.0" x2="1053.4" y2="1924.0" stroke="#555" stroke-width="1.75"/>
<polygon points="1052.2,1926.7 1053.6,1917.0 1058.2,1918.9" fill="#111"/>
<line x1="1061.2" y1="1855.3" x2="1055.4" y2="1875.0" stroke="#555" stroke-width="1.75"/>
<polygon points="1054.6,1877.8 1054.8,1868.0 1059.6,1869.4" fill="#111"/>
<line x1="1061.2" y1="1822.1" x2="1056.8" y2="1842.1" stroke="#555" stroke-width="1.75"/>
<polygon points="1056.1,1845.0 1055.7,1835.2 1060.6,1836.3" fill="#111"/>
<line x1="1061.2" y1="1789.0" x2="1056.8" y2="1809.0" stroke="#555" stroke-width="1.75"/>
<polygon points="1056.2,1812.0 1055.8,1802.1 1060.7,1803.2" fill="#111"/>
<line x1="1061.2" y1="1739.2" x2="1057.4" y2="1759.3" stroke="#555" stroke-width="1.75"/>
<polygon points="1056.8,1762.3 1056.1,1752.5 1061.1,1753.4" fill="#111"/>
<line x1="1061.2" y1="1706.1" x2="1057.3" y2="1726.2" stroke="#555" stroke-width="1.75"/>
<polygon points="1056.7,1729.2 1056.1,1719.4 1061.0,1720.3" fill="#111"/>
<line x1="1061.2" y1="1656.3" x2="1057.8" y2="1676.5" stroke="#555" stroke-width="1.75"/>
<polygon points="1057.3,1679.5 1056.4,1669.7 1061.3,1670.5" fill="#111"/>
<line x1="1061.2" y1="1623.2" x2="1058.1" y2="1643.5" stroke="#555" stroke-width="1.75"/>
<polygon points="1057.7,1646.4 1056.6,1636.7 1061.6,1637.4" fill="#111"/>
<line x1="1100.0" y1="1938.2" x2="1110.7" y2="1955.7" stroke="#555" stroke-width="1.75"/>
<polygon points="1112.2,1958.3 1105.2,1951.5 1109.4,1948.8" fill="#111"/>
<line x1="1100.0" y1="1905.0" x2="1106.3" y2="1924.5" stroke="#555" stroke-width="1.75"/>
<polygon points="1107.3,1927.3 1101.9,1919.1 1106.7,1917.5" fill="#111"/>
<line x1="1100.0" y1="1855.3" x2="1102.9" y2="1875.6" stroke="#555" stroke-width="1.75"/>
<polygon points="1103.3,1878.6 1099.5,1869.5 1104.4,1868.8" fill="#111"/>
<line x1="1100.0" y1="1822.1" x2="1100.7" y2="1842.6" stroke="#555" stroke-width="1.75"/>
<polygon points="1100.8,1845.6 1098.0,1836.2 1103.0,1836.0" fill="#111"/>
<line x1="1100.0" y1="1789.0" x2="1100.0" y2="1809.5" stroke="#555" stroke-width="1.75"/>
<polygon points="1100.0,1812.5 1097.5,1803.0 1102.5,1803.0" fill="#111"/>
<line x1="1100.0" y1="1739.2" x2="1100.0" y2="1759.7" stroke="#555" stroke-width="1.75"/>
<polygon points="1100.0,1762.7 1097.5,1753.2 1102.5,1753.2" fill="#111"/>
<line x1="1100.0" y1="1706.1" x2="1100.0" y2="1726.6" stroke="#555" stroke-width="1.75"/>
<polygon points="1100.0,1729.6 1097.5,1720.1 1102.5,1720.1" fill="#111"/>
<line x1="1100.0" y1="1656.3" x2="1100.0" y2="1676.8" stroke="#555" stroke-width="1.75"/>
<polygon points="1100.0,1679.8 1097.5,1670.3 1102.5,1670.3" fill="#111"/>
<line x1="1100.0" y1="1623.2" x2="1100.0" y2="1643.7" stroke="#555" stroke-width="1.75"/>
<polygon points="1100.0,1646.7 1097.5,1637.2 1102.5,1637.2" fill="#111"/>
<line x1="1148.5" y1="1938.2" x2="1167.5" y2="1945.8" stroke="#555" stroke-width="1.75"/>
<polygon points="1170.3,1946.9 1160.6,1945.7 1162.4,1941.1" fill="#111"/>
<line x1="1148.5" y1="1905.0" x2="1164.2" y2="1918.1" stroke="#555" stroke-width="1.75"/>
<polygon points="1166.5,1920.1 1157.6,1915.9 1160.8,1912.1" fill="#111"/>
<line x1="1148.5" y1="1855.3" x2="1159.6" y2="1872.5" stroke="#555" stroke-width="1.75"/>
<polygon points="1161.3,1875.0 1154.0,1868.4 1158.2,1865.7" fill="#111"/>
<line x1="1148.5" y1="1822.1" x2="1157.7" y2="1840.4" stroke="#555" stroke-width="1.75"/>
<polygon points="1159.0,1843.1 1152.5,1835.7 1157.0,1833.5" fill="#111"/>
<line x1="1148.5" y1="1789.0" x2="1156.1" y2="1808.0" stroke="#555" stroke-width="1.75"/>
<polygon points="1157.3,1810.8 1151.4,1802.9 1156.0,1801.1" fill="#111"/>
<line x1="1148.5" y1="1739.2" x2="1154.3" y2="1758.9" stroke="#555" stroke-width="1.75"/>
<polygon points="1155.1,1761.7 1150.1,1753.3 1154.9,1751.9" fill="#111"/>
<line x1="1148.5" y1="1706.1" x2="1153.9" y2="1725.9" stroke="#555" stroke-width="1.75"/>
<polygon points="1154.7,1728.8 1149.8,1720.3 1154.6,1719.0" fill="#111"/>
<line x1="1148.5" y1="1656.3" x2="1152.5" y2="1676.4" stroke="#555" stroke-width="1.75"/>
<polygon points="1153.1,1679.3 1148.8,1670.5 1153.7,1669.5" fill="#111"/>
<line x1="1148.5" y1="1623.2" x2="1152.1" y2="1643.4" stroke="#555" stroke-width="1.75"/>
<polygon points="1152.6,1646.3 1148.5,1637.4 1153.4,1636.5" fill="#111"/>
<line x1="1187.3" y1="1938.2" x2="1207.6" y2="1941.2" stroke="#555" stroke-width="1.75"/>
<polygon points="1210.5,1941.6 1200.8,1942.7 1201.5,1937.8" fill="#111"/>
<line x1="1187.3" y1="1905.0" x2="1205.8" y2="1913.8" stroke="#555" stroke-width="1.75"/>
<polygon points="1208.5,1915.1 1198.9,1913.3 1201.0,1908.7" fill="#111"/>
<line x1="1187.3" y1="1855.3" x2="1202.0" y2="1869.6" stroke="#555" stroke-width="1.75"/>
<polygon points="1204.2,1871.7 1195.6,1866.8 1199.1,1863.2" fill="#111"/>
<line x1="1187.3" y1="1822.1" x2="1200.4" y2="1837.8" stroke="#555" stroke-width="1.75"/>
<polygon points="1202.3,1840.2 1194.3,1834.5 1198.2,1831.3" fill="#111"/>
<line x1="1187.3" y1="1789.0" x2="1199.2" y2="1805.7" stroke="#555" stroke-width="1.75"/>
<polygon points="1200.9,1808.1 1193.4,1801.8 1197.5,1798.9" fill="#111"/>
<line x1="1187.3" y1="1739.2" x2="1195.9" y2="1757.8" stroke="#555" stroke-width="1.75"/>
<polygon points="1197.1,1760.5 1190.9,1753.0 1195.4,1750.9" fill="#111"/>
<line x1="1187.3" y1="1706.1" x2="1196.0" y2="1724.7" stroke="#555" stroke-width="1.75"/>
<polygon points="1197.2,1727.4 1191.0,1719.8 1195.5,1717.7" fill="#111"/>
<line x1="1187.3" y1="1656.3" x2="1194.3" y2="1675.6" stroke="#555" stroke-width="1.75"/>
<polygon points="1195.4,1678.4 1189.8,1670.3 1194.5,1668.6" fill="#111"/>
<line x1="1187.3" y1="1623.2" x2="1193.7" y2="1642.7" stroke="#555" stroke-width="1.75"/>
<polygon points="1194.6,1645.5 1189.3,1637.3 1194.0,1635.7" fill="#111"/>
<line x1="1235.8" y1="1938.2" x2="1256.2" y2="1940.2" stroke="#555" stroke-width="1.75"/>
<polygon points="1259.2,1940.5 1249.5,1942.0 1250.0,1937.1" fill="#111"/>
<line x1="1235.8" y1="1905.0" x2="1255.4" y2="1911.1" stroke="#555" stroke-width="1.75"/>
<polygon points="1258.2,1911.9 1248.4,1911.5 1249.9,1906.8" fill="#111"/>
<line x1="1235.8" y1="1855.3" x2="1252.8" y2="1866.8" stroke="#555" stroke-width="1.75"/>
<polygon points="1255.2,1868.5 1246.0,1865.2 1248.8,1861.1" fill="#111"/>
<line x1="1235.8" y1="1822.1" x2="1251.6" y2="1835.1" stroke="#555" stroke-width="1.75"/>
<polygon points="1253.9,1837.0 1245.0,1832.9 1248.2,1829.1" fill="#111"/>
<line x1="1235.8" y1="1789.0" x2="1250.6" y2="1803.1" stroke="#555" stroke-width="1.75"/>
<polygon points="1252.8,1805.2 1244.2,1800.5 1247.7,1796.8" fill="#111"/>
<line x1="1235.8" y1="1739.2" x2="1250.1" y2="1753.9" stroke="#555" stroke-width="1.75"/>
<polygon points="1252.2,1756.1 1243.7,1751.0 1247.3,1747.5" fill="#111"/>
<line x1="1235.8" y1="1706.1" x2="1248.9" y2="1721.9" stroke="#555" stroke-width="1.75"/>
<polygon points="1250.8,1724.2 1242.8,1718.5 1246.7,1715.3" fill="#111"/>
<line x1="1235.8" y1="1656.3" x2="1248.7" y2="1672.3" stroke="#555" stroke-width="1.75"/>
<polygon points="1250.6,1674.6 1242.6,1668.8 1246.5,1665.6" fill="#111"/>
<line x1="1235.8" y1="1623.2" x2="1247.8" y2="1639.8" stroke="#555" stroke-width="1.75"/>
<polygon points="1249.5,1642.3 1242.0,1636.0 1246.0,1633.1" fill="#111"/>
<line x1="1274.6" y1="1938.2" x2="1295.1" y2="1939.6" stroke="#555" stroke-width="1.75"/>
<polygon points="1298.0,1939.8 1288.4,1941.6 1288.7,1936.6" fill="#111"/>
<line x1="1274.6" y1="1905.0" x2="1294.5" y2="1909.9" stroke="#555" stroke-width="1.75"/>
<polygon points="1297.4,1910.6 1287.6,1910.7 1288.8,1905.9" fill="#111"/>
<line x1="1274.6" y1="1855.3" x2="1292.8" y2="1864.8" stroke="#555" stroke-width="1.75"/>
<polygon points="1295.4,1866.2 1285.9,1864.0 1288.2,1859.5" fill="#111"/>
<line x1="1274.6" y1="1822.1" x2="1291.4" y2="1833.8" stroke="#555" stroke-width="1.75"/>
<polygon points="1293.9,1835.5 1284.7,1832.2 1287.5,1828.1" fill="#111"/>
<line x1="1274.6" y1="1789.0" x2="1290.4" y2="1802.0" stroke="#555" stroke-width="1.75"/>
<polygon points="1292.8,1803.9 1283.8,1799.8 1287.0,1796.0" fill="#111"/>
<line x1="1274.6" y1="1739.2" x2="1290.1" y2="1752.6" stroke="#555" stroke-width="1.75"/>
<polygon points="1292.4,1754.6 1283.5,1750.3 1286.8,1746.5" fill="#111"/>
<line x1="1274.6" y1="1706.1" x2="1290.1" y2="1719.5" stroke="#555" stroke-width="1.75"/>
<polygon points="1292.4,1721.5 1283.5,1717.2 1286.8,1713.4" fill="#111"/>
<line x1="1274.6" y1="1656.3" x2="1289.6" y2="1670.2" stroke="#555" stroke-width="1.75"/>
<polygon points="1291.8,1672.3 1283.2,1667.6 1286.6,1664.0" fill="#111"/>
<line x1="1274.6" y1="1623.2" x2="1288.8" y2="1638.0" stroke="#555" stroke-width="1.75"/>
<polygon points="1290.9,1640.1 1282.5,1635.0 1286.1,1631.5" fill="#111"/>
<line x1="1323.1" y1="1938.2" x2="1343.6" y2="1939.1" stroke="#555" stroke-width="1.75"/>
<polygon points="1346.6,1939.2 1337.0,1941.3 1337.2,1936.3" fill="#111"/>
<line x1="1323.1" y1="1905.0" x2="1343.3" y2="1908.5" stroke="#555" stroke-width="1.75"/>
<polygon points="1346.3,1909.0 1336.5,1909.8 1337.3,1904.9" fill="#111"/>
<line x1="1323.1" y1="1855.3" x2="1341.9" y2="1863.5" stroke="#555" stroke-width="1.75"/>
<polygon points="1344.6,1864.7 1334.9,1863.2 1336.9,1858.6" fill="#111"/>
<line x1="1323.1" y1="1822.1" x2="1340.3" y2="1833.3" stroke="#555" stroke-width="1.75"/>
<polygon points="1342.8,1835.0 1333.4,1831.9 1336.2,1827.7" fill="#111"/>
<line x1="1323.1" y1="1789.0" x2="1338.8" y2="1802.2" stroke="#555" stroke-width="1.75"/>
<polygon points="1341.1,1804.1 1332.2,1799.9 1335.4,1796.1" fill="#111"/>
<line x1="1323.1" y1="1739.2" x2="1338.4" y2="1752.8" stroke="#555" stroke-width="1.75"/>
<polygon points="1340.6,1754.8 1331.9,1750.4 1335.2,1746.6" fill="#111"/>
<line x1="1323.1" y1="1706.1" x2="1338.4" y2="1719.7" stroke="#555" stroke-width="1.75"/>
<polygon points="1340.6,1721.7 1331.9,1717.3 1335.2,1713.5" fill="#111"/>
<line x1="1323.1" y1="1656.3" x2="1338.2" y2="1670.2" stroke="#555" stroke-width="1.75"/>
<polygon points="1340.4,1672.2 1331.7,1667.6 1335.1,1664.0" fill="#111"/>
<line x1="1323.1" y1="1623.2" x2="1337.4" y2="1637.9" stroke="#555" stroke-width="1.75"/>
<polygon points="1339.4,1640.1 1331.0,1635.0 1334.6,1631.5" fill="#111"/>
<line x1="1361.9" y1="1938.2" x2="1382.4" y2="1938.7" stroke="#555" stroke-width="1.75"/>
<polygon points="1385.4,1938.7 1375.8,1941.0 1376.0,1936.0" fill="#111"/>
<line x1="1361.9" y1="1905.0" x2="1382.3" y2="1906.9" stroke="#555" stroke-width="1.75"/>
<polygon points="1385.3,1907.1 1375.6,1908.8 1376.1,1903.8" fill="#111"/>
<line x1="1361.9" y1="1855.3" x2="1381.2" y2="1862.1" stroke="#555" stroke-width="1.75"/>
<polygon points="1384.1,1863.1 1374.3,1862.3 1375.9,1857.6" fill="#111"/>
<line x1="1361.9" y1="1822.1" x2="1379.6" y2="1832.5" stroke="#555" stroke-width="1.75"/>
<polygon points="1382.1,1834.0 1372.7,1831.4 1375.2,1827.1" fill="#111"/>
<line x1="1361.9" y1="1789.0" x2="1377.6" y2="1802.2" stroke="#555" stroke-width="1.75"/>
<polygon points="1379.8,1804.2 1371.0,1799.9 1374.2,1796.1" fill="#111"/>
<line x1="1361.9" y1="1739.2" x2="1375.9" y2="1754.1" stroke="#555" stroke-width="1.75"/>
<polygon points="1378.0,1756.3 1369.7,1751.1 1373.3,1747.7" fill="#111"/>
<line x1="1361.9" y1="1706.1" x2="1375.8" y2="1721.2" stroke="#555" stroke-width="1.75"/>
<polygon points="1377.8,1723.4 1369.6,1718.1 1373.2,1714.7" fill="#111"/>
<line x1="1361.9" y1="1656.3" x2="1377.0" y2="1670.2" stroke="#555" stroke-width="1.75"/>
<polygon points="1379.2,1672.2 1370.5,1667.6 1373.9,1664.0" fill="#111"/>
<line x1="1361.9" y1="1623.2" x2="1376.2" y2="1637.9" stroke="#555" stroke-width="1.75"/>
<polygon points="1378.2,1640.1 1369.8,1635.0 1373.4,1631.5" fill="#111"/>
<line x1="1410.4" y1="1938.2" x2="1430.9" y2="1938.4" stroke="#555" stroke-width="1.75"/>
<polygon points="1433.9,1938.4 1424.4,1940.8 1424.4,1935.8" fill="#111"/>
<line x1="1410.4" y1="1905.0" x2="1430.9" y2="1906.1" stroke="#555" stroke-width="1.75"/>
<polygon points="1433.9,1906.3 1424.2,1908.3 1424.5,1903.3" fill="#111"/>
<line x1="1410.4" y1="1855.3" x2="1430.4" y2="1859.9" stroke="#555" stroke-width="1.75"/>
<polygon points="1433.3,1860.6 1423.5,1860.9 1424.6,1856.0" fill="#111"/>
<line x1="1410.4" y1="1822.1" x2="1429.4" y2="1829.9" stroke="#555" stroke-width="1.75"/>
<polygon points="1432.1,1831.0 1422.4,1829.7 1424.3,1825.1" fill="#111"/>
<line x1="1410.4" y1="1789.0" x2="1428.1" y2="1799.3" stroke="#555" stroke-width="1.75"/>
<polygon points="1430.7,1800.9 1421.2,1798.2 1423.7,1793.9" fill="#111"/>
<line x1="1410.4" y1="1739.2" x2="1426.4" y2="1752.0" stroke="#555" stroke-width="1.75"/>
<polygon points="1428.7,1753.9 1419.8,1749.9 1422.9,1746.0" fill="#111"/>
<line x1="1410.4" y1="1706.1" x2="1425.5" y2="1720.0" stroke="#555" stroke-width="1.75"/>
<polygon points="1427.7,1722.0 1419.0,1717.4 1422.4,1713.7" fill="#111"/>
<line x1="1410.4" y1="1656.3" x2="1425.2" y2="1670.4" stroke="#555" stroke-width="1.75"/>
<polygon points="1427.4,1672.5 1418.8,1667.8 1422.3,1664.1" fill="#111"/>
<line x1="1410.4" y1="1623.2" x2="1424.4" y2="1638.2" stroke="#555" stroke-width="1.75"/>
<polygon points="1426.5,1640.3 1418.2,1635.1 1421.8,1631.7" fill="#111"/>
<line x1="1449.2" y1="1938.2" x2="1469.7" y2="1938.2" stroke="#555" stroke-width="1.75"/>
<polygon points="1472.7,1938.2 1463.2,1940.7 1463.2,1935.7" fill="#111"/>
<line x1="1449.2" y1="1905.0" x2="1469.7" y2="1905.7" stroke="#555" stroke-width="1.75"/>
<polygon points="1472.7,1905.8 1463.1,1908.0 1463.3,1903.0" fill="#111"/>
<line x1="1449.2" y1="1855.3" x2="1469.4" y2="1858.9" stroke="#555" stroke-width="1.75"/>
<polygon points="1472.3,1859.4 1462.5,1860.2 1463.4,1855.3" fill="#111"/>
<line x1="1449.2" y1="1822.1" x2="1469.2" y2="1826.7" stroke="#555" stroke-width="1.75"/>
<polygon points="1472.1,1827.4 1462.3,1827.7 1463.4,1822.8" fill="#111"/>
<line x1="1449.2" y1="1789.0" x2="1468.9" y2="1794.7" stroke="#555" stroke-width="1.75"/>
<polygon points="1471.8,1795.6 1461.9,1795.3 1463.3,1790.5" fill="#111"/>
<line x1="1449.2" y1="1739.2" x2="1467.1" y2="1749.3" stroke="#555" stroke-width="1.75"/>
<polygon points="1469.7,1750.7 1460.2,1748.3 1462.6,1743.9" fill="#111"/>
<line x1="1449.2" y1="1706.1" x2="1466.7" y2="1716.8" stroke="#555" stroke-width="1.75"/>
<polygon points="1469.2,1718.4 1459.8,1715.6 1462.4,1711.3" fill="#111"/>
<line x1="1449.2" y1="1656.3" x2="1464.6" y2="1669.9" stroke="#555" stroke-width="1.75"/>
<polygon points="1466.8,1671.8 1458.0,1667.4 1461.4,1663.7" fill="#111"/>
<line x1="1449.2" y1="1623.2" x2="1463.8" y2="1637.6" stroke="#555" stroke-width="1.75"/>
<polygon points="1465.9,1639.7 1457.4,1634.8 1460.9,1631.3" fill="#111"/>
<line x1="1497.7" y1="1938.2" x2="1518.2" y2="1937.8" stroke="#555" stroke-width="1.75"/>
<polygon points="1521.2,1937.7 1511.7,1940.4 1511.6,1935.4" fill="#111"/>
<line x1="1497.7" y1="1905.0" x2="1518.2" y2="1905.4" stroke="#555" stroke-width="1.75"/>
<polygon points="1521.2,1905.5 1511.6,1907.8 1511.7,1902.8" fill="#111"/>
<line x1="1497.7" y1="1855.3" x2="1518.1" y2="1857.5" stroke="#555" stroke-width="1.75"/>
<polygon points="1521.1,1857.8 1511.4,1859.3 1511.9,1854.3" fill="#111"/>
<line x1="1497.7" y1="1822.1" x2="1518.1" y2="1824.1" stroke="#555" stroke-width="1.75"/>
<polygon points="1521.1,1824.4 1511.4,1826.0 1511.9,1821.0" fill="#111"/>
<line x1="1497.7" y1="1789.0" x2="1517.9" y2="1792.4" stroke="#555" stroke-width="1.75"/>
<polygon points="1520.9,1792.9 1511.1,1793.8 1511.9,1788.8" fill="#111"/>
<line x1="1497.7" y1="1739.2" x2="1517.7" y2="1743.8" stroke="#555" stroke-width="1.75"/>
<polygon points="1520.6,1744.5 1510.8,1744.8 1511.9,1739.9" fill="#111"/>
<line x1="1497.7" y1="1706.1" x2="1517.5" y2="1711.6" stroke="#555" stroke-width="1.75"/>
<polygon points="1520.3,1712.4 1510.5,1712.3 1511.9,1707.4" fill="#111"/>
<line x1="1497.7" y1="1656.3" x2="1516.5" y2="1664.6" stroke="#555" stroke-width="1.75"/>
<polygon points="1519.2,1665.8 1509.5,1664.2 1511.5,1659.7" fill="#111"/>
<line x1="1497.7" y1="1623.2" x2="1516.1" y2="1632.3" stroke="#555" stroke-width="1.75"/>
<polygon points="1518.8,1633.6 1509.1,1631.6 1511.4,1627.2" fill="#111"/>
<line x1="1536.5" y1="1938.2" x2="1557.0" y2="1937.8" stroke="#555" stroke-width="1.75"/>
<polygon points="1560.0,1937.7 1550.5,1940.4 1550.4,1935.4" fill="#111"/>
<line x1="1536.5" y1="1905.0" x2="1557.0" y2="1905.2" stroke="#555" stroke-width="1.75"/>
<polygon points="1560.0,1905.2 1550.5,1907.6 1550.5,1902.6" fill="#111"/>
<line x1="1536.5" y1="1855.3" x2="1557.0" y2="1856.4" stroke="#555" stroke-width="1.75"/>
<polygon points="1560.0,1856.6 1550.3,1858.6 1550.6,1853.6" fill="#111"/>
<line x1="1536.5" y1="1822.1" x2="1557.0" y2="1823.4" stroke="#555" stroke-width="1.75"/>
<polygon points="1560.0,1823.6 1550.3,1825.5 1550.6,1820.5" fill="#111"/>
<line x1="1536.5" y1="1789.0" x2="1556.9" y2="1791.2" stroke="#555" stroke-width="1.75"/>
<polygon points="1559.9,1791.5 1550.2,1793.0 1550.7,1788.0" fill="#111"/>
<line x1="1536.5" y1="1739.2" x2="1556.8" y2="1742.3" stroke="#555" stroke-width="1.75"/>
<polygon points="1559.7,1742.7 1550.0,1743.8 1550.7,1738.8" fill="#111"/>
<line x1="1536.5" y1="1706.1" x2="1556.6" y2="1710.0" stroke="#555" stroke-width="1.75"/>
<polygon points="1559.6,1710.6 1549.8,1711.2 1550.7,1706.3" fill="#111"/>
<line x1="1536.5" y1="1656.3" x2="1556.3" y2="1661.4" stroke="#555" stroke-width="1.75"/>
<polygon points="1559.3,1662.2 1549.4,1662.2 1550.7,1657.4" fill="#111"/>
<line x1="1536.5" y1="1623.2" x2="1556.2" y2="1628.9" stroke="#555" stroke-width="1.75"/>
<polygon points="1559.1,1629.7 1549.3,1629.5 1550.6,1624.7" fill="#111"/>
<line x1="1585.0" y1="1938.2" x2="1605.5" y2="1938.2" stroke="#555" stroke-width="1.75"/>
<polygon points="1608.5,1938.2 1599.0,1940.7 1599.0,1935.7" fill="#111"/>
<line x1="1585.0" y1="1905.0" x2="1605.5" y2="1905.0" stroke="#555" stroke-width="1.75"/>
<polygon points="1608.5,1905.0 1599.0,1907.5 1599.0,1902.5" fill="#111"/>
<line x1="1585.0" y1="1855.3" x2="1605.5" y2="1855.6" stroke="#555" stroke-width="1.75"/>
<polygon points="1608.5,1855.6 1599.0,1858.0 1599.0,1853.0" fill="#111"/>
<line x1="1585.0" y1="1822.1" x2="1605.5" y2="1822.1" stroke="#555" stroke-width="1.75"/>
<polygon points="1608.5,1822.1 1599.0,1824.6 1599.0,1819.6" fill="#111"/>
<line x1="1585.0" y1="1789.0" x2="1605.5" y2="1788.8" stroke="#555" stroke-width="1.75"/>
<polygon points="1608.5,1788.8 1599.0,1791.4 1599.0,1786.4" fill="#111"/>
<line x1="1585.0" y1="1739.2" x2="1605.5" y2="1740.0" stroke="#555" stroke-width="1.75"/>
<polygon points="1608.5,1740.1 1598.9,1742.3 1599.1,1737.3" fill="#111"/>
<line x1="1585.0" y1="1706.1" x2="1605.5" y2="1707.1" stroke="#555" stroke-width="1.75"/>
<polygon points="1608.5,1707.3 1598.9,1709.3 1599.1,1704.3" fill="#111"/>
<line x1="1585.0" y1="1656.3" x2="1605.4" y2="1657.8" stroke="#555" stroke-width="1.75"/>
<polygon points="1608.4,1658.0 1598.8,1659.8 1599.1,1654.8" fill="#111"/>
<line x1="1585.0" y1="1623.2" x2="1605.4" y2="1624.8" stroke="#555" stroke-width="1.75"/>
<polygon points="1608.4,1625.1 1598.8,1626.8 1599.2,1621.8" fill="#111"/>
<line x1="1623.8" y1="1938.2" x2="1644.3" y2="1937.8" stroke="#555" stroke-width="1.75"/>
<polygon points="1647.3,1937.8 1637.8,1940.5 1637.8,1935.5" fill="#111"/>
<line x1="1623.8" y1="1905.0" x2="1644.3" y2="1904.6" stroke="#555" stroke-width="1.75"/>
<polygon points="1647.3,1904.6 1637.8,1907.3 1637.8,1902.3" fill="#111"/>
<line x1="1623.8" y1="1855.3" x2="1644.3" y2="1854.9" stroke="#555" stroke-width="1.75"/>
<polygon points="1647.3,1854.9 1637.8,1857.6 1637.8,1852.6" fill="#111"/>
<line x1="1623.8" y1="1822.1" x2="1644.3" y2="1821.2" stroke="#555" stroke-width="1.75"/>
<polygon points="1647.3,1821.1 1637.9,1824.0 1637.7,1819.0" fill="#111"/>
<line x1="1623.8" y1="1789.0" x2="1644.3" y2="1787.6" stroke="#555" stroke-width="1.75"/>
<polygon points="1647.2,1787.4 1637.9,1790.6 1637.6,1785.6" fill="#111"/>
<line x1="1623.8" y1="1739.2" x2="1644.3" y2="1738.3" stroke="#555" stroke-width="1.75"/>
<polygon points="1647.3,1738.2 1637.9,1741.1 1637.7,1736.1" fill="#111"/>
<line x1="1623.8" y1="1706.1" x2="1644.3" y2="1706.1" stroke="#555" stroke-width="1.75"/>
<polygon points="1647.3,1706.1 1637.8,1708.6 1637.8,1703.6" fill="#111"/>
<line x1="1623.8" y1="1656.3" x2="1644.3" y2="1656.3" stroke="#555" stroke-width="1.75"/>
<polygon points="1647.3,1656.3 1637.8,1658.8 1637.8,1653.8" fill="#111"/>
<line x1="1623.8" y1="1623.2" x2="1644.3" y2="1623.2" stroke="#555" stroke-width="1.75"/>
<polygon points="1647.3,1623.2 1637.8,1625.7 1637.8,1620.7" fill="#111"/>
<line x1="1672.3" y1="1938.2" x2="1692.8" y2="1937.7" stroke="#555" stroke-width="1.75"/>
<polygon points="1695.8,1937.7 1686.4,1940.4 1686.2,1935.4" fill="#111"/>
<line x1="1672.3" y1="1905.0" x2="1692.8" y2="1903.7" stroke="#555" stroke-width="1.75"/>
<polygon points="1695.8,1903.5 1686.4,1906.6 1686.1,1901.6" fill="#111"/>
<line x1="1672.3" y1="1855.3" x2="1692.8" y2="1854.0" stroke="#555" stroke-width="1.75"/>
<polygon points="1695.8,1853.8 1686.4,1856.9 1686.1,1851.9" fill="#111"/>
<line x1="1672.3" y1="1822.1" x2="1692.7" y2="1820.5" stroke="#555" stroke-width="1.75"/>
<polygon points="1695.7,1820.3 1686.5,1823.5 1686.1,1818.5" fill="#111"/>
<line x1="1672.3" y1="1789.0" x2="1692.7" y2="1786.9" stroke="#555" stroke-width="1.75"/>
<polygon points="1695.7,1786.6 1686.5,1790.1 1686.0,1785.1" fill="#111"/>
<line x1="1672.3" y1="1739.2" x2="1692.5" y2="1735.9" stroke="#555" stroke-width="1.75"/>
<polygon points="1695.5,1735.4 1686.5,1739.4 1685.7,1734.5" fill="#111"/>
<line x1="1672.3" y1="1706.1" x2="1692.5" y2="1702.3" stroke="#555" stroke-width="1.75"/>
<polygon points="1695.4,1701.8 1686.5,1706.0 1685.6,1701.1" fill="#111"/>
<line x1="1672.3" y1="1656.3" x2="1692.5" y2="1652.5" stroke="#555" stroke-width="1.75"/>
<polygon points="1695.4,1652.0 1686.5,1656.2 1685.6,1651.3" fill="#111"/>
<line x1="1672.3" y1="1623.2" x2="1692.4" y2="1619.0" stroke="#555" stroke-width="1.75"/>
<polygon points="1695.3,1618.4 1686.5,1622.8 1685.5,1617.9" fill="#111"/>
<line x1="1720.8" y1="1938.2" x2="1741.2" y2="1936.5" stroke="#555" stroke-width="1.75"/>
<polygon points="1744.2,1936.2 1735.0,1939.5 1734.5,1934.5" fill="#111"/>
<line x1="1720.8" y1="1905.0" x2="1741.2" y2="1903.3" stroke="#555" stroke-width="1.75"/>
<polygon points="1744.2,1903.0 1735.0,1906.3 1734.5,1901.3" fill="#111"/>
<line x1="1720.8" y1="1855.3" x2="1741.1" y2="1852.8" stroke="#555" stroke-width="1.75"/>
<polygon points="1744.1,1852.4 1735.0,1856.1 1734.4,1851.1" fill="#111"/>
<line x1="1720.8" y1="1822.1" x2="1740.9" y2="1817.9" stroke="#555" stroke-width="1.75"/>
<polygon points="1743.8,1817.3 1735.0,1821.7 1734.0,1816.8" fill="#111"/>
<line x1="1720.8" y1="1789.0" x2="1740.7" y2="1783.9" stroke="#555" stroke-width="1.75"/>
<polygon points="1743.6,1783.2 1735.0,1787.9 1733.7,1783.1" fill="#111"/>
<line x1="1720.8" y1="1739.2" x2="1740.5" y2="1733.5" stroke="#555" stroke-width="1.75"/>
<polygon points="1743.4,1732.7 1734.9,1737.7 1733.6,1732.9" fill="#111"/>
<line x1="1720.8" y1="1706.1" x2="1740.4" y2="1700.1" stroke="#555" stroke-width="1.75"/>
<polygon points="1743.3,1699.2 1734.9,1704.4 1733.4,1699.6" fill="#111"/>
<line x1="1720.8" y1="1656.3" x2="1740.1" y2="1649.5" stroke="#555" stroke-width="1.75"/>
<polygon points="1743.0,1648.5 1734.8,1654.0 1733.2,1649.3" fill="#111"/>
<line x1="1720.8" y1="1623.2" x2="1739.9" y2="1615.7" stroke="#555" stroke-width="1.75"/>
<polygon points="1742.7,1614.6 1734.7,1620.4 1732.9,1615.8" fill="#111"/>
<line x1="1759.6" y1="1938.2" x2="1780.0" y2="1936.6" stroke="#555" stroke-width="1.75"/>
<polygon points="1783.0,1936.3 1773.8,1939.6 1773.4,1934.6" fill="#111"/>
<line x1="1759.6" y1="1905.0" x2="1779.9" y2="1902.5" stroke="#555" stroke-width="1.75"/>
<polygon points="1782.9,1902.1 1773.8,1905.8 1773.2,1900.8" fill="#111"/>
<line x1="1759.6" y1="1855.3" x2="1779.7" y2="1851.5" stroke="#555" stroke-width="1.75"/>
<polygon points="1782.7,1850.9 1773.8,1855.1 1772.9,1850.2" fill="#111"/>
<line x1="1759.6" y1="1822.1" x2="1779.3" y2="1816.3" stroke="#555" stroke-width="1.75"/>
<polygon points="1782.2,1815.5 1773.7,1820.6 1772.3,1815.8" fill="#111"/>
<line x1="1759.6" y1="1789.0" x2="1779.3" y2="1783.2" stroke="#555" stroke-width="1.75"/>
<polygon points="1782.1,1782.3 1773.7,1787.4 1772.3,1782.6" fill="#111"/>
<line x1="1759.6" y1="1739.2" x2="1779.0" y2="1732.6" stroke="#555" stroke-width="1.75"/>
<polygon points="1781.9,1731.7 1773.7,1737.1 1772.1,1732.3" fill="#111"/>
<line x1="1759.6" y1="1706.1" x2="1779.0" y2="1699.6" stroke="#555" stroke-width="1.75"/>
<polygon points="1781.9,1698.6 1773.7,1704.0 1772.1,1699.3" fill="#111"/>
<line x1="1759.6" y1="1656.3" x2="1778.9" y2="1649.5" stroke="#555" stroke-width="1.75"/>
<polygon points="1781.8,1648.5 1773.6,1654.0 1772.0,1649.3" fill="#111"/>
<line x1="1759.6" y1="1623.2" x2="1778.7" y2="1615.6" stroke="#555" stroke-width="1.75"/>
<polygon points="1781.4,1614.5 1773.5,1620.4 1771.7,1615.7" fill="#111"/>
<line x1="1808.1" y1="1938.2" x2="1828.5" y2="1936.6" stroke="#555" stroke-width="1.75"/>
<polygon points="1831.5,1936.3 1822.3,1939.6 1821.9,1934.6" fill="#111"/>
<line x1="1808.1" y1="1905.0" x2="1828.5" y2="1902.5" stroke="#555" stroke-width="1.75"/>
<polygon points="1831.4,1902.2 1822.3,1905.8 1821.7,1900.8" fill="#111"/>
<line x1="1808.1" y1="1855.3" x2="1828.0" y2="1850.4" stroke="#555" stroke-width="1.75"/>
<polygon points="1830.9,1849.7 1822.3,1854.4 1821.1,1849.5" fill="#111"/>
<line x1="1808.1" y1="1822.1" x2="1827.8" y2="1816.4" stroke="#555" stroke-width="1.75"/>
<polygon points="1830.7,1815.6 1822.2,1820.6 1820.9,1815.8" fill="#111"/>
<line x1="1808.1" y1="1789.0" x2="1827.8" y2="1783.3" stroke="#555" stroke-width="1.75"/>
<polygon points="1830.7,1782.5 1822.2,1787.5 1820.9,1782.7" fill="#111"/>
<line x1="1808.1" y1="1739.2" x2="1827.9" y2="1733.9" stroke="#555" stroke-width="1.75"/>
<polygon points="1830.8,1733.1 1822.3,1738.0 1821.0,1733.1" fill="#111"/>
<line x1="1808.1" y1="1706.1" x2="1827.9" y2="1700.8" stroke="#555" stroke-width="1.75"/>
<polygon points="1830.8,1700.0 1822.3,1704.9 1821.0,1700.0" fill="#111"/>
<line x1="1808.1" y1="1656.3" x2="1828.0" y2="1651.4" stroke="#555" stroke-width="1.75"/>
<polygon points="1830.9,1650.7 1822.3,1655.4 1821.1,1650.5" fill="#111"/>
<line x1="1808.1" y1="1623.2" x2="1827.9" y2="1617.8" stroke="#555" stroke-width="1.75"/>
<polygon points="1830.8,1617.0 1822.3,1621.9 1820.9,1617.1" fill="#111"/>
<line x1="1846.9" y1="1938.2" x2="1867.3" y2="1936.5" stroke="#555" stroke-width="1.75"/>
<polygon points="1870.3,1936.2 1861.1,1939.5 1860.6,1934.5" fill="#111"/>
<line x1="1846.9" y1="1905.0" x2="1867.2" y2="1902.0" stroke="#555" stroke-width="1.75"/>
<polygon points="1870.1,1901.5 1861.1,1905.4 1860.4,1900.5" fill="#111"/>
<line x1="1846.9" y1="1855.3" x2="1866.6" y2="1849.5" stroke="#555" stroke-width="1.75"/>
<polygon points="1869.5,1848.7 1861.0,1853.8 1859.6,1849.0" fill="#111"/>
<line x1="1846.9" y1="1822.1" x2="1866.5" y2="1816.1" stroke="#555" stroke-width="1.75"/>
<polygon points="1869.4,1815.2 1861.0,1820.4 1859.5,1815.6" fill="#111"/>
<line x1="1846.9" y1="1789.0" x2="1866.4" y2="1782.5" stroke="#555" stroke-width="1.75"/>
<polygon points="1869.2,1781.6 1861.0,1787.0 1859.4,1782.2" fill="#111"/>
<line x1="1846.9" y1="1739.2" x2="1866.3" y2="1732.6" stroke="#555" stroke-width="1.75"/>
<polygon points="1869.1,1731.6 1861.0,1737.0 1859.3,1732.3" fill="#111"/>
<line x1="1846.9" y1="1706.1" x2="1866.3" y2="1699.5" stroke="#555" stroke-width="1.75"/>
<polygon points="1869.1,1698.5 1861.0,1703.9 1859.3,1699.2" fill="#111"/>
<line x1="1846.9" y1="1656.3" x2="1865.8" y2="1648.3" stroke="#555" stroke-width="1.75"/>
<polygon points="1868.5,1647.1 1860.8,1653.1 1858.8,1648.5" fill="#111"/>
<line x1="1846.9" y1="1623.2" x2="1865.4" y2="1614.4" stroke="#555" stroke-width="1.75"/>
<polygon points="1868.1,1613.1 1860.6,1619.4 1858.5,1614.9" fill="#111"/>
<line x1="1895.4" y1="1938.2" x2="1915.8" y2="1935.8" stroke="#555" stroke-width="1.75"/>
<polygon points="1918.7,1935.4 1909.6,1939.0 1909.0,1934.1" fill="#111"/>
<line x1="1895.4" y1="1905.0" x2="1915.3" y2="1899.9" stroke="#555" stroke-width="1.75"/>
<polygon points="1918.2,1899.2 1909.6,1903.9 1908.3,1899.1" fill="#111"/>
<line x1="1895.4" y1="1855.3" x2="1914.3" y2="1847.3" stroke="#555" stroke-width="1.75"/>
<polygon points="1917.0,1846.1 1909.3,1852.1 1907.3,1847.5" fill="#111"/>
<line x1="1895.4" y1="1822.1" x2="1913.5" y2="1812.5" stroke="#555" stroke-width="1.75"/>
<polygon points="1916.1,1811.1 1908.9,1817.7 1906.6,1813.3" fill="#111"/>
<line x1="1895.4" y1="1789.0" x2="1913.0" y2="1778.4" stroke="#555" stroke-width="1.75"/>
<polygon points="1915.5,1776.9 1908.7,1783.9 1906.1,1779.6" fill="#111"/>
<line x1="1895.4" y1="1739.2" x2="1911.7" y2="1726.7" stroke="#555" stroke-width="1.75"/>
<polygon points="1914.0,1724.9 1908.0,1732.7 1905.0,1728.7" fill="#111"/>
<line x1="1895.4" y1="1706.1" x2="1910.9" y2="1692.7" stroke="#555" stroke-width="1.75"/>
<polygon points="1913.2,1690.7 1907.6,1698.8 1904.3,1695.0" fill="#111"/>
<line x1="1895.4" y1="1656.3" x2="1910.1" y2="1642.0" stroke="#555" stroke-width="1.75"/>
<polygon points="1912.2,1639.9 1907.2,1648.3 1903.7,1644.7" fill="#111"/>
<line x1="1895.4" y1="1623.2" x2="1909.2" y2="1608.1" stroke="#555" stroke-width="1.75"/>
<polygon points="1911.3,1605.9 1906.7,1614.6 1903.0,1611.2" fill="#111"/>
<line x1="1934.2" y1="1938.2" x2="1954.4" y2="1935.0" stroke="#555" stroke-width="1.75"/>
<polygon points="1957.4,1934.5 1948.4,1938.5 1947.6,1933.5" fill="#111"/>
<line x1="1934.2" y1="1905.0" x2="1953.4" y2="1897.7" stroke="#555" stroke-width="1.75"/>
<polygon points="1956.2,1896.7 1948.2,1902.4 1946.4,1897.7" fill="#111"/>
<line x1="1934.2" y1="1855.3" x2="1951.4" y2="1844.1" stroke="#555" stroke-width="1.75"/>
<polygon points="1953.9,1842.5 1947.3,1849.8 1944.6,1845.6" fill="#111"/>
<line x1="1934.2" y1="1822.1" x2="1950.2" y2="1809.2" stroke="#555" stroke-width="1.75"/>
<polygon points="1952.5,1807.3 1946.7,1815.3 1943.5,1811.4" fill="#111"/>
<line x1="1934.2" y1="1789.0" x2="1948.6" y2="1774.4" stroke="#555" stroke-width="1.75"/>
<polygon points="1950.7,1772.3 1945.8,1780.8 1942.3,1777.3" fill="#111"/>
<line x1="1934.2" y1="1739.2" x2="1947.7" y2="1723.8" stroke="#555" stroke-width="1.75"/>
<polygon points="1949.7,1721.5 1945.3,1730.3 1941.5,1727.0" fill="#111"/>
<line x1="1934.2" y1="1706.1" x2="1947.5" y2="1690.5" stroke="#555" stroke-width="1.75"/>
<polygon points="1949.4,1688.2 1945.2,1697.1 1941.4,1693.8" fill="#111"/>
<line x1="1934.2" y1="1656.3" x2="1946.5" y2="1639.9" stroke="#555" stroke-width="1.75"/>
<polygon points="1948.3,1637.5 1944.6,1646.6 1940.6,1643.6" fill="#111"/>
<line x1="1934.2" y1="1623.2" x2="1945.6" y2="1606.2" stroke="#555" stroke-width="1.75"/>
<polygon points="1947.3,1603.7 1944.1,1613.0 1939.9,1610.2" fill="#111"/>
</g>
<line x1="207.70000000000002" y1="1630.4" x2="1961.85" y2="1630.4" stroke="#1e1e1e" stroke-width="3.9"/>
<line x1="207.70000000000002" y1="1961.7" x2="1961.85" y2="1961.7" stroke="#1e1e1e" stroke-width="4.2"/>
<line x1="209.9" y1="1630.4" x2="209.9" y2="1961.7" stroke="#1e1e1e" stroke-width="4.4"/>
<line x1="1960.5" y1="1630.4" x2="1960.5" y2="1961.7" stroke="#2c3038" stroke-width="2.7"/>
<line x1="208.4" y1="1630.4" x2="237.9" y2="1630.4" stroke="#0a0a0a" stroke-width="5.5"/>
<line x1="208.4" y1="1796.8" x2="237.9" y2="1796.8" stroke="#0a0a0a" stroke-width="5.5"/>
<line x1="208.4" y1="1961.7" x2="237.9" y2="1961.7" stroke="#0a0a0a" stroke-width="5.5"/>
<line x1="209.9" y1="1713.6" x2="226.9" y2="1713.6" stroke="#6a6a6a" stroke-width="2"/>
<line x1="209.9" y1="1879.2" x2="226.9" y2="1879.2" stroke="#6a6a6a" stroke-width="2"/>
<line x1="209.9" y1="1936.2" x2="209.9" y2="1963.2" stroke="#0a0a0a" stroke-width="5.5"/>

<line x1="598.8" y1="1936.2" x2="598.8" y2="1963.2" stroke="#0a0a0a" stroke-width="5.5"/>

<line x1="987.7" y1="1936.2" x2="987.7" y2="1963.2" stroke="#0a0a0a" stroke-width="5.5"/>

<line x1="1376.5" y1="1936.2" x2="1376.5" y2="1963.2" stroke="#0a0a0a" stroke-width="5.5"/>

<line x1="1765.4" y1="1936.2" x2="1765.4" y2="1963.2" stroke="#0a0a0a" stroke-width="5.5"/>

<line x1="404.3" y1="1947.7" x2="404.3" y2="1961.7" stroke="#5a5a5a" stroke-width="2"/>
<line x1="793.2" y1="1947.7" x2="793.2" y2="1961.7" stroke="#5a5a5a" stroke-width="2"/>
<line x1="1182.1" y1="1947.7" x2="1182.1" y2="1961.7" stroke="#5a5a5a" stroke-width="2"/>
<line x1="1571.0" y1="1947.7" x2="1571.0" y2="1961.7" stroke="#5a5a5a" stroke-width="2"/>



<rect x="1964.2" y="1629.7" width="84.1" height="330.1" fill="#8b5f00" stroke="#dca000" stroke-width="4"/>
</g>
<g filter="url(#bt)">
<text transform="translate(179.0,393.7) scale(1.08,1)" text-anchor="middle" font-family='"Liberation Sans", Arial, sans-serif' font-size="40" fill="#000" stroke="#000" stroke-width="0.35">34</text>
<text transform="translate(570.6,393.7) scale(1.08,1)" text-anchor="middle" font-family='"Liberation Sans", Arial, sans-serif' font-size="40" fill="#000" stroke="#000" stroke-width="0.35">34.4</text>
<text transform="translate(962.2,393.7) scale(1.08,1)" text-anchor="middle" font-family='"Liberation Sans", Arial, sans-serif' font-size="40" fill="#000" stroke="#000" stroke-width="0.35">34.8</text>
<text transform="translate(1353.8,393.7) scale(1.08,1)" text-anchor="middle" font-family='"Liberation Sans", Arial, sans-serif' font-size="40" fill="#000" stroke="#000" stroke-width="0.35">35.2</text>
<text transform="translate(1745.4,393.7) scale(1.08,1)" text-anchor="middle" font-family='"Liberation Sans", Arial, sans-serif' font-size="40" fill="#000" stroke="#000" stroke-width="0.35">35.6</text>
<text transform="translate(152.3,44.0) scale(1.03,1)" text-anchor="end" font-family='"Liberation Sans", Arial, sans-serif' font-size="40" fill="#000" stroke="#000" stroke-width="0.35">0.1</text>
<text transform="translate(152.3,205.5) scale(1.03,1)" text-anchor="end" font-family='"Liberation Sans", Arial, sans-serif' font-size="40" fill="#000" stroke="#000" stroke-width="0.35">0</text>
<text transform="translate(152.3,367.2) scale(1.03,1)" text-anchor="end" font-family='"Liberation Sans", Arial, sans-serif' font-size="40" fill="#000" stroke="#000" stroke-width="0.35">-0.1</text>
<text x="1585.5" y="76" font-family='"Liberation Serif", "Times New Roman", serif' font-size="43" fill="#000" textLength="330" lengthAdjust="spacingAndGlyphs">Surface Elevation</text>
<text transform="translate(179.0,859.9) scale(1.08,1)" text-anchor="middle" font-family='"Liberation Sans", Arial, sans-serif' font-size="40" fill="#000" stroke="#000" stroke-width="0.35">34</text>
<text transform="translate(570.2,859.9) scale(1.08,1)" text-anchor="middle" font-family='"Liberation Sans", Arial, sans-serif' font-size="40" fill="#000" stroke="#000" stroke-width="0.35">34.4</text>
<text transform="translate(961.4,859.9) scale(1.08,1)" text-anchor="middle" font-family='"Liberation Sans", Arial, sans-serif' font-size="40" fill="#000" stroke="#000" stroke-width="0.35">34.8</text>
<text transform="translate(1352.6,859.9) scale(1.08,1)" text-anchor="middle" font-family='"Liberation Sans", Arial, sans-serif' font-size="40" fill="#000" stroke="#000" stroke-width="0.35">35.2</text>
<text transform="translate(1743.8,859.9) scale(1.08,1)" text-anchor="middle" font-family='"Liberation Sans", Arial, sans-serif' font-size="40" fill="#000" stroke="#000" stroke-width="0.35">35.6</text>
<text transform="translate(154.3,501.5) scale(1.03,1)" text-anchor="end" font-family='"Liberation Sans", Arial, sans-serif' font-size="40" fill="#000" stroke="#000" stroke-width="0.35">-0.1</text>
<text transform="translate(154.3,667.6) scale(1.03,1)" text-anchor="end" font-family='"Liberation Sans", Arial, sans-serif' font-size="40" fill="#000" stroke="#000" stroke-width="0.35">-0.2</text>
<text transform="translate(154.3,831.4) scale(1.03,1)" text-anchor="end" font-family='"Liberation Sans", Arial, sans-serif' font-size="40" fill="#000" stroke="#000" stroke-width="0.35">-0.3</text>
<text transform="translate(198.2,1536.2) scale(1.11,1)" text-anchor="middle" font-family='"Liberation Sans", Arial, sans-serif' font-size="40" fill="#000" stroke="#000" stroke-width="0.35">34</text>
<text transform="translate(593.6,1536.2) scale(1.11,1)" text-anchor="middle" font-family='"Liberation Sans", Arial, sans-serif' font-size="40" fill="#000" stroke="#000" stroke-width="0.35">34.4</text>
<text transform="translate(989.1,1536.2) scale(1.11,1)" text-anchor="middle" font-family='"Liberation Sans", Arial, sans-serif' font-size="40" fill="#000" stroke="#000" stroke-width="0.35">34.8</text>
<text transform="translate(1384.5,1536.2) scale(1.11,1)" text-anchor="middle" font-family='"Liberation Sans", Arial, sans-serif' font-size="40" fill="#000" stroke="#000" stroke-width="0.35">35.2</text>
<text transform="translate(1780.0,1536.2) scale(1.11,1)" text-anchor="middle" font-family='"Liberation Sans", Arial, sans-serif' font-size="40" fill="#000" stroke="#000" stroke-width="0.35">35.6</text>
<text transform="translate(171.8,1192.5) scale(1.03,1)" text-anchor="end" font-family='"Liberation Sans", Arial, sans-serif' font-size="40" fill="#000" stroke="#000" stroke-width="0.35">0.1</text>
<text transform="translate(171.8,1351.0) scale(1.03,1)" text-anchor="end" font-family='"Liberation Sans", Arial, sans-serif' font-size="40" fill="#000" stroke="#000" stroke-width="0.35">0</text>
<text transform="translate(171.8,1509.8) scale(1.03,1)" text-anchor="end" font-family='"Liberation Sans", Arial, sans-serif' font-size="40" fill="#000" stroke="#000" stroke-width="0.35">-0.1</text>
<text x="983.5" y="1227.2" font-family='"Liberation Serif", "Times New Roman", serif' font-size="43" fill="#000" textLength="333" lengthAdjust="spacingAndGlyphs">Surface Elevation</text>
<text transform="translate(209.4,2001.4) scale(1.075,1)" text-anchor="middle" font-family='"Liberation Sans", Arial, sans-serif' font-size="40" fill="#000" stroke="#000" stroke-width="0.35">34</text>
<text transform="translate(598.3,2001.4) scale(1.075,1)" text-anchor="middle" font-family='"Liberation Sans", Arial, sans-serif' font-size="40" fill="#000" stroke="#000" stroke-width="0.35">34.4</text>
<text transform="translate(987.2,2001.4) scale(1.075,1)" text-anchor="middle" font-family='"Liberation Sans", Arial, sans-serif' font-size="40" fill="#000" stroke="#000" stroke-width="0.35">34.8</text>
<text transform="translate(1376.0,2001.4) scale(1.075,1)" text-anchor="middle" font-family='"Liberation Sans", Arial, sans-serif' font-size="40" fill="#000" stroke="#000" stroke-width="0.35">35.2</text>
<text transform="translate(1764.9,2001.4) scale(1.075,1)" text-anchor="middle" font-family='"Liberation Sans", Arial, sans-serif' font-size="40" fill="#000" stroke="#000" stroke-width="0.35">35.6</text>
<text transform="translate(184.2,1645.7) scale(1.03,1)" text-anchor="end" font-family='"Liberation Sans", Arial, sans-serif' font-size="40" fill="#000" stroke="#000" stroke-width="0.35">-0.1</text>
<text transform="translate(184.2,1809.9) scale(1.03,1)" text-anchor="end" font-family='"Liberation Sans", Arial, sans-serif' font-size="40" fill="#000" stroke="#000" stroke-width="0.35">-0.2</text>
<text transform="translate(184.2,1974.4) scale(1.03,1)" text-anchor="end" font-family='"Liberation Sans", Arial, sans-serif' font-size="40" fill="#000" stroke="#000" stroke-width="0.35">-0.3</text>
</g>
<text transform="translate(1061.5,440.5) scale(1.0,1.0)" text-anchor="middle" font-family='"Liberation Serif", "Times New Roman", serif' font-size="61" fill="#000"><tspan font-style="italic">x</tspan> <tspan font-size="65.3" dy="3.7">[</tspan><tspan dy="-3.7">m</tspan><tspan font-size="65.3" dy="3.7">]</tspan></text>
<text transform="translate(1061.8,918.8) scale(1.0,1.0)" text-anchor="middle" font-family='"Liberation Serif", "Times New Roman", serif' font-size="61" fill="#000"><tspan font-style="italic">x</tspan> <tspan font-size="65.3" dy="3.7">[</tspan><tspan dy="-3.7">m</tspan><tspan font-size="65.3" dy="3.7">]</tspan></text>
<text transform="translate(1069.5,1588.8) scale(1.025,1.0)" text-anchor="middle" font-family='"Liberation Serif", "Times New Roman", serif' font-size="61" fill="#000"><tspan font-style="italic">x</tspan> <tspan font-size="65.3" dy="3.7">[</tspan><tspan dy="-3.7">m</tspan><tspan font-size="65.3" dy="3.7">]</tspan></text>
<text transform="translate(1069.5,2070.9) scale(1.025,1.0)" text-anchor="middle" font-family='"Liberation Serif", "Times New Roman", serif' font-size="61" fill="#000"><tspan font-style="italic">x</tspan> <tspan font-size="65.3" dy="3.7">[</tspan><tspan dy="-3.7">m</tspan><tspan font-size="65.3" dy="3.7">]</tspan></text>
<circle cx="1012" cy="884.4" r="1.6" fill="#333"/>
<text transform="translate(70.0,199.2) rotate(-90) scale(0.956,1.1)" text-anchor="middle" font-family='"Liberation Serif", "Times New Roman", serif' font-size="61" fill="#000"><tspan font-style="italic">z</tspan> <tspan font-size="65.3" dy="3.7">[</tspan><tspan dy="-3.7">m</tspan><tspan font-size="65.3" dy="3.7">]</tspan></text>
<text transform="translate(64.8,654.6) rotate(-90) scale(0.934,1.1)" text-anchor="middle" font-family='"Liberation Serif", "Times New Roman", serif' font-size="61" fill="#000"><tspan font-style="italic">z</tspan> <tspan font-size="65.3" dy="3.7">[</tspan><tspan dy="-3.7">m</tspan><tspan font-size="65.3" dy="3.7">]</tspan></text>
<text transform="translate(64.8,1326.0) rotate(-90) scale(0.919,1.1)" text-anchor="middle" font-family='"Liberation Serif", "Times New Roman", serif' font-size="61" fill="#000"><tspan font-style="italic">z</tspan> <tspan font-size="65.3" dy="3.7">[</tspan><tspan dy="-3.7">m</tspan><tspan font-size="65.3" dy="3.7">]</tspan></text>
<text transform="translate(62.1,1804.3) rotate(-90) scale(0.928,1.1)" text-anchor="middle" font-family='"Liberation Serif", "Times New Roman", serif' font-size="61" fill="#000"><tspan font-style="italic">z</tspan> <tspan font-size="65.3" dy="3.7">[</tspan><tspan dy="-3.7">m</tspan><tspan font-size="65.3" dy="3.7">]</tspan></text>
<text x="1019.2" y="1119.8" text-anchor="middle" font-family='"Liberation Serif", "Times New Roman", serif' font-size="85" fill="#000">(<tspan font-weight="bold">a</tspan>)</text>
<text x="1018.6" y="2269.8" text-anchor="middle" font-family='"Liberation Serif", "Times New Roman", serif' font-size="86.5" fill="#000">(<tspan font-weight="bold">b</tspan>)</text>
</svg>
</body></html>
